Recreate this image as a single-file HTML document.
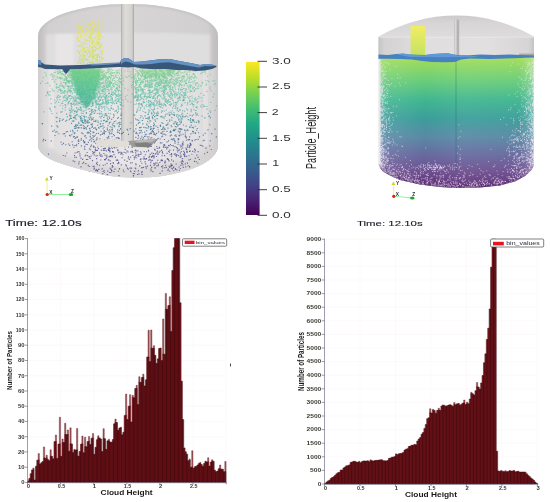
<!DOCTYPE html><html><head><meta charset="utf-8"><title>Particle height</title>
<style>html,body{margin:0;padding:0;background:#fff}svg{display:block}text{font-family:"Liberation Sans",sans-serif}</style></head><body>
<svg width="550" height="502" viewBox="0 0 550 502">
<rect width="550" height="502" fill="#fff"/>
<defs>
<filter id="bl" x="-5%" y="-5%" width="110%" height="110%"><feGaussianBlur stdDeviation="0.5"/></filter>
<filter id="bl3" x="-5%" y="-20%" width="110%" height="140%"><feGaussianBlur stdDeviation="2"/></filter>
<filter id="bl2" x="-5%" y="-5%" width="110%" height="110%"><feGaussianBlur stdDeviation="1.0"/></filter>
<linearGradient id="cb" x1="0" y1="0" x2="0" y2="1"><stop offset="0.000" stop-color="#fde725"/><stop offset="0.100" stop-color="#bddf26"/><stop offset="0.200" stop-color="#7ad151"/><stop offset="0.300" stop-color="#44bf70"/><stop offset="0.400" stop-color="#22a884"/><stop offset="0.500" stop-color="#21918c"/><stop offset="0.600" stop-color="#2a788e"/><stop offset="0.700" stop-color="#355f8d"/><stop offset="0.800" stop-color="#414487"/><stop offset="0.900" stop-color="#482475"/><stop offset="1.000" stop-color="#440154"/></linearGradient>
<linearGradient id="tk" x1="0" y1="0" x2="1" y2="0"><stop offset="0" stop-color="#bfbdbe"/><stop offset="0.03" stop-color="#cac8c9"/><stop offset="0.06" stop-color="#d2d0d1"/><stop offset="0.5" stop-color="#d7d5d6"/><stop offset="0.94" stop-color="#d1cfd0"/><stop offset="1" stop-color="#bdbbbc"/></linearGradient>
<linearGradient id="tkw" x1="0" y1="0" x2="1" y2="0"><stop offset="0" stop-color="#cfcdce"/><stop offset="0.04" stop-color="#dddbdc"/><stop offset="0.14" stop-color="#e3e1e2"/><stop offset="0.5" stop-color="#e8e6e6"/><stop offset="0.88" stop-color="#e2e0e1"/><stop offset="0.97" stop-color="#d6d4d5"/><stop offset="1" stop-color="#cbc9ca"/></linearGradient>
<linearGradient id="sh" x1="0" y1="0" x2="1" y2="0"><stop offset="0" stop-color="#a9a7a5"/><stop offset="0.12" stop-color="#cfcdc9"/><stop offset="0.35" stop-color="#dedcd8"/><stop offset="0.85" stop-color="#d3d1cd"/><stop offset="1" stop-color="#a5a3a1"/></linearGradient>
<linearGradient id="pl" x1="0" y1="0" x2="0" y2="1"><stop offset="0" stop-color="#55ca74"/><stop offset="1" stop-color="#38b38e"/></linearGradient>
<linearGradient id="rb" x1="0" y1="0" x2="0" y2="1"><stop offset="0.000" stop-color="#a2dd57"/><stop offset="0.160" stop-color="#6cce78"/><stop offset="0.313" stop-color="#40b690"/><stop offset="0.450" stop-color="#3b9e9a"/><stop offset="0.588" stop-color="#5989a5"/><stop offset="0.725" stop-color="#67699f"/><stop offset="0.847" stop-color="#6d4e8f"/><stop offset="1.000" stop-color="#58216c"/></linearGradient>
<linearGradient id="rbx" x1="0" y1="0" x2="1" y2="0"><stop offset="0" stop-color="#fff" stop-opacity="0.28"/><stop offset="0.05" stop-color="#fff" stop-opacity="0.1"/><stop offset="0.3" stop-color="#fff" stop-opacity="0.0"/><stop offset="0.55" stop-color="#fff" stop-opacity="0.06"/><stop offset="0.9" stop-color="#fff" stop-opacity="0.03"/><stop offset="1" stop-color="#fff" stop-opacity="0.25"/></linearGradient>
<linearGradient id="dm" x1="0" y1="0" x2="0" y2="1"><stop offset="0.03" stop-color="#cdcacc"/><stop offset="0.07" stop-color="#d8d5d7"/><stop offset="0.14" stop-color="#dedbdd"/></linearGradient>
<linearGradient id="tk2" x1="0" y1="0" x2="1" y2="0"><stop offset="0" stop-color="#c4c2c3"/><stop offset="0.04" stop-color="#d4d2d3"/><stop offset="0.3" stop-color="#e0dede"/><stop offset="0.7" stop-color="#e1dfdf"/><stop offset="0.96" stop-color="#d6d4d5"/><stop offset="1" stop-color="#c2c0c1"/></linearGradient>
<linearGradient id="yc" x1="0" y1="0" x2="0" y2="1"><stop offset="0" stop-color="#f2ec64"/><stop offset="1" stop-color="#c2e262"/></linearGradient>
<clipPath id="lt"><path d="M38,36 A90,32 0 0 1 218,36 L218,145 C218,157 203,169 165,175.5 C150,178.5 112,178.5 96,173 C62,165 38,158 38,145 Z"/></clipPath>
<clipPath id="rt"><path d="M378.5,36.5 A155,155 0 0 1 534,36.5 L534,164 L534,164 L533,167 L531,170.5 L525,176 L515,181.5 L500,185.5 L480,187.5 L456,188 L440,187 L420,184.5 L400,180 L390,175.5 L383,171.5 L380,168 L378.5,164 Z"/></clipPath>
</defs>
<g clip-path="url(#lt)">
<rect x="38" y="0" width="180" height="180" fill="url(#tk)"/>
<g filter="url(#bl2)"><path d="M46,34.5 Q128,30.5 210,34.5 L210,67 L46,67Z" fill="#e2e0e1" opacity="0.85"/><rect x="55.5" y="33.5" width="18" height="32" fill="#edebec" opacity="0.6"/></g>
<g filter="url(#bl2)"><path d="M38,36 A90,32 0 0 1 218,36 L218,145 C218,157 203,169 165,175.5 C150,178.5 112,178.5 96,173 C62,165 38,158 38,145 Z" fill="none" stroke="#c2c0c1" stroke-width="3.5" opacity="0.8"/></g>
<rect x="38" y="66" width="180" height="115" fill="url(#tkw)"/>
<rect x="48.5" y="68" width="5.5" height="80" fill="#efeded" opacity="0.45"/>
<rect x="203" y="68" width="5" height="78" fill="#edebeb" opacity="0.4"/>
<g filter="url(#bl3)"><path d="M30,136 C55,158 100,167 128,167 C160,167 203,158 226,136 L226,185 L30,185Z" fill="#d0cecf" opacity="0.6"/></g>
<rect x="121" y="0" width="13" height="140" fill="url(#sh)"/>
<g filter="url(#bl2)"><path d="M70,68.5 L101,68.5 L99.5,80 L96,92 L91,104 L85,108 L80.5,100 L75,88 L71.5,78Z" fill="url(#pl)" opacity="0.72"/><path d="M138,69 L176,69 L172,75 L160,79 L146,77Z" fill="#6fd07a" opacity="0.35"/></g>
<g filter="url(#bl)">
<path d="M111.1 170.9h1.15M137.0 174.5h1.15M129.9 171.0h1.15M98.3 169.3h1.15M137.8 170.9h1.15M118.4 175.6h1.15M126.9 168.1h1.15M164.2 167.7h1.15M150.4 169.1h1.15M74.1 161.7h1.15M193.9 161.4h1.15M159.5 173.4h1.15" stroke="#482576" stroke-width="1.15" fill="none" opacity="0.72"/>
<path d="M181.2 163.5h1.15M145.3 166.6h1.15M130.3 151.8h1.15M109.5 156.1h1.15M130.0 157.2h1.15M93.0 152.7h1.15M143.9 158.5h1.15M132.8 175.8h1.15M96.1 158.6h1.15M161.6 160.2h1.15M182.4 165.0h1.15M178.1 155.6h1.15M80.5 166.9h1.15M186.9 163.1h1.15M110.0 163.6h1.15M111.1 170.3h1.15M161.1 166.6h1.15M173.2 167.0h1.15M133.9 159.0h1.15M166.9 158.9h1.15M141.0 172.1h1.15M93.8 168.1h1.15M101.6 168.9h1.15M110.4 169.3h1.15M135.7 157.7h1.15M88.7 166.5h1.15M125.3 152.9h1.15M92.4 153.6h1.15M99.0 153.1h1.15M100.3 156.3h1.15M179.8 168.5h1.15M150.7 161.0h1.15M149.9 165.4h1.15M160.9 159.9h1.15M94.9 147.7h1.15M178.8 170.2h1.15M102.8 148.5h1.15M172.9 167.6h1.15M122.9 170.0h1.15M161.4 160.2h1.15M80.4 158.1h1.15M144.5 161.8h1.15M180.7 162.1h1.15M198.8 159.5h1.15M157.1 160.2h1.15M76.6 152.5h1.15M130.9 168.1h1.15M95.2 170.7h1.15M118.9 168.9h1.15M145.1 163.9h1.15M181.7 161.3h1.15M154.5 167.6h1.15M121.5 157.7h1.15M141.2 174.2h1.15M165.7 167.4h1.15M151.1 167.4h1.15M131.6 162.7h1.15M189.6 151.0h1.15M114.4 169.1h1.15M91.9 160.6h1.15M102.7 165.2h1.15M189.1 166.9h1.15M93.5 152.6h1.15M178.5 167.0h1.15M107.2 171.1h1.15M118.9 168.5h1.15M173.1 170.7h1.15M134.1 171.4h1.15M157.9 164.2h1.15M104.3 159.9h1.15M117.3 163.6h1.15M111.7 167.1h1.15M154.3 164.4h1.15M88.6 171.7h1.15M157.6 165.6h1.15M85.3 163.6h1.15M171.1 155.0h1.15M164.4 162.8h1.15M92.5 166.5h1.15M105.0 159.2h1.15M82.2 163.5h1.15M150.5 170.9h1.15M154.5 168.1h1.15M160.5 160.6h1.15M96.4 150.5h1.15M161.9 151.7h1.15M181.7 163.6h1.15M171.3 165.3h1.15M153.3 163.4h1.15M115.7 160.2h1.15M103.5 170.5h1.15M175.6 164.0h1.15M102.2 173.6h1.15M169.2 167.3h1.15M128.0 147.0h1.15M153.5 165.3h1.15M139.1 165.9h1.15M181.8 160.2h1.15M145.3 159.1h1.15M151.7 160.4h1.15M141.8 171.7h1.15M126.5 161.3h1.15M176.6 150.0h1.15M167.9 159.4h1.15M127.6 169.1h1.15M83.1 162.3h1.15M186.9 146.0h1.15M109.2 172.5h1.15M161.7 170.8h1.15M141.6 174.5h1.15M167.4 170.3h1.15M112.7 162.7h1.15M97.0 171.1h1.15M106.8 174.6h1.15M114.9 157.1h1.15M112.1 151.6h1.15M156.0 156.5h1.15M164.1 155.6h1.15M89.6 158.4h1.15M189.0 166.6h1.15M167.7 169.0h1.15M146.0 158.6h1.15M117.8 171.2h1.15M141.2 163.2h1.15M162.1 168.0h1.15M174.9 168.9h1.15M133.9 173.7h1.15M182.6 161.7h1.15M108.1 150.4h1.15M87.7 165.4h1.15M118.1 163.1h1.15M170.3 166.1h1.15M132.7 173.5h1.15M106.5 163.3h1.15M111.8 165.6h1.15M152.2 171.6h1.15M74.5 153.0h1.15M144.2 159.0h1.15" stroke="#46337f" stroke-width="1.15" fill="none" opacity="0.72"/>
<path d="M95.3 150.2h1.15M130.1 162.9h1.15M158.5 148.1h1.15M142.7 158.8h1.15M186.3 151.3h1.15M164.2 162.1h1.15M116.7 143.8h1.15M134.7 168.0h1.15M148.4 157.3h1.15M88.7 156.6h1.15M183.9 152.2h1.15M140.3 158.9h1.15M146.0 151.7h1.15M123.4 171.7h1.15M133.7 157.3h1.15M152.5 156.4h1.15M86.6 152.5h1.15M101.6 156.1h1.15M188.4 159.8h1.15M171.9 168.9h1.15M171.0 153.6h1.15M184.3 156.6h1.15M82.0 159.3h1.15M156.2 165.9h1.15M128.8 159.4h1.15M189.9 159.2h1.15M184.8 163.8h1.15M74.1 157.2h1.15M105.9 150.9h1.15M110.3 172.5h1.15M186.1 149.6h1.15M184.4 154.7h1.15M165.0 165.2h1.15M121.1 153.3h1.15M117.9 152.9h1.15M73.9 155.5h1.15M103.9 172.2h1.15M85.2 155.1h1.15M181.9 158.5h1.15M131.4 151.0h1.15M135.1 152.9h1.15M189.0 151.3h1.15M195.8 161.7h1.15M182.3 144.8h1.15M194.7 158.3h1.15M129.6 168.1h1.15M120.4 152.4h1.15M155.0 163.0h1.15M177.1 148.4h1.15M185.1 166.8h1.15M136.6 146.2h1.15M179.6 157.4h1.15M75.7 157.4h1.15M162.1 165.9h1.15M120.8 164.9h1.15M50.7 141.0h1.15M156.9 151.1h1.15M149.6 154.4h1.15M170.5 164.1h1.15M197.5 157.3h1.15M120.2 154.1h1.15M149.8 159.8h1.15M118.8 152.2h1.15M135.7 155.1h1.15M131.7 144.5h1.15M140.1 151.7h1.15M159.2 162.5h1.15M125.9 165.9h1.15M163.3 144.9h1.15M190.2 145.0h1.15M152.3 155.2h1.15M180.7 151.6h1.15M197.4 163.2h1.15M166.2 148.8h1.15M179.7 153.1h1.15M154.5 150.1h1.15M180.0 147.0h1.15M96.7 164.6h1.15M135.8 151.0h1.15M135.3 155.4h1.15M95.5 155.9h1.15M206.8 152.3h1.15M78.6 161.8h1.15M112.8 163.2h1.15M153.4 158.0h1.15M107.6 160.0h1.15M78.2 163.8h1.15M175.3 155.3h1.15M143.4 156.8h1.15M84.2 149.5h1.15M122.3 154.7h1.15M151.7 156.2h1.15M99.0 165.2h1.15M104.1 159.5h1.15M135.5 164.7h1.15M132.0 145.9h1.15M110.5 155.9h1.15M205.4 148.1h1.15M125.7 142.4h1.15M93.4 166.3h1.15M175.6 154.5h1.15M171.0 159.9h1.15M161.8 152.5h1.15M135.1 168.6h1.15M148.6 159.2h1.15M161.7 160.6h1.15M180.3 155.1h1.15M194.0 149.1h1.15M125.2 164.8h1.15M170.6 165.9h1.15M154.7 153.8h1.15M171.6 165.4h1.15M107.4 157.0h1.15M162.8 146.7h1.15M64.7 155.9h1.15M170.9 154.1h1.15M169.3 150.1h1.15M93.3 147.1h1.15M183.9 153.2h1.15M168.0 145.5h1.15M150.9 157.1h1.15M116.3 147.7h1.15M96.7 162.2h1.15M140.5 153.1h1.15M86.7 144.5h1.15M186.3 152.2h1.15M107.9 149.8h1.15M149.0 156.4h1.15M124.4 146.7h1.15M187.5 165.7h1.15M113.4 171.6h1.15M164.7 161.1h1.15M72.6 160.8h1.15M78.5 151.9h1.15M158.9 147.4h1.15M171.2 168.3h1.15M109.4 148.7h1.15M104.5 155.1h1.15M138.1 156.1h1.15M106.0 156.7h1.15M176.2 169.9h1.15M169.8 144.6h1.15M113.4 154.6h1.15M93.7 154.9h1.15M109.4 151.9h1.15M117.4 150.6h1.15M172.9 150.1h1.15M138.4 173.8h1.15M165.1 147.4h1.15M127.7 158.0h1.15M189.2 147.7h1.15M168.4 160.5h1.15M109.8 156.4h1.15M182.5 144.1h1.15M93.5 169.1h1.15M140.1 161.2h1.15M146.9 166.1h1.15M90.2 146.6h1.15M134.7 156.9h1.15M150.1 162.7h1.15M145.7 168.1h1.15M132.4 155.5h1.15M104.2 148.4h1.15M124.5 143.0h1.15M156.9 154.1h1.15M153.4 157.1h1.15M183.0 154.3h1.15M144.8 154.7h1.15M85.9 159.5h1.15M109.6 160.8h1.15M157.7 154.1h1.15M100.5 154.7h1.15M130.4 171.7h1.15M172.8 161.1h1.15M169.4 154.7h1.15M191.3 154.2h1.15M90.7 156.0h1.15M182.1 148.0h1.15M161.5 155.7h1.15M112.5 166.7h1.15M94.7 149.3h1.15M179.0 149.9h1.15M132.9 175.7h1.15M95.4 170.4h1.15M138.5 154.5h1.15M96.0 163.4h1.15M168.3 161.0h1.15M111.7 148.5h1.15M168.6 166.3h1.15M141.4 167.7h1.15M96.8 170.3h1.15M47.9 154.1h1.15M75.6 145.6h1.15M169.1 171.2h1.15M159.5 151.2h1.15M166.8 159.0h1.15M150.7 144.2h1.15M196.2 155.1h1.15M79.3 153.9h1.15M180.6 156.6h1.15M194.8 150.5h1.15M170.9 156.7h1.15M137.5 155.9h1.15M106.2 155.2h1.15M118.0 162.3h1.15M95.8 169.6h1.15M89.1 156.5h1.15M100.2 160.0h1.15M105.8 158.3h1.15M174.8 169.1h1.15M162.1 166.0h1.15M84.6 156.0h1.15M140.2 154.5h1.15M103.3 153.5h1.15M60.5 142.2h1.15M96.7 150.5h1.15M156.4 163.1h1.15M194.8 150.1h1.15M102.8 150.5h1.15M192.1 151.3h1.15M135.2 163.7h1.15M97.8 148.6h1.15M117.2 160.3h1.15M186.0 156.3h1.15M127.4 151.8h1.15M88.5 156.8h1.15M79.4 155.9h1.15M182.7 167.3h1.15M151.2 153.1h1.15M183.1 151.4h1.15M100.8 150.1h1.15M137.7 154.4h1.15M87.1 159.5h1.15M99.3 155.1h1.15M180.3 165.4h1.15M147.3 147.3h1.15M176.6 154.9h1.15" stroke="#424086" stroke-width="1.15" fill="none" opacity="0.72"/>
<path d="M197.5 151.6h1.15M109.6 168.4h1.15M199.7 145.2h1.15M181.9 143.3h1.15M100.8 145.9h1.15M168.5 145.9h1.15M140.0 141.9h1.15M102.6 171.5h1.15M100.0 143.2h1.15M116.7 159.8h1.15M161.0 150.3h1.15M188.4 155.7h1.15M118.0 142.4h1.15M97.1 147.0h1.15M96.5 139.6h1.15M74.2 145.5h1.15M108.7 148.9h1.15M191.8 140.9h1.15M117.8 140.6h1.15M104.2 139.6h1.15M108.6 146.5h1.15M155.3 153.7h1.15M137.2 142.7h1.15M116.0 142.5h1.15M175.6 136.4h1.15M123.4 143.2h1.15M152.8 153.4h1.15M124.7 149.4h1.15M99.5 141.3h1.15M78.3 141.4h1.15M171.3 145.5h1.15M128.0 156.8h1.15M108.5 142.6h1.15M187.4 139.7h1.15M183.8 155.1h1.15M147.0 144.0h1.15M134.7 150.6h1.15M156.4 152.3h1.15M80.8 145.9h1.15M200.7 145.5h1.15M107.0 144.5h1.15M191.5 140.4h1.15M177.8 150.4h1.15M114.1 141.4h1.15M108.3 147.9h1.15M143.1 145.4h1.15M185.4 148.0h1.15M210.7 149.5h1.15M164.1 145.4h1.15M111.0 147.0h1.15M189.7 143.9h1.15M188.9 139.5h1.15M156.2 146.5h1.15M163.3 147.3h1.15M204.0 153.7h1.15M109.3 151.1h1.15M123.4 140.1h1.15M141.3 138.0h1.15M163.9 139.5h1.15M143.6 151.6h1.15M124.7 149.3h1.15M84.2 146.3h1.15M209.8 140.7h1.15M179.6 145.1h1.15M113.3 147.1h1.15M104.7 164.7h1.15M190.1 145.0h1.15M126.4 150.9h1.15M163.9 144.7h1.15M100.7 146.3h1.15M95.2 150.3h1.15M107.7 149.2h1.15M163.7 145.7h1.15M44.9 140.3h1.15M186.6 152.0h1.15M92.1 151.6h1.15M114.1 147.9h1.15M195.5 139.5h1.15M115.8 137.8h1.15M94.3 151.9h1.15M189.2 146.1h1.15M171.6 139.6h1.15M140.8 143.0h1.15M148.8 145.9h1.15M102.4 145.8h1.15M72.1 144.9h1.15M95.7 140.3h1.15M86.9 155.6h1.15M133.1 142.0h1.15M130.9 140.1h1.15M136.3 140.5h1.15M124.9 144.6h1.15M129.6 138.9h1.15M141.4 167.6h1.15M108.8 150.5h1.15M124.1 160.1h1.15M90.8 145.1h1.15M185.7 149.1h1.15M135.0 150.1h1.15M96.9 155.7h1.15M181.6 145.0h1.15M117.2 149.8h1.15M181.0 149.0h1.15M112.0 151.7h1.15M136.0 145.5h1.15M117.3 137.7h1.15M154.1 149.4h1.15M168.9 152.1h1.15M123.8 144.9h1.15M175.8 156.3h1.15M128.9 144.1h1.15M139.9 159.5h1.15M158.7 152.4h1.15M131.6 147.3h1.15M104.3 150.4h1.15M148.2 160.5h1.15M103.3 140.5h1.15M173.3 139.0h1.15M121.4 153.0h1.15M132.3 140.6h1.15M190.2 145.0h1.15M177.6 138.6h1.15M150.3 146.4h1.15M187.2 147.3h1.15M148.0 150.9h1.15M145.3 136.2h1.15M93.7 141.4h1.15M178.2 139.1h1.15M77.4 151.5h1.15M193.8 152.0h1.15M137.8 135.3h1.15M92.6 137.1h1.15M83.5 142.7h1.15M131.8 151.6h1.15M132.3 152.5h1.15M153.9 142.8h1.15M111.6 156.9h1.15M194.3 140.2h1.15M90.0 149.7h1.15M194.2 152.0h1.15M183.9 155.8h1.15M178.8 135.8h1.15M156.6 148.3h1.15M73.3 147.2h1.15M92.7 146.0h1.15M140.0 145.9h1.15M174.6 153.5h1.15M177.1 151.9h1.15M145.2 143.9h1.15M82.3 133.6h1.15M88.9 148.8h1.15M153.6 155.9h1.15M76.1 144.7h1.15M176.2 147.7h1.15M187.3 144.8h1.15M172.7 145.8h1.15M113.0 152.1h1.15M173.7 154.4h1.15M137.8 144.4h1.15M72.9 136.9h1.15M93.4 146.7h1.15M174.5 141.2h1.15M135.3 137.4h1.15M109.1 148.4h1.15M146.8 146.0h1.15M209.2 145.9h1.15M149.4 141.3h1.15M80.6 140.1h1.15M66.3 153.0h1.15M108.3 159.8h1.15M168.0 140.9h1.15M202.2 146.1h1.15M42.5 140.8h1.15M123.9 146.3h1.15M84.7 135.6h1.15M103.4 149.9h1.15M188.8 146.9h1.15M114.5 140.9h1.15M116.9 140.7h1.15M162.2 153.7h1.15M167.3 147.5h1.15M168.1 151.4h1.15M69.1 145.4h1.15M181.3 146.3h1.15M159.8 142.8h1.15M99.8 134.8h1.15M147.9 150.4h1.15M123.5 152.4h1.15M77.6 140.9h1.15M113.6 141.3h1.15M151.2 156.8h1.15M142.9 167.4h1.15M202.7 140.7h1.15M190.4 144.2h1.15M91.0 141.2h1.15M62.8 155.5h1.15M77.9 143.5h1.15M141.1 143.1h1.15M137.3 150.9h1.15M166.5 153.3h1.15M166.3 147.1h1.15M87.8 142.3h1.15M134.4 146.1h1.15M104.8 148.4h1.15" stroke="#3e4c8a" stroke-width="1.15" fill="none" opacity="0.72"/>
<path d="M120.9 144.2h1.15M99.3 138.8h1.15M161.2 136.7h1.15M135.8 132.3h1.15M108.3 138.0h1.15M83.9 148.0h1.15M161.2 142.9h1.15M154.9 141.6h1.15M101.5 134.4h1.15M84.0 142.6h1.15M121.7 133.4h1.15M185.1 136.6h1.15M83.4 141.6h1.15M139.7 142.4h1.15M107.1 138.8h1.15M170.8 135.0h1.15M137.4 145.4h1.15M170.6 135.1h1.15M55.3 132.1h1.15M102.9 142.3h1.15M203.8 140.2h1.15M111.5 129.5h1.15M125.4 139.6h1.15M174.4 135.6h1.15M119.0 140.3h1.15M139.9 138.8h1.15M182.5 134.2h1.15M175.9 147.2h1.15M68.0 144.0h1.15M184.7 136.7h1.15M211.1 133.6h1.15M76.6 136.5h1.15M185.8 137.8h1.15M173.3 138.8h1.15M189.4 145.5h1.15M64.7 136.0h1.15M166.5 141.8h1.15M96.5 137.7h1.15M125.8 140.3h1.15M179.4 131.6h1.15M174.4 141.7h1.15M171.3 139.1h1.15M150.5 133.1h1.15M108.6 132.3h1.15M153.4 139.0h1.15M93.5 141.8h1.15M157.5 138.3h1.15M78.0 139.7h1.15M154.1 134.3h1.15M169.8 135.8h1.15M165.2 134.8h1.15M130.7 142.6h1.15M75.1 137.9h1.15M92.8 139.5h1.15M118.7 138.4h1.15M170.8 139.2h1.15M141.3 136.2h1.15M119.1 142.9h1.15M198.9 136.9h1.15M82.9 140.6h1.15M153.4 128.3h1.15M84.1 141.8h1.15M71.6 141.7h1.15M185.6 137.1h1.15M156.0 133.4h1.15M161.9 136.1h1.15M188.2 139.8h1.15M106.1 144.5h1.15M62.6 133.9h1.15M180.4 134.9h1.15M148.8 133.9h1.15M43.0 139.3h1.15M65.1 144.7h1.15M145.7 134.2h1.15M150.2 138.2h1.15M163.3 131.2h1.15M76.5 137.3h1.15M174.5 143.2h1.15M162.5 134.2h1.15M178.5 135.4h1.15M83.9 128.5h1.15M103.8 132.9h1.15M173.8 140.3h1.15M73.8 136.5h1.15M150.5 146.3h1.15M185.9 140.2h1.15M182.6 141.9h1.15M62.9 143.3h1.15M174.4 146.6h1.15M159.6 139.0h1.15M122.9 132.3h1.15M113.7 135.6h1.15M107.9 136.3h1.15M69.0 135.3h1.15M96.1 139.1h1.15M189.8 143.3h1.15M143.0 137.8h1.15M93.2 132.2h1.15M128.2 140.1h1.15M138.1 137.0h1.15M141.5 145.6h1.15M111.5 136.7h1.15M85.5 144.3h1.15M117.1 129.8h1.15M64.0 133.6h1.15M194.8 133.4h1.15M95.8 133.5h1.15M109.3 156.8h1.15M150.0 133.1h1.15M147.3 136.8h1.15M155.5 140.4h1.15M184.8 135.1h1.15M153.8 134.1h1.15M177.6 142.3h1.15M112.4 140.2h1.15M175.3 134.7h1.15M118.5 138.5h1.15M91.3 138.6h1.15M127.9 134.3h1.15M189.0 136.8h1.15M142.2 139.6h1.15M108.1 136.6h1.15M95.3 143.3h1.15M111.5 156.1h1.15M153.3 134.5h1.15M155.0 134.8h1.15M85.6 137.8h1.15M106.5 137.5h1.15M106.7 143.2h1.15M177.4 144.2h1.15M61.6 144.5h1.15M110.2 131.0h1.15M65.7 131.8h1.15M52.3 131.3h1.15M147.8 139.1h1.15M177.6 139.9h1.15M113.9 139.7h1.15M113.2 140.9h1.15M172.8 130.3h1.15M133.5 131.1h1.15M89.6 136.4h1.15M69.7 135.8h1.15M149.5 141.3h1.15" stroke="#38588c" stroke-width="1.15" fill="none" opacity="0.72"/>
<path d="M102.2 133.3h1.15M118.8 130.5h1.15M72.4 131.8h1.15M100.5 131.2h1.15M187.4 130.5h1.15M150.4 126.6h1.15M109.6 126.7h1.15M70.0 131.0h1.15M58.2 133.7h1.15M80.8 138.6h1.15M90.2 137.7h1.15M153.0 125.8h1.15M196.1 130.2h1.15M161.9 131.9h1.15M107.4 130.7h1.15M91.5 127.3h1.15M92.3 135.5h1.15M191.7 127.3h1.15M214.5 129.1h1.15M76.9 130.7h1.15M102.4 123.6h1.15M160.9 129.5h1.15M77.7 127.6h1.15M169.4 132.2h1.15M136.5 133.7h1.15M140.2 130.2h1.15M85.9 129.1h1.15M84.2 136.2h1.15M87.5 132.0h1.15M112.9 134.5h1.15M153.6 133.1h1.15M150.2 128.7h1.15M89.8 139.7h1.15M111.4 127.4h1.15M93.6 136.4h1.15M151.2 131.7h1.15M71.2 134.7h1.15M57.2 126.8h1.15M142.2 141.2h1.15M109.0 133.9h1.15M103.8 133.9h1.15M179.0 128.9h1.15M119.0 133.3h1.15M160.5 132.8h1.15M215.8 136.9h1.15M158.0 131.9h1.15M85.4 127.7h1.15M174.0 130.6h1.15M162.3 128.4h1.15M117.8 137.8h1.15M148.5 137.0h1.15M144.1 132.1h1.15M129.8 140.2h1.15M89.0 140.2h1.15M117.0 132.0h1.15M186.6 130.0h1.15M88.5 132.6h1.15M79.2 127.7h1.15M175.7 127.0h1.15M106.8 129.3h1.15M161.2 133.5h1.15M164.6 129.4h1.15M74.3 132.6h1.15M95.9 129.7h1.15M152.8 131.6h1.15M141.2 141.8h1.15M175.1 129.3h1.15M97.8 133.4h1.15M92.5 132.1h1.15M56.5 131.7h1.15M92.6 132.7h1.15M144.9 127.7h1.15M138.7 130.5h1.15M54.4 135.5h1.15M120.9 133.8h1.15M90.1 131.5h1.15M137.3 138.6h1.15M87.4 133.1h1.15M126.6 129.3h1.15M186.9 129.8h1.15M86.8 132.8h1.15M144.0 136.4h1.15M116.9 132.4h1.15M110.4 133.7h1.15M184.8 133.0h1.15M88.9 128.7h1.15M74.4 138.4h1.15M194.7 132.9h1.15M102.6 128.7h1.15M151.9 130.6h1.15M135.3 133.4h1.15M144.8 134.5h1.15M163.6 134.1h1.15M94.7 135.2h1.15M170.3 132.3h1.15M111.8 131.0h1.15M190.4 133.8h1.15M162.2 129.1h1.15M184.0 130.1h1.15M98.4 128.2h1.15M73.7 133.6h1.15M129.6 128.6h1.15M111.3 133.1h1.15M192.9 127.8h1.15M202.7 135.1h1.15M109.3 140.7h1.15M89.9 133.9h1.15M192.5 133.0h1.15M103.5 131.2h1.15M179.1 132.8h1.15M166.4 131.3h1.15M91.8 126.2h1.15M150.6 133.6h1.15M112.4 125.4h1.15M98.1 127.5h1.15M81.1 132.9h1.15M197.9 132.7h1.15M160.5 133.5h1.15M151.2 137.5h1.15M170.0 131.4h1.15M197.6 139.3h1.15" stroke="#33638d" stroke-width="1.15" fill="none" opacity="0.72"/>
<path d="M67.0 131.5h1.15M80.6 124.9h1.15M77.2 125.3h1.15M82.8 122.9h1.15M103.1 133.0h1.15M179.2 124.5h1.15M111.7 129.1h1.15M91.8 123.9h1.15M93.2 128.4h1.15M89.6 130.4h1.15M173.9 130.3h1.15M189.7 127.1h1.15M113.8 121.6h1.15M75.3 128.4h1.15M80.4 125.2h1.15M78.3 123.5h1.15M191.6 115.9h1.15M196.7 128.5h1.15M140.8 130.8h1.15M72.1 130.4h1.15M174.8 126.5h1.15M153.0 128.2h1.15M147.7 127.9h1.15M170.0 131.3h1.15M90.4 124.3h1.15M159.7 125.2h1.15M155.5 126.1h1.15M165.7 125.3h1.15M105.2 131.6h1.15M152.8 129.0h1.15M135.2 128.8h1.15M147.0 121.5h1.15M140.5 127.4h1.15M85.0 123.1h1.15M106.8 128.0h1.15M84.7 120.4h1.15M162.7 127.0h1.15M74.2 128.5h1.15M152.4 131.8h1.15M95.9 129.7h1.15M75.0 125.5h1.15M118.5 125.9h1.15M94.3 121.4h1.15M149.9 129.6h1.15M163.8 128.8h1.15M119.9 129.1h1.15M108.9 122.5h1.15M177.7 131.3h1.15M139.6 132.6h1.15M176.0 124.3h1.15M180.1 129.6h1.15M146.1 128.0h1.15M51.1 126.1h1.15M181.3 129.3h1.15M192.9 131.6h1.15M153.4 123.1h1.15M166.0 124.8h1.15M167.4 128.1h1.15M185.2 130.9h1.15M148.0 126.4h1.15M141.6 132.7h1.15M77.7 128.0h1.15M135.9 125.1h1.15M172.8 130.7h1.15M178.5 128.8h1.15M86.6 122.6h1.15M95.3 128.9h1.15M103.8 130.6h1.15M118.3 132.2h1.15M81.2 125.0h1.15M116.6 123.7h1.15M207.4 129.9h1.15M107.4 125.7h1.15M138.7 133.2h1.15M143.3 127.3h1.15M163.2 127.4h1.15M119.9 128.6h1.15M109.0 129.8h1.15M127.1 130.2h1.15M83.3 128.7h1.15M118.4 126.6h1.15M139.2 127.6h1.15M177.2 126.0h1.15M180.2 128.6h1.15M204.6 133.4h1.15M83.3 128.1h1.15M41.6 123.6h1.15M157.5 129.7h1.15M177.4 124.9h1.15M91.2 125.0h1.15M76.1 126.9h1.15M53.7 130.2h1.15M192.0 131.4h1.15M74.6 126.6h1.15M146.5 125.1h1.15M146.1 130.6h1.15M173.4 129.4h1.15M170.6 125.6h1.15M119.0 124.0h1.15M79.5 125.2h1.15M151.2 128.8h1.15M189.0 127.1h1.15M75.1 124.9h1.15M176.7 122.7h1.15M94.5 127.6h1.15M175.9 123.2h1.15" stroke="#2e6d8e" stroke-width="1.15" fill="none" opacity="0.72"/>
<path d="M87.4 125.5h1.15M192.5 120.6h1.15M119.6 124.4h1.15M191.2 122.2h1.15M174.5 121.9h1.15M120.0 115.2h1.15M159.9 126.3h1.15M146.1 124.0h1.15M90.9 119.9h1.15M71.8 121.0h1.15M180.2 122.9h1.15M103.5 127.3h1.15M75.5 119.2h1.15M106.7 121.4h1.15M75.3 115.6h1.15M103.2 117.5h1.15M100.6 121.1h1.15M162.4 123.5h1.15M87.3 120.8h1.15M83.5 126.5h1.15M81.9 122.4h1.15M157.2 127.4h1.15M154.0 116.6h1.15M185.6 126.1h1.15M180.9 121.8h1.15M138.0 123.0h1.15M61.8 120.2h1.15M111.1 119.3h1.15M105.4 121.9h1.15M111.8 124.0h1.15M107.4 119.6h1.15M62.6 119.3h1.15M161.3 122.6h1.15M97.5 122.3h1.15M167.4 123.1h1.15M150.2 121.0h1.15M100.7 126.3h1.15M139.2 122.3h1.15M149.3 120.9h1.15M173.4 123.9h1.15M86.4 121.6h1.15M83.7 119.1h1.15M118.9 122.2h1.15M171.3 120.2h1.15M148.6 123.0h1.15M68.8 119.7h1.15M144.4 115.9h1.15M72.7 121.2h1.15M102.3 125.8h1.15M142.3 123.9h1.15M148.7 116.8h1.15M175.0 121.9h1.15M117.1 118.4h1.15M120.2 118.7h1.15M182.9 125.0h1.15M74.1 126.6h1.15M198.4 121.4h1.15M138.1 120.3h1.15M99.8 126.6h1.15M115.1 121.0h1.15M141.9 120.5h1.15M190.7 125.1h1.15M142.2 123.9h1.15M86.8 126.3h1.15M97.1 125.2h1.15M56.5 117.7h1.15M169.2 119.9h1.15M81.0 127.9h1.15M70.9 123.4h1.15M84.5 127.9h1.15M114.1 125.9h1.15M84.4 121.5h1.15M209.1 124.7h1.15M56.4 125.9h1.15M136.7 119.5h1.15M190.3 122.4h1.15M78.1 122.2h1.15M179.8 116.7h1.15M181.4 118.9h1.15M195.8 122.3h1.15M72.9 117.6h1.15M153.8 124.5h1.15M193.6 121.9h1.15M80.3 121.0h1.15M92.7 117.9h1.15M65.0 121.2h1.15M73.2 120.8h1.15M208.5 116.3h1.15M153.2 125.5h1.15M136.5 119.8h1.15M59.2 118.5h1.15M119.4 122.4h1.15M42.0 123.6h1.15M87.6 122.9h1.15M88.7 122.3h1.15M197.6 120.9h1.15M130.3 122.7h1.15M66.1 120.3h1.15M149.7 127.0h1.15M139.2 127.6h1.15M159.9 125.4h1.15M59.3 120.3h1.15M100.0 124.0h1.15M103.2 120.6h1.15M85.2 120.1h1.15M171.2 126.7h1.15M168.9 121.2h1.15M89.3 128.3h1.15M117.9 117.5h1.15M152.7 115.4h1.15M95.3 120.3h1.15M167.2 124.6h1.15M113.8 126.6h1.15" stroke="#2a778e" stroke-width="1.15" fill="none" opacity="0.72"/>
<path d="M187.7 119.6h1.15M144.6 112.2h1.15M94.2 110.0h1.15M83.7 120.7h1.15M90.7 114.2h1.15M78.5 109.6h1.15M152.3 118.6h1.15M139.8 117.7h1.15M147.1 118.1h1.15M195.6 114.9h1.15M194.6 126.2h1.15M110.0 122.0h1.15M157.0 115.1h1.15M60.5 112.1h1.15M70.4 115.9h1.15M89.0 119.4h1.15M169.3 114.5h1.15M79.7 116.9h1.15M189.7 119.9h1.15M189.7 120.6h1.15M109.0 118.4h1.15M80.4 118.1h1.15M171.3 117.6h1.15M104.8 113.9h1.15M135.0 118.9h1.15M120.9 114.9h1.15M70.9 109.0h1.15M103.7 120.3h1.15M180.4 120.1h1.15M162.2 117.1h1.15M106.9 118.1h1.15M69.2 115.3h1.15M170.8 113.0h1.15M81.3 118.2h1.15M83.1 116.2h1.15M157.3 115.5h1.15M113.1 114.3h1.15M174.0 115.1h1.15M106.5 115.8h1.15M82.5 113.5h1.15M85.5 116.7h1.15M169.1 115.5h1.15M173.5 114.5h1.15M145.1 118.2h1.15M88.5 117.7h1.15M195.3 110.5h1.15M184.5 116.6h1.15M58.9 121.3h1.15M190.0 118.5h1.15M142.8 118.2h1.15M93.7 113.3h1.15M209.8 117.8h1.15M185.7 116.0h1.15M189.4 115.3h1.15M101.3 116.4h1.15M70.0 118.4h1.15M136.0 112.1h1.15M181.8 116.6h1.15M113.0 123.2h1.15M66.8 116.7h1.15M108.5 116.8h1.15M201.5 116.0h1.15M156.5 118.6h1.15M148.2 119.2h1.15M81.9 120.3h1.15M83.9 117.1h1.15M146.4 118.5h1.15M92.2 119.3h1.15M117.7 122.8h1.15M89.2 115.6h1.15M97.5 121.0h1.15M99.3 116.7h1.15M178.4 119.7h1.15M151.2 113.9h1.15M74.6 117.9h1.15M155.5 115.6h1.15M173.6 115.3h1.15M83.5 122.8h1.15M55.7 117.2h1.15M204.3 117.9h1.15M193.0 119.8h1.15M178.0 120.0h1.15M192.3 120.3h1.15M70.7 118.5h1.15M56.1 121.6h1.15M164.6 116.2h1.15M155.0 121.2h1.15M105.6 115.1h1.15M163.5 118.1h1.15M198.3 122.6h1.15M173.3 123.2h1.15M154.4 119.9h1.15M93.0 121.2h1.15M100.3 118.0h1.15M151.9 117.3h1.15M113.4 115.8h1.15M73.9 117.9h1.15M74.9 118.0h1.15M140.3 115.5h1.15M76.9 114.7h1.15M79.9 118.5h1.15M105.8 121.1h1.15M81.4 121.6h1.15M79.9 116.5h1.15M196.9 114.0h1.15M95.2 121.5h1.15M91.9 119.3h1.15M191.7 119.6h1.15M81.0 120.1h1.15M160.6 116.9h1.15M80.3 119.9h1.15M90.1 117.1h1.15M134.1 115.1h1.15M99.5 123.8h1.15M76.2 124.8h1.15M108.6 123.8h1.15M179.2 121.9h1.15M137.7 123.5h1.15M112.8 117.5h1.15M85.9 112.9h1.15M148.5 118.4h1.15M179.7 110.0h1.15M74.1 111.3h1.15M180.6 118.2h1.15M147.5 114.3h1.15M82.9 125.5h1.15M90.8 118.2h1.15M66.0 114.1h1.15M157.8 113.2h1.15M166.2 120.5h1.15" stroke="#26828e" stroke-width="1.15" fill="none" opacity="0.72"/>
<path d="M177.2 114.6h1.20M168.5 114.9h1.20M154.0 113.0h1.20M207.5 113.7h1.20M115.6 110.4h1.20M98.4 113.3h1.20M193.0 107.0h1.20M99.6 113.4h1.20M164.8 104.7h1.20M156.1 114.1h1.20M69.4 116.1h1.20M141.0 104.2h1.20M43.3 111.9h1.20M95.8 107.2h1.20M136.7 109.2h1.20M112.5 109.3h1.20M151.1 113.1h1.20M83.7 116.0h1.20M71.2 112.2h1.20M87.4 120.4h1.20M182.1 114.0h1.20M176.1 116.4h1.20M104.1 108.4h1.20M75.9 114.4h1.20M176.1 114.9h1.20M153.1 112.3h1.20M117.8 111.5h1.20M85.3 110.1h1.20M190.5 111.7h1.20M176.2 105.0h1.20M80.0 110.5h1.20M117.6 109.1h1.20M69.5 113.9h1.20M90.6 111.0h1.20M183.3 117.0h1.20M90.4 113.5h1.20M176.6 108.0h1.20M167.1 113.8h1.20M204.2 106.4h1.20M161.8 111.3h1.20M97.8 109.7h1.20M141.4 116.6h1.20M165.7 110.2h1.20M85.6 113.2h1.20M150.5 104.0h1.20M165.9 114.0h1.20M209.0 116.1h1.20M99.0 110.6h1.20M68.9 118.8h1.20M155.6 113.2h1.20M177.8 111.4h1.20M76.3 108.1h1.20M49.1 108.2h1.20M195.3 112.8h1.20M96.8 113.5h1.20M151.0 112.3h1.20M181.6 113.2h1.20M159.9 116.5h1.20M101.1 113.6h1.20M172.6 114.5h1.20M153.8 113.9h1.20M74.1 116.2h1.20M76.3 103.2h1.20M82.6 111.6h1.20M166.8 103.5h1.20M74.5 115.7h1.20M161.2 110.6h1.20M179.0 110.0h1.20M91.3 109.9h1.20M164.9 114.8h1.20M114.3 111.4h1.20M161.1 116.0h1.20M109.5 110.3h1.20M182.0 110.9h1.20M176.6 108.6h1.20M78.4 116.3h1.20M187.1 116.8h1.20M148.1 109.9h1.20M105.7 113.6h1.20M197.4 115.5h1.20M116.9 112.6h1.20M69.0 110.5h1.20M150.8 113.0h1.20M76.4 112.1h1.20M81.2 115.6h1.20M92.7 111.7h1.20M152.3 110.4h1.20M160.8 112.3h1.20M120.1 108.8h1.20M76.5 111.9h1.20M109.9 113.8h1.20M95.2 107.2h1.20M98.4 108.5h1.20M173.4 112.7h1.20M80.8 113.2h1.20M73.7 116.9h1.20M104.6 114.9h1.20M149.2 110.6h1.20M149.5 106.1h1.20M99.4 114.4h1.20M148.5 117.3h1.20M110.7 108.1h1.20M108.1 113.3h1.20M104.1 115.8h1.20M136.7 111.2h1.20M181.1 114.7h1.20M91.5 112.6h1.20M87.7 117.9h1.20M49.8 109.3h1.20M73.5 113.3h1.20M51.6 113.7h1.20M120.5 113.1h1.20M186.9 113.7h1.20M64.8 107.6h1.20M192.7 114.6h1.20M209.4 110.8h1.20M141.5 120.4h1.20M178.1 116.1h1.20M182.4 115.8h1.20M77.8 109.0h1.20M89.4 114.3h1.20M151.7 116.6h1.20M179.3 115.3h1.20M173.3 105.0h1.20M104.3 110.1h1.20M90.4 114.3h1.20M147.7 114.4h1.20M182.5 116.8h1.20M178.2 118.9h1.20M94.7 111.8h1.20M137.5 110.0h1.20M78.4 116.1h1.20M210.0 112.3h1.20M169.4 112.1h1.20M70.2 117.8h1.20M69.6 112.4h1.20M108.3 109.8h1.20M157.0 111.9h1.20M98.3 106.3h1.20M88.8 108.6h1.20M177.3 117.7h1.20M70.6 111.1h1.20M94.5 110.3h1.20M153.8 109.4h1.20M157.1 108.4h1.20M132.9 114.6h1.20M171.4 114.1h1.20M140.0 108.8h1.20M68.5 108.8h1.20M102.2 114.9h1.20M112.5 108.8h1.20M152.8 111.2h1.20" stroke="#4aa0a2" stroke-width="1.20" fill="none" opacity="0.60"/>
<path d="M156.7 98.6h1.20M162.7 105.7h1.20M141.2 104.9h1.20M154.0 108.3h1.20M192.4 104.5h1.20M142.5 111.4h1.20M84.6 104.3h1.20M61.5 111.6h1.20M62.4 106.0h1.20M135.4 96.1h1.20M200.0 106.2h1.20M141.8 105.8h1.20M84.7 107.3h1.20M72.6 109.9h1.20M156.3 105.3h1.20M168.4 112.6h1.20M162.0 107.9h1.20M139.4 110.4h1.20M158.9 102.7h1.20M193.4 109.6h1.20M67.9 102.3h1.20M90.7 110.5h1.20M206.5 109.1h1.20M176.7 110.3h1.20M158.3 104.9h1.20M193.3 101.6h1.20M142.9 102.6h1.20M138.2 107.4h1.20M143.7 108.6h1.20M148.1 102.2h1.20M91.9 109.5h1.20M149.9 104.7h1.20M71.1 103.3h1.20M174.9 108.5h1.20M100.9 111.6h1.20M195.7 107.2h1.20M81.0 110.6h1.20M140.0 104.0h1.20M96.4 104.1h1.20M138.2 103.7h1.20M106.4 107.4h1.20M103.7 106.7h1.20M190.5 109.3h1.20M76.0 101.5h1.20M160.0 106.8h1.20M87.7 109.2h1.20M95.2 110.6h1.20M191.2 103.1h1.20M86.1 107.8h1.20M177.3 107.9h1.20M148.5 105.7h1.20M202.9 106.7h1.20M90.6 109.2h1.20M62.1 103.4h1.20M85.8 106.9h1.20M50.6 111.1h1.20M68.4 101.8h1.20M76.6 111.2h1.20M74.9 111.1h1.20M80.4 109.4h1.20M136.0 103.8h1.20M90.9 112.2h1.20M158.9 102.2h1.20M174.5 108.3h1.20M98.4 107.6h1.20M64.6 110.2h1.20M189.6 104.5h1.20M165.3 106.1h1.20M195.0 113.2h1.20M98.3 107.7h1.20M99.3 104.8h1.20M190.7 110.3h1.20M54.1 106.6h1.20M85.7 106.0h1.20M215.9 105.8h1.20M77.0 110.0h1.20M97.2 104.6h1.20M150.2 106.2h1.20M120.4 105.4h1.20M117.6 106.6h1.20M116.8 112.9h1.20M110.5 108.4h1.20M54.6 102.9h1.20M148.4 111.6h1.20M115.8 111.1h1.20M156.7 112.9h1.20M151.1 109.3h1.20M106.1 104.0h1.20M74.3 100.7h1.20M50.2 98.9h1.20M161.4 104.8h1.20M107.5 108.5h1.20M153.4 103.5h1.20M64.4 105.0h1.20M158.7 106.3h1.20M81.2 102.3h1.20M78.8 103.5h1.20M116.2 103.5h1.20M195.7 107.4h1.20M101.4 104.4h1.20M163.8 111.1h1.20M70.7 106.7h1.20M141.8 106.5h1.20M101.1 106.5h1.20M78.1 105.0h1.20M146.1 104.4h1.20M148.0 106.1h1.20M80.6 97.6h1.20M165.2 105.5h1.20M86.8 106.5h1.20M102.3 107.2h1.20M98.7 108.8h1.20M147.8 102.7h1.20M120.3 104.8h1.20M82.5 107.1h1.20M92.0 104.0h1.20M91.9 102.7h1.20M135.8 100.7h1.20M184.0 111.2h1.20M93.7 98.0h1.20M181.5 105.4h1.20M153.6 106.6h1.20M201.5 104.8h1.20M86.2 104.1h1.20M91.3 110.0h1.20M72.9 104.2h1.20M146.2 106.6h1.20M100.5 106.7h1.20M106.4 103.1h1.20M89.0 111.5h1.20M75.4 111.6h1.20M143.7 107.0h1.20M114.0 103.7h1.20M184.4 102.6h1.20M153.3 109.5h1.20M92.7 98.1h1.20M134.3 104.4h1.20M117.6 107.1h1.20M56.1 113.4h1.20M149.6 107.8h1.20M101.2 108.3h1.20M99.1 105.4h1.20M75.8 112.3h1.20M172.0 107.9h1.20M70.6 106.0h1.20M92.3 105.0h1.20M154.1 104.9h1.20M76.6 105.0h1.20M81.0 109.8h1.20M61.1 103.7h1.20M70.6 105.0h1.20M74.1 105.4h1.20M83.5 110.8h1.20M110.8 108.1h1.20M148.1 112.7h1.20M101.7 103.2h1.20M148.3 104.8h1.20M79.4 107.4h1.20M163.7 104.6h1.20M88.7 103.0h1.20M187.0 109.9h1.20M114.3 100.6h1.20M73.2 109.9h1.20M145.0 112.7h1.20M95.0 102.8h1.20M75.6 104.1h1.20M180.5 106.4h1.20M182.6 100.6h1.20M92.0 103.7h1.20M88.3 102.4h1.20M171.6 110.9h1.20M122.7 105.9h1.20M90.8 106.4h1.20M69.8 110.3h1.20M206.3 106.5h1.20M80.1 107.1h1.20M71.9 110.6h1.20M173.0 106.2h1.20M139.9 104.1h1.20M151.7 102.9h1.20M152.4 104.3h1.20M108.0 102.4h1.20" stroke="#48a8a0" stroke-width="1.20" fill="none" opacity="0.60"/>
<path d="M65.3 95.3h1.20M107.7 103.2h1.20M45.5 95.6h1.20M109.7 102.7h1.20M78.4 98.5h1.20M112.9 102.6h1.20M110.5 96.6h1.20M153.8 100.8h1.20M70.6 103.3h1.20M189.2 101.3h1.20M138.6 103.2h1.20M137.3 99.9h1.20M179.0 96.6h1.20M100.1 104.6h1.20M96.1 100.6h1.20M98.7 100.8h1.20M138.4 104.2h1.20M62.1 101.3h1.20M166.3 102.4h1.20M85.3 105.7h1.20M150.2 101.6h1.20M79.6 96.5h1.20M136.6 101.0h1.20M167.7 95.9h1.20M72.1 104.5h1.20M105.0 103.0h1.20M156.7 102.3h1.20M98.0 103.5h1.20M109.5 100.4h1.20M94.7 102.1h1.20M145.5 99.1h1.20M195.7 99.8h1.20M93.2 98.7h1.20M89.6 101.4h1.20M189.4 101.9h1.20M85.1 102.3h1.20M86.5 97.4h1.20M140.2 99.2h1.20M119.5 99.4h1.20M107.8 100.8h1.20M145.3 105.5h1.20M82.2 101.3h1.20M105.3 106.0h1.20M196.2 106.8h1.20M83.3 101.7h1.20M179.8 97.9h1.20M83.6 91.2h1.20M143.5 97.0h1.20M73.3 99.6h1.20M89.4 99.2h1.20M130.2 102.1h1.20M149.1 103.9h1.20M98.3 91.3h1.20M80.2 93.9h1.20M85.9 96.0h1.20M115.0 94.7h1.20M88.2 95.2h1.20M65.8 98.5h1.20M110.2 96.4h1.20M104.7 96.7h1.20M141.0 104.6h1.20M91.9 103.5h1.20M186.7 104.8h1.20M96.0 103.8h1.20M84.8 98.8h1.20M203.1 95.4h1.20M115.1 91.4h1.20M88.4 103.7h1.20M105.9 96.9h1.20M196.5 102.9h1.20M140.2 107.7h1.20M115.9 103.0h1.20M98.6 104.5h1.20M117.6 101.1h1.20M117.2 106.0h1.20M112.3 102.0h1.20M94.0 95.6h1.20M120.5 102.4h1.20M103.3 103.4h1.20M153.2 105.4h1.20M78.0 94.5h1.20M101.0 104.0h1.20M92.3 98.9h1.20M156.3 101.1h1.20M75.1 97.9h1.20M88.1 104.6h1.20M90.5 97.1h1.20M77.4 93.2h1.20M203.0 105.0h1.20M182.5 100.7h1.20M111.3 102.9h1.20M160.8 103.1h1.20M59.7 90.6h1.20M92.3 111.4h1.20M177.9 89.6h1.20M188.3 98.0h1.20M116.2 96.0h1.20M63.7 100.4h1.20M107.5 103.8h1.20M160.4 107.5h1.20M50.5 103.6h1.20M148.3 91.0h1.20M164.5 102.1h1.20M159.0 104.3h1.20M172.1 100.1h1.20M81.8 102.2h1.20M79.5 96.1h1.20M95.5 101.7h1.20M84.2 103.3h1.20M172.8 102.8h1.20M101.8 100.2h1.20M111.8 99.1h1.20M151.9 98.3h1.20M120.3 97.7h1.20M110.7 105.6h1.20M187.0 102.5h1.20M64.7 104.7h1.20M78.1 99.0h1.20M214.5 110.3h1.20M155.6 101.1h1.20M71.4 107.7h1.20M75.4 100.2h1.20M88.4 103.8h1.20M183.2 100.0h1.20M193.4 104.8h1.20M175.4 102.9h1.20M170.7 104.4h1.20M82.2 101.4h1.20M110.8 102.4h1.20M94.2 99.2h1.20M138.2 100.5h1.20M103.8 88.4h1.20M155.3 105.1h1.20M82.4 97.8h1.20M170.1 104.5h1.20M160.9 103.1h1.20M81.3 100.0h1.20M88.4 105.8h1.20M95.5 101.3h1.20M175.1 106.7h1.20M80.9 101.7h1.20M70.4 91.6h1.20M152.4 104.4h1.20M87.7 103.3h1.20M87.7 100.2h1.20M111.3 91.9h1.20M94.4 98.6h1.20M134.1 96.0h1.20M105.6 100.9h1.20M103.5 103.9h1.20M118.3 95.2h1.20M156.7 90.3h1.20M111.8 98.1h1.20M86.9 102.7h1.20M56.7 99.9h1.20M186.0 108.9h1.20M169.7 101.8h1.20M104.7 97.5h1.20M112.0 103.6h1.20M159.3 103.6h1.20M115.6 91.0h1.20M58.2 102.4h1.20M148.9 95.3h1.20M79.6 98.2h1.20M168.7 104.6h1.20M107.7 102.6h1.20M167.8 100.6h1.20M138.4 105.6h1.20M160.1 104.7h1.20M145.6 98.9h1.20M117.7 101.7h1.20M95.4 100.5h1.20M77.8 103.1h1.20M99.6 99.7h1.20M99.8 103.8h1.20M92.7 89.4h1.20M194.7 97.9h1.20M174.3 97.3h1.20M150.7 102.3h1.20M197.7 101.5h1.20M108.3 97.5h1.20M100.8 97.9h1.20M181.2 104.8h1.20M82.7 95.0h1.20M169.2 104.8h1.20M87.2 105.7h1.20M69.2 95.7h1.20M120.0 104.9h1.20M85.9 101.7h1.20M119.6 104.4h1.20M116.9 101.4h1.20M138.6 100.0h1.20M179.6 100.4h1.20M160.6 104.9h1.20M210.1 102.5h1.20M191.7 103.6h1.20M164.5 86.0h1.20M178.5 97.8h1.20M92.0 105.9h1.20M160.7 104.7h1.20M198.1 96.4h1.20M153.0 102.7h1.20M74.0 101.1h1.20M144.6 96.1h1.20M154.1 98.0h1.20M150.1 101.0h1.20M141.6 89.8h1.20M212.4 96.8h1.20M169.9 105.6h1.20M117.8 101.2h1.20M139.7 95.3h1.20M102.9 89.2h1.20M184.8 97.5h1.20M97.4 103.8h1.20M175.4 104.4h1.20M92.5 103.4h1.20M149.6 97.5h1.20M192.6 89.2h1.20M110.3 98.8h1.20M79.6 99.4h1.20M168.1 102.3h1.20M80.7 93.2h1.20M71.2 96.7h1.20M174.5 102.7h1.20M188.4 98.3h1.20M107.3 100.5h1.20M120.2 102.5h1.20M167.0 100.9h1.20M75.9 107.6h1.20M156.8 97.3h1.20M85.0 105.5h1.20M86.9 105.2h1.20M119.7 97.7h1.20M76.4 91.1h1.20M86.8 100.3h1.20M146.1 101.5h1.20M83.8 93.6h1.20M127.2 101.1h1.20M73.3 97.9h1.20M53.9 100.0h1.20M139.7 96.8h1.20M62.0 108.6h1.20M66.2 101.2h1.20M92.3 101.9h1.20M77.9 94.7h1.20M79.6 99.2h1.20M80.1 107.4h1.20M102.7 101.7h1.20M163.0 95.0h1.20M68.8 101.4h1.20M79.0 89.4h1.20M137.2 97.7h1.20M79.9 101.7h1.20M68.2 96.2h1.20M85.4 101.9h1.20M67.8 103.2h1.20M138.2 94.8h1.20M82.6 104.8h1.20M83.3 103.8h1.20M69.6 98.5h1.20M54.5 107.1h1.20M134.1 97.0h1.20M68.7 91.2h1.20M116.5 94.7h1.20M98.0 104.7h1.20M91.5 98.2h1.20M164.9 100.8h1.20M119.6 102.0h1.20M105.9 95.3h1.20M95.4 93.5h1.20M108.2 93.4h1.20M108.0 96.5h1.20M102.1 103.2h1.20M96.6 95.4h1.20M171.3 98.1h1.20M75.1 100.7h1.20M72.4 101.1h1.20M118.0 109.1h1.20M77.1 98.0h1.20M125.3 99.1h1.20M170.4 92.8h1.20M188.9 100.7h1.20M107.5 100.4h1.20M82.2 93.9h1.20M182.1 95.0h1.20M106.5 101.5h1.20M65.3 106.1h1.20M120.1 97.7h1.20M187.0 103.3h1.20M182.7 97.2h1.20M181.3 104.0h1.20M101.3 97.0h1.20M143.2 99.5h1.20M106.0 102.5h1.20M150.4 104.2h1.20M176.8 103.0h1.20M106.7 104.0h1.20M110.3 94.3h1.20M80.9 97.4h1.20M106.1 104.1h1.20M142.4 101.6h1.20M86.1 101.7h1.20M97.0 97.2h1.20M66.7 98.2h1.20M104.9 98.6h1.20M141.1 103.7h1.20M104.9 100.0h1.20M104.9 102.0h1.20M138.3 96.5h1.20M69.7 103.7h1.20M75.1 104.1h1.20M148.1 97.4h1.20M104.3 97.2h1.20M80.1 108.4h1.20M183.0 99.5h1.20M77.9 98.7h1.20M196.6 107.9h1.20M158.2 104.1h1.20M66.3 99.2h1.20M59.6 105.5h1.20M91.1 99.8h1.20M152.3 97.0h1.20M144.0 95.2h1.20M163.4 103.7h1.20M99.2 92.0h1.20M141.3 98.3h1.20M169.1 96.0h1.20M76.6 94.2h1.20M95.4 104.8h1.20M148.4 100.9h1.20M67.9 95.8h1.20M192.0 105.0h1.20M86.4 103.5h1.20M94.0 98.1h1.20M67.2 104.1h1.20M64.9 100.6h1.20M79.6 94.8h1.20M144.0 102.5h1.20M80.4 103.9h1.20M81.3 101.8h1.20" stroke="#47b19d" stroke-width="1.20" fill="none" opacity="0.60"/>
<path d="M143.5 102.3h1.20M152.0 86.0h1.20M90.7 96.5h1.20M145.3 93.3h1.20M77.5 102.0h1.20M68.0 86.6h1.20M194.9 100.1h1.20M76.9 93.0h1.20M170.6 94.0h1.20M161.2 97.9h1.20M76.4 97.9h1.20M183.4 97.5h1.20M71.9 83.8h1.20M81.8 101.9h1.20M149.1 96.7h1.20M59.8 96.4h1.20M171.4 94.0h1.20M164.6 100.1h1.20M102.1 99.5h1.20M89.3 96.6h1.20M170.7 103.6h1.20M114.3 90.0h1.20M92.1 105.3h1.20M115.0 97.5h1.20M98.7 96.9h1.20M136.5 89.3h1.20M105.1 88.7h1.20M178.5 97.7h1.20M145.5 96.6h1.20M114.9 100.4h1.20M157.0 91.8h1.20M146.6 97.5h1.20M152.7 96.5h1.20M171.5 96.2h1.20M124.9 96.6h1.20M94.7 90.1h1.20M74.2 86.5h1.20M142.4 91.6h1.20M189.4 100.2h1.20M77.0 82.1h1.20M114.2 93.2h1.20M184.2 94.9h1.20M107.1 95.0h1.20M69.7 99.9h1.20M92.8 96.6h1.20M143.7 96.5h1.20M98.1 91.7h1.20M163.1 89.6h1.20M111.3 100.1h1.20M185.3 95.2h1.20M161.5 88.6h1.20M74.7 96.7h1.20M78.9 91.0h1.20M90.3 96.6h1.20M167.4 85.5h1.20M94.2 96.7h1.20M151.0 92.4h1.20M82.0 91.3h1.20M158.8 99.9h1.20M63.8 96.8h1.20M136.2 99.6h1.20M74.6 90.0h1.20M136.8 99.2h1.20M40.0 83.4h1.20M157.9 101.5h1.20M110.9 94.3h1.20M147.5 84.6h1.20M93.7 92.3h1.20M89.7 93.5h1.20M194.1 90.2h1.20M135.3 85.3h1.20M115.6 95.8h1.20M156.4 82.7h1.20M84.0 93.9h1.20M70.8 104.1h1.20M77.0 90.3h1.20M162.3 98.8h1.20M180.0 89.4h1.20M143.1 89.3h1.20M91.9 92.9h1.20M175.3 102.4h1.20M87.1 90.0h1.20M96.4 101.6h1.20M141.2 97.1h1.20M134.7 97.5h1.20M121.0 99.7h1.20M187.0 96.8h1.20M142.7 93.7h1.20M164.2 97.3h1.20M154.7 99.5h1.20M176.2 95.3h1.20M100.7 93.8h1.20M164.6 85.9h1.20M59.3 96.6h1.20M79.6 92.6h1.20M184.0 94.3h1.20M86.5 90.5h1.20M118.3 99.0h1.20M81.2 104.5h1.20M175.0 93.8h1.20M190.0 85.2h1.20M81.9 96.7h1.20M171.8 95.2h1.20M94.6 101.6h1.20M62.7 96.9h1.20M149.4 97.9h1.20M156.6 103.1h1.20M110.4 83.1h1.20M98.0 99.6h1.20M152.8 98.2h1.20M167.0 92.4h1.20M98.7 86.3h1.20M168.0 99.5h1.20M116.9 88.2h1.20M152.0 90.8h1.20M135.3 96.2h1.20M135.0 83.4h1.20M49.5 95.0h1.20M163.0 91.8h1.20M173.8 85.9h1.20M80.3 92.1h1.20M74.8 92.3h1.20M85.1 101.6h1.20M106.7 100.0h1.20M163.8 93.1h1.20M173.0 91.5h1.20M182.6 99.0h1.20M164.1 75.6h1.20M170.1 93.5h1.20M47.1 91.7h1.20M77.0 101.8h1.20M85.5 90.5h1.20M80.9 92.5h1.20M72.6 88.7h1.20M103.2 96.7h1.20M120.7 95.6h1.20M118.1 94.3h1.20M88.1 97.0h1.20M92.2 103.9h1.20M94.7 87.4h1.20M184.8 95.4h1.20M157.6 93.2h1.20M76.2 94.7h1.20M100.0 100.3h1.20M86.5 99.8h1.20M99.1 96.0h1.20M101.3 97.0h1.20M66.9 86.4h1.20M115.8 102.7h1.20M99.9 97.0h1.20M80.3 100.2h1.20M152.7 96.6h1.20M89.0 90.7h1.20M148.6 90.2h1.20M113.6 94.1h1.20M149.3 105.3h1.20M110.4 89.2h1.20M168.9 101.6h1.20M76.2 93.0h1.20M201.3 101.1h1.20M75.3 92.1h1.20M159.7 96.1h1.20M115.4 99.0h1.20M158.1 90.9h1.20M153.7 89.3h1.20M149.0 87.4h1.20M197.3 98.7h1.20M152.7 98.4h1.20M68.3 81.1h1.20M94.4 100.4h1.20M172.1 87.6h1.20M180.6 94.6h1.20M186.6 91.8h1.20M165.0 99.2h1.20M169.2 96.9h1.20M156.9 96.3h1.20M178.5 98.9h1.20M78.8 94.7h1.20M116.8 89.7h1.20M88.8 98.0h1.20M114.6 92.8h1.20M150.5 94.9h1.20M58.3 87.2h1.20M149.0 91.9h1.20M74.3 96.2h1.20M56.5 97.9h1.20M135.9 92.5h1.20M71.0 98.3h1.20M102.4 95.7h1.20M169.4 89.1h1.20M93.3 95.3h1.20M90.1 99.7h1.20M112.8 92.7h1.20M155.1 101.0h1.20M93.3 96.3h1.20M149.6 101.4h1.20M209.5 89.2h1.20M169.6 86.1h1.20M98.6 101.6h1.20M94.3 90.6h1.20M72.1 97.1h1.20M148.8 90.8h1.20M156.2 89.4h1.20M103.8 92.0h1.20M140.0 89.9h1.20M164.1 98.8h1.20M156.9 86.8h1.20M166.7 101.1h1.20M87.7 92.7h1.20M158.9 85.4h1.20M105.1 100.1h1.20M106.8 97.9h1.20M158.4 95.5h1.20M154.0 93.7h1.20M78.0 91.0h1.20M84.3 94.2h1.20M104.9 93.8h1.20M78.8 90.4h1.20M82.2 86.2h1.20M140.2 97.1h1.20M112.8 92.7h1.20M183.0 93.1h1.20M145.5 96.7h1.20M120.9 103.0h1.20M95.7 97.0h1.20M194.1 98.8h1.20M92.9 94.6h1.20M82.7 92.4h1.20M191.2 91.5h1.20M169.6 95.1h1.20M78.7 92.5h1.20M49.2 91.7h1.20M144.0 96.7h1.20M135.3 97.5h1.20M96.7 99.2h1.20M163.1 95.3h1.20M193.8 90.7h1.20M143.2 101.0h1.20M142.8 91.0h1.20M196.8 102.1h1.20M73.4 103.7h1.20M96.2 102.6h1.20M104.5 97.8h1.20M149.6 91.0h1.20M80.0 96.6h1.20M157.0 87.0h1.20M192.1 88.2h1.20M99.1 90.0h1.20M89.9 96.2h1.20M102.3 91.3h1.20M191.6 100.8h1.20M73.1 98.6h1.20M88.3 89.6h1.20M76.8 85.9h1.20M154.9 89.6h1.20M61.7 92.6h1.20M58.3 97.4h1.20M141.2 90.8h1.20M70.6 86.8h1.20M79.4 86.7h1.20M87.6 89.8h1.20M135.6 92.5h1.20M90.4 90.9h1.20M155.3 94.3h1.20M134.3 97.3h1.20M108.8 93.5h1.20M172.3 90.3h1.20M142.1 82.5h1.20M81.8 89.5h1.20M179.0 93.9h1.20M118.3 100.1h1.20M117.3 98.6h1.20M90.4 89.1h1.20M156.0 103.7h1.20M109.9 89.0h1.20M64.0 96.6h1.20M87.3 96.4h1.20M151.4 86.7h1.20M84.7 90.8h1.20M102.4 95.9h1.20M94.2 94.6h1.20M78.7 95.9h1.20M190.2 82.4h1.20M177.0 98.2h1.20M89.5 94.2h1.20M94.5 88.9h1.20M56.3 87.0h1.20M86.9 86.9h1.20M86.8 92.9h1.20M111.1 87.8h1.20M154.7 98.2h1.20M78.7 93.8h1.20M88.8 95.9h1.20M194.6 100.0h1.20M99.8 99.7h1.20M55.8 101.7h1.20M138.4 89.0h1.20M101.8 92.0h1.20M52.4 90.9h1.20M189.3 96.6h1.20M63.0 97.8h1.20M164.2 96.4h1.20M64.2 95.3h1.20M148.2 96.6h1.20M115.6 88.7h1.20M112.1 95.4h1.20M71.2 85.7h1.20M191.3 96.2h1.20M117.9 100.5h1.20M77.3 90.6h1.20M146.6 96.4h1.20M176.0 94.1h1.20M106.1 87.1h1.20M82.4 94.8h1.20M76.8 89.3h1.20M139.7 99.9h1.20M112.2 101.1h1.20M161.2 91.5h1.20M77.9 90.4h1.20M75.5 99.4h1.20M105.5 101.2h1.20M172.6 100.6h1.20M93.5 90.9h1.20M85.0 94.7h1.20M154.6 95.2h1.20M77.0 92.0h1.20M80.5 94.9h1.20M74.3 90.4h1.20M147.6 90.3h1.20M90.4 97.8h1.20M189.4 91.9h1.20M66.7 99.6h1.20M163.1 87.0h1.20M143.8 96.9h1.20M46.9 92.2h1.20M104.8 102.8h1.20M144.1 92.8h1.20M154.7 88.2h1.20M133.0 97.9h1.20M154.8 94.0h1.20M84.2 91.9h1.20M79.2 99.7h1.20M135.4 88.0h1.20M98.7 93.2h1.20M95.7 96.5h1.20M170.0 99.3h1.20M78.0 97.4h1.20M106.1 96.1h1.20M118.9 102.0h1.20M114.6 93.6h1.20M89.1 101.9h1.20M177.0 98.9h1.20M174.2 96.0h1.20M153.5 96.1h1.20M69.0 95.8h1.20M117.9 93.0h1.20M142.3 90.1h1.20M82.3 85.3h1.20M102.7 83.4h1.20M98.9 96.5h1.20M105.5 101.0h1.20M85.7 101.9h1.20M94.5 94.6h1.20M98.2 98.0h1.20M93.7 85.1h1.20M85.8 87.4h1.20M96.5 83.3h1.20M159.2 100.9h1.20M184.9 94.4h1.20M76.9 94.6h1.20M93.4 98.6h1.20M163.0 98.9h1.20M173.9 94.6h1.20M99.7 89.8h1.20M87.4 92.0h1.20M108.0 100.0h1.20M116.2 99.1h1.20M115.3 101.0h1.20M66.5 96.9h1.20M97.9 98.5h1.20M181.2 85.4h1.20M174.4 86.5h1.20M84.9 96.9h1.20M185.9 89.3h1.20M89.1 97.1h1.20M61.8 85.9h1.20M79.3 103.1h1.20M65.0 97.7h1.20M137.7 95.2h1.20M180.2 92.9h1.20M85.1 99.9h1.20M57.9 95.3h1.20M102.0 91.5h1.20M163.0 92.8h1.20M177.6 100.8h1.20M183.6 97.3h1.20M70.0 95.7h1.20M116.4 95.8h1.20M95.3 87.2h1.20M101.6 87.5h1.20M81.2 92.3h1.20M102.5 99.7h1.20M59.2 99.6h1.20M94.5 88.4h1.20M68.8 96.3h1.20M144.7 94.5h1.20M103.4 89.6h1.20M170.7 91.9h1.20M96.0 94.2h1.20M69.2 90.3h1.20M55.8 84.1h1.20M213.4 94.2h1.20M185.0 93.2h1.20M163.6 94.4h1.20M75.6 90.5h1.20M137.5 90.7h1.20M117.6 91.5h1.20M92.7 90.1h1.20M92.9 93.3h1.20M75.7 98.3h1.20M118.5 90.2h1.20M201.2 107.5h1.20M142.4 98.9h1.20M182.4 100.4h1.20M81.2 84.4h1.20M149.4 85.2h1.20M95.4 96.4h1.20M64.5 90.9h1.20M158.9 94.8h1.20M201.6 97.8h1.20M185.8 83.7h1.20M140.5 89.2h1.20M103.1 91.3h1.20M174.2 91.8h1.20M104.8 93.1h1.20M158.3 101.6h1.20M82.0 88.0h1.20M174.7 88.0h1.20M174.8 105.8h1.20M120.1 94.6h1.20M105.0 93.5h1.20M80.2 92.1h1.20M161.6 91.3h1.20M184.2 94.7h1.20M131.8 94.1h1.20M83.7 93.3h1.20M84.9 97.8h1.20M184.7 92.7h1.20M183.4 100.4h1.20M170.1 85.3h1.20M98.0 97.3h1.20M181.2 89.8h1.20M100.0 89.2h1.20M166.4 94.0h1.20M89.6 88.3h1.20M76.5 97.1h1.20M73.2 102.5h1.20M165.6 101.3h1.20M75.1 101.0h1.20M81.2 89.2h1.20M101.6 90.0h1.20M206.5 91.3h1.20M163.9 90.2h1.20M91.3 100.1h1.20M183.8 99.0h1.20M107.3 87.5h1.20M118.5 97.0h1.20M165.7 88.0h1.20M85.4 93.8h1.20M73.9 84.7h1.20M147.8 100.7h1.20M119.1 95.6h1.20M173.9 93.5h1.20M177.1 101.6h1.20M46.8 93.4h1.20M161.6 93.8h1.20M190.4 91.2h1.20M165.5 88.6h1.20M99.7 95.7h1.20M76.8 92.9h1.20M67.6 97.9h1.20M177.2 94.3h1.20M171.1 98.4h1.20M117.2 88.9h1.20M104.4 98.9h1.20M152.2 91.0h1.20M169.4 91.5h1.20M111.1 93.4h1.20M119.6 95.2h1.20M109.3 95.8h1.20M135.7 90.2h1.20M112.2 94.7h1.20M146.3 96.5h1.20M152.7 93.5h1.20M117.7 96.5h1.20M88.5 98.2h1.20M151.4 92.2h1.20M108.5 83.5h1.20M94.5 90.6h1.20M69.6 92.6h1.20M76.2 93.7h1.20M117.8 98.7h1.20M111.4 93.0h1.20M108.3 93.6h1.20M135.1 92.0h1.20M150.5 94.9h1.20M91.3 85.3h1.20M137.6 98.3h1.20M72.7 98.0h1.20M102.4 93.4h1.20M94.8 97.8h1.20M166.1 101.6h1.20M79.7 99.3h1.20M162.1 90.7h1.20M182.9 88.7h1.20M140.0 94.8h1.20M137.0 96.3h1.20M181.5 91.6h1.20M181.1 95.7h1.20M99.8 95.7h1.20M182.8 96.1h1.20M154.4 85.0h1.20M137.3 97.2h1.20M89.7 96.0h1.20M147.4 94.1h1.20M139.5 90.7h1.20M60.4 93.4h1.20M105.5 98.3h1.20M155.7 90.7h1.20M57.6 87.3h1.20M103.4 94.3h1.20M157.9 84.4h1.20M93.0 98.6h1.20M117.4 86.8h1.20M199.4 97.8h1.20M105.2 89.5h1.20M166.0 99.4h1.20M92.0 90.0h1.20M172.9 91.8h1.20M94.3 93.6h1.20M87.6 97.7h1.20M156.0 93.1h1.20" stroke="#4bb89a" stroke-width="1.20" fill="none" opacity="0.60"/>
<path d="M55.7 87.4h1.20M170.1 89.9h1.20M181.7 89.3h1.20M148.0 88.1h1.20M150.7 85.1h1.20M79.2 102.3h1.20M118.9 85.9h1.20M81.8 88.3h1.20M78.8 86.3h1.20M56.7 97.3h1.20M103.2 85.6h1.20M109.3 82.1h1.20M86.8 85.1h1.20M91.1 83.0h1.20M141.5 94.4h1.20M45.1 83.5h1.20M142.7 92.3h1.20M154.9 84.0h1.20M135.5 95.1h1.20M105.3 95.5h1.20M62.6 92.9h1.20M53.5 90.9h1.20M105.7 79.5h1.20M144.3 89.5h1.20M78.0 79.0h1.20M92.2 92.5h1.20M161.4 83.2h1.20M140.8 88.0h1.20M170.4 94.0h1.20M175.5 92.5h1.20M93.1 86.3h1.20M110.4 83.1h1.20M78.3 83.8h1.20M75.9 85.3h1.20M150.4 76.7h1.20M155.3 83.2h1.20M69.6 81.3h1.20M140.9 76.9h1.20M68.4 86.0h1.20M151.9 83.8h1.20M184.5 90.9h1.20M160.1 79.6h1.20M174.2 84.4h1.20M143.9 87.1h1.20M83.2 75.6h1.20M71.6 93.9h1.20M194.2 80.7h1.20M70.9 88.5h1.20M110.9 96.9h1.20M159.6 81.4h1.20M161.5 87.1h1.20M152.1 83.3h1.20M56.0 88.2h1.20M98.9 84.9h1.20M97.5 91.1h1.20M108.8 77.0h1.20M86.2 87.0h1.20M212.4 80.9h1.20M81.6 91.4h1.20M60.4 85.1h1.20M157.2 92.1h1.20M98.8 87.1h1.20M189.5 86.8h1.20M112.9 86.8h1.20M88.9 84.8h1.20M156.5 89.3h1.20M127.3 90.2h1.20M158.2 85.7h1.20M163.7 88.4h1.20M87.8 89.6h1.20M164.3 86.8h1.20M80.7 92.8h1.20M71.9 92.9h1.20M94.4 97.0h1.20M134.4 89.6h1.20M149.3 85.2h1.20M115.1 91.0h1.20M48.3 95.2h1.20M148.8 83.2h1.20M132.9 76.6h1.20M81.9 79.3h1.20M160.1 88.1h1.20M143.8 76.1h1.20M66.4 91.8h1.20M167.5 94.1h1.20M72.5 77.5h1.20M168.9 91.0h1.20M102.5 81.8h1.20M178.9 95.8h1.20M118.8 86.1h1.20M94.4 89.6h1.20M95.4 89.3h1.20M178.9 80.5h1.20M97.5 75.4h1.20M185.2 80.7h1.20M69.6 89.1h1.20M159.7 88.2h1.20M146.7 97.7h1.20M168.9 83.6h1.20M175.3 84.2h1.20M169.7 97.6h1.20M111.0 94.6h1.20M68.0 90.1h1.20M87.4 84.2h1.20M178.8 78.1h1.20M163.6 83.2h1.20M175.6 83.9h1.20M140.3 84.3h1.20M156.3 92.8h1.20M82.7 88.6h1.20M173.4 84.6h1.20M64.8 83.0h1.20M178.2 91.8h1.20M88.3 84.0h1.20M49.4 85.6h1.20M163.5 92.4h1.20M69.2 91.0h1.20M170.3 80.7h1.20M79.5 88.7h1.20M82.8 91.0h1.20M59.8 72.6h1.20M165.1 83.5h1.20M150.1 82.7h1.20M138.8 84.8h1.20M42.9 77.7h1.20M171.4 89.4h1.20M65.1 83.4h1.20M74.9 88.3h1.20M183.6 92.6h1.20M62.3 85.7h1.20M70.1 90.7h1.20M201.6 82.4h1.20M73.3 89.1h1.20M140.7 94.0h1.20M174.2 74.5h1.20M104.6 85.1h1.20M156.3 86.3h1.20M87.9 86.7h1.20M91.3 89.6h1.20M140.4 81.8h1.20M63.2 92.1h1.20M98.2 97.3h1.20M177.8 71.5h1.20M69.0 74.4h1.20M135.3 92.6h1.20M47.7 94.0h1.20M64.9 90.8h1.20M149.0 77.8h1.20M160.3 96.1h1.20M150.2 92.5h1.20M111.5 89.3h1.20M64.9 74.5h1.20M208.2 81.7h1.20M150.5 96.6h1.20M104.9 81.7h1.20M93.2 89.1h1.20M150.7 83.8h1.20M137.1 99.5h1.20M63.5 86.9h1.20M146.4 84.5h1.20M60.7 91.3h1.20M79.6 88.7h1.20M90.0 89.6h1.20M85.4 88.0h1.20M77.2 90.6h1.20M164.7 87.8h1.20M189.1 77.3h1.20M150.8 87.2h1.20M143.9 86.4h1.20M98.6 79.3h1.20M82.9 85.8h1.20M147.0 85.8h1.20M86.8 90.3h1.20M165.1 89.9h1.20M101.1 78.0h1.20M66.5 91.7h1.20M113.9 86.7h1.20M97.7 81.3h1.20M141.8 88.8h1.20M141.2 94.3h1.20M116.8 85.2h1.20M145.1 77.2h1.20M59.4 89.4h1.20M109.7 83.8h1.20M86.9 82.4h1.20M111.1 90.1h1.20M73.7 92.5h1.20M78.8 83.2h1.20M94.5 88.4h1.20M140.1 83.4h1.20M193.5 91.6h1.20M114.7 84.4h1.20M172.1 87.8h1.20M51.6 79.5h1.20M89.6 83.4h1.20M108.0 86.3h1.20M85.4 84.0h1.20M94.0 77.3h1.20M68.0 82.5h1.20M88.6 89.1h1.20M137.5 89.9h1.20M60.1 78.5h1.20M77.2 97.8h1.20M77.3 92.1h1.20M58.2 89.9h1.20M71.2 79.9h1.20M179.0 85.5h1.20M80.1 82.8h1.20M81.0 84.7h1.20M135.7 91.3h1.20M164.0 91.0h1.20M180.4 84.8h1.20M124.4 88.3h1.20M159.0 89.2h1.20M119.6 81.7h1.20M82.7 83.0h1.20M137.8 91.3h1.20M56.8 96.1h1.20M63.8 93.1h1.20M150.8 81.8h1.20M89.7 93.3h1.20M86.1 77.0h1.20M164.2 77.8h1.20M96.0 85.2h1.20M101.3 83.6h1.20M85.7 87.6h1.20M154.9 80.3h1.20M144.6 85.1h1.20M98.8 76.2h1.20M162.9 86.6h1.20M147.7 86.5h1.20M151.6 91.3h1.20M153.5 95.6h1.20M64.4 90.8h1.20M148.2 93.5h1.20M92.7 83.6h1.20M110.6 82.2h1.20M181.1 87.3h1.20M97.4 92.7h1.20M91.3 77.4h1.20M149.5 90.2h1.20M81.3 82.1h1.20M197.8 88.3h1.20M161.0 81.2h1.20M78.4 89.1h1.20M71.1 75.4h1.20M106.5 86.9h1.20M188.6 84.8h1.20M147.3 85.5h1.20M105.9 86.6h1.20M167.7 87.1h1.20M136.7 81.6h1.20M149.2 89.9h1.20M147.6 82.1h1.20M115.9 87.6h1.20M118.9 87.3h1.20M158.6 83.8h1.20M80.0 88.2h1.20M149.7 86.1h1.20M147.2 80.8h1.20M96.4 94.1h1.20M202.0 82.5h1.20M191.6 98.4h1.20M77.5 87.2h1.20M116.3 85.4h1.20M86.6 94.4h1.20M118.2 83.7h1.20M121.6 84.3h1.20M150.9 92.5h1.20M155.1 86.0h1.20M132.1 84.7h1.20M144.1 78.4h1.20M109.7 86.9h1.20M169.5 87.1h1.20M184.1 81.7h1.20M85.8 83.5h1.20M169.7 81.7h1.20M141.6 73.3h1.20M97.5 84.6h1.20M91.8 80.9h1.20M139.1 87.1h1.20M68.0 80.9h1.20M77.5 92.2h1.20M75.5 89.2h1.20M88.2 87.1h1.20M104.1 94.7h1.20M81.9 80.0h1.20M90.5 79.8h1.20M60.4 86.1h1.20M157.9 89.2h1.20M88.9 90.9h1.20M166.3 85.1h1.20M108.8 90.1h1.20M80.2 83.3h1.20M89.9 83.7h1.20M196.1 77.8h1.20M104.8 90.1h1.20M67.3 75.8h1.20M164.5 91.9h1.20M101.7 91.4h1.20M135.8 83.2h1.20M142.2 92.3h1.20M157.6 96.1h1.20M91.2 77.2h1.20M71.1 83.0h1.20M101.4 90.3h1.20M65.7 82.3h1.20M77.1 77.8h1.20M126.4 77.5h1.20M86.7 88.5h1.20M157.4 91.1h1.20M74.1 83.1h1.20M75.7 88.6h1.20M62.8 87.3h1.20M167.5 84.9h1.20M80.1 82.6h1.20M97.8 87.6h1.20M89.8 84.0h1.20M93.7 92.4h1.20M80.7 90.4h1.20M86.6 84.2h1.20M175.1 84.3h1.20M149.3 94.0h1.20M89.9 78.8h1.20M161.3 87.5h1.20M82.8 89.3h1.20M144.6 86.7h1.20M120.9 93.1h1.20M166.8 80.9h1.20M96.3 93.1h1.20M78.2 83.0h1.20M136.2 87.7h1.20M94.7 86.9h1.20M95.1 86.1h1.20M169.1 89.3h1.20M162.9 76.6h1.20M176.0 80.2h1.20M165.9 89.4h1.20M214.8 83.5h1.20M61.7 90.6h1.20M77.1 85.2h1.20M104.5 91.0h1.20M93.7 91.1h1.20M169.2 79.8h1.20M190.1 90.9h1.20M111.6 98.7h1.20M116.6 90.0h1.20M89.7 82.5h1.20M84.0 83.7h1.20M98.8 83.2h1.20M83.1 82.2h1.20M72.6 77.1h1.20M134.1 86.6h1.20M118.2 90.6h1.20M160.2 83.9h1.20M87.9 82.5h1.20M160.5 85.3h1.20M80.3 87.9h1.20M136.9 93.0h1.20M158.6 83.2h1.20M138.7 86.6h1.20M70.8 91.2h1.20M126.5 95.4h1.20M57.3 91.6h1.20M100.7 79.2h1.20M163.3 80.3h1.20M160.3 88.5h1.20M118.5 81.5h1.20M87.9 95.1h1.20M150.2 87.0h1.20M143.4 85.8h1.20M214.0 84.7h1.20M143.6 87.0h1.20M147.7 85.7h1.20M162.5 83.4h1.20M73.7 89.5h1.20M96.6 93.9h1.20M54.2 81.8h1.20M98.4 87.8h1.20M100.5 82.6h1.20M68.4 87.8h1.20M78.6 85.5h1.20M205.9 84.0h1.20M205.5 85.1h1.20M85.0 82.4h1.20M77.4 79.5h1.20M155.0 92.8h1.20M169.0 81.9h1.20M80.6 86.9h1.20M164.6 89.2h1.20M168.5 72.5h1.20M105.8 86.4h1.20M87.5 95.5h1.20M182.6 76.3h1.20M118.0 79.1h1.20M107.5 81.3h1.20M93.7 97.1h1.20M112.6 92.2h1.20M85.1 79.7h1.20M67.7 91.2h1.20M163.4 87.6h1.20M75.7 81.1h1.20M97.0 81.2h1.20M137.2 80.5h1.20M118.4 79.0h1.20M99.6 93.7h1.20M74.1 92.4h1.20M171.9 87.6h1.20M94.8 80.3h1.20M95.5 89.7h1.20M109.9 85.2h1.20M165.7 93.8h1.20M108.2 90.9h1.20M165.3 81.3h1.20M167.9 85.2h1.20M166.3 86.2h1.20M98.7 94.2h1.20M82.7 95.5h1.20M149.4 92.8h1.20M136.8 81.2h1.20M180.1 84.5h1.20M94.4 82.0h1.20M178.4 84.9h1.20M84.9 91.5h1.20M178.3 88.5h1.20M134.9 81.0h1.20M197.3 86.6h1.20M66.0 78.0h1.20M78.8 88.2h1.20M140.1 87.6h1.20M163.4 86.6h1.20M162.7 76.7h1.20M155.9 88.3h1.20M87.6 82.2h1.20M119.0 90.4h1.20M134.1 97.8h1.20M139.5 86.5h1.20M137.4 87.6h1.20M76.2 84.0h1.20M85.8 81.5h1.20M97.0 85.3h1.20M186.2 83.5h1.20M179.7 81.3h1.20M108.5 86.6h1.20M76.0 94.8h1.20M89.4 78.7h1.20M103.7 86.1h1.20M94.8 95.5h1.20M138.0 90.0h1.20M97.2 80.8h1.20M94.4 93.3h1.20M178.7 86.9h1.20M70.6 90.8h1.20M82.4 92.4h1.20M176.4 81.7h1.20M138.9 86.2h1.20M61.8 71.3h1.20M96.3 83.8h1.20M159.0 79.9h1.20M131.4 77.7h1.20M149.2 85.9h1.20M76.9 89.0h1.20M63.4 91.7h1.20M169.7 82.6h1.20M102.4 78.1h1.20M165.9 82.1h1.20M93.3 89.6h1.20M97.0 86.8h1.20M163.8 83.0h1.20M185.4 89.1h1.20M195.0 88.7h1.20M91.8 81.8h1.20M84.5 92.2h1.20M71.1 81.8h1.20M170.8 79.2h1.20M193.8 87.3h1.20M89.2 93.2h1.20M165.3 78.6h1.20M102.2 90.9h1.20M103.3 87.4h1.20M151.6 87.5h1.20M72.0 86.6h1.20M156.8 84.3h1.20M98.0 88.0h1.20M60.3 90.6h1.20M184.1 88.5h1.20M155.8 92.6h1.20M67.2 86.4h1.20M82.4 81.0h1.20M172.3 83.2h1.20M167.7 93.6h1.20M93.3 76.7h1.20M163.7 90.0h1.20M122.7 100.1h1.20M160.1 81.0h1.20M192.3 83.0h1.20M97.6 89.4h1.20M158.7 76.7h1.20M120.1 82.3h1.20M108.7 92.1h1.20M107.7 89.1h1.20M163.3 91.9h1.20M142.0 89.0h1.20M102.9 85.8h1.20M130.8 85.6h1.20M87.0 92.4h1.20M147.4 82.1h1.20M174.2 80.4h1.20M162.6 79.9h1.20M67.2 88.8h1.20M188.3 88.9h1.20M166.1 81.5h1.20M100.4 79.5h1.20M209.4 87.1h1.20M85.1 89.1h1.20M96.7 87.5h1.20M172.3 76.6h1.20M144.0 87.0h1.20M188.0 82.2h1.20M162.4 82.9h1.20M114.3 93.7h1.20M135.6 92.2h1.20M85.4 85.3h1.20M66.8 92.5h1.20M185.8 74.3h1.20M188.5 82.5h1.20M151.0 84.4h1.20M159.1 87.0h1.20M140.4 80.8h1.20M74.3 91.0h1.20M136.7 80.7h1.20M105.7 76.5h1.20M112.0 85.2h1.20M91.9 82.5h1.20M106.3 91.5h1.20M168.8 96.1h1.20M115.4 81.4h1.20M145.0 83.6h1.20M71.5 85.3h1.20M171.7 76.1h1.20M148.5 92.5h1.20M190.2 86.3h1.20M146.9 80.8h1.20M95.4 84.2h1.20M141.6 82.8h1.20M100.4 84.3h1.20M82.6 93.9h1.20M163.1 96.8h1.20M120.0 91.1h1.20M76.8 93.4h1.20M109.3 86.0h1.20M210.5 91.1h1.20M134.5 87.7h1.20M98.4 75.8h1.20M84.5 83.0h1.20M83.3 88.8h1.20M149.6 84.5h1.20M89.8 81.7h1.20M71.6 81.9h1.20M88.4 84.9h1.20M107.9 81.4h1.20M75.4 81.2h1.20M68.3 80.4h1.20M95.5 88.7h1.20M135.9 82.0h1.20M167.4 84.2h1.20M157.7 95.2h1.20M154.8 84.0h1.20M99.2 81.8h1.20M83.2 93.9h1.20M145.3 86.2h1.20M196.5 82.8h1.20M73.6 88.9h1.20M172.4 81.3h1.20M90.2 83.0h1.20M60.3 89.2h1.20M88.3 79.7h1.20M88.8 87.5h1.20M65.9 79.0h1.20M102.0 87.0h1.20M175.0 89.7h1.20M135.8 93.4h1.20M155.8 80.1h1.20M75.3 80.1h1.20M85.0 81.1h1.20M158.5 83.0h1.20M97.9 86.7h1.20M106.2 83.0h1.20M140.2 88.0h1.20M96.4 90.7h1.20M134.9 88.5h1.20M184.2 95.6h1.20M145.6 84.4h1.20M160.5 90.8h1.20M154.3 88.1h1.20M91.8 86.5h1.20M137.3 89.5h1.20M182.3 78.7h1.20M147.1 86.4h1.20M104.2 83.3h1.20M142.5 82.8h1.20M67.1 81.2h1.20M115.5 88.5h1.20M136.7 95.0h1.20M149.7 80.6h1.20M78.4 86.8h1.20M63.6 88.6h1.20M59.4 89.4h1.20M131.4 87.6h1.20M64.3 86.8h1.20M66.8 93.8h1.20M171.9 87.0h1.20M72.2 83.2h1.20M146.4 86.1h1.20M188.2 81.8h1.20M112.7 83.6h1.20M105.4 87.1h1.20M178.9 83.4h1.20M151.6 83.4h1.20M144.9 75.7h1.20M64.3 91.6h1.20M200.2 93.4h1.20M105.6 80.1h1.20M165.7 80.2h1.20M94.9 86.7h1.20M74.4 85.9h1.20M75.6 74.1h1.20M164.7 81.4h1.20M72.8 90.4h1.20M69.3 86.3h1.20M68.5 87.0h1.20M136.1 85.0h1.20M60.1 83.9h1.20M73.4 77.4h1.20M144.2 86.7h1.20M152.4 81.6h1.20M172.5 94.8h1.20M192.4 87.0h1.20M65.9 80.1h1.20M177.5 92.9h1.20M155.4 80.9h1.20M150.0 85.4h1.20M79.9 85.3h1.20M168.5 82.3h1.20M85.3 94.4h1.20M92.7 88.8h1.20M104.0 86.5h1.20M91.6 81.2h1.20M141.5 92.8h1.20M116.7 96.2h1.20M175.5 95.8h1.20M51.5 89.2h1.20M200.3 85.9h1.20M189.7 90.4h1.20M97.8 86.7h1.20M80.8 95.1h1.20M66.6 99.5h1.20M82.1 82.3h1.20M85.6 85.4h1.20M183.6 85.6h1.20M90.1 81.4h1.20M157.6 86.0h1.20M199.7 86.0h1.20M92.7 92.9h1.20M172.2 89.9h1.20M75.0 83.2h1.20M149.5 94.2h1.20M69.1 82.9h1.20M190.3 76.6h1.20M82.0 80.4h1.20M185.2 83.6h1.20M141.8 89.6h1.20M82.1 93.8h1.20M144.1 87.2h1.20M118.4 84.0h1.20M108.8 83.9h1.20M153.4 90.7h1.20M77.0 81.3h1.20M108.1 84.7h1.20M160.1 84.5h1.20M149.3 87.7h1.20M188.4 86.9h1.20M77.5 91.0h1.20M165.5 83.5h1.20M174.7 81.4h1.20M104.8 79.8h1.20M102.2 102.4h1.20M101.1 90.9h1.20M63.0 74.4h1.20M175.5 82.8h1.20M198.0 84.9h1.20M185.4 82.3h1.20M135.4 97.3h1.20M179.9 90.2h1.20M59.4 78.0h1.20M191.0 76.4h1.20M75.7 81.6h1.20" stroke="#54c194" stroke-width="1.20" fill="none" opacity="0.60"/>
<path d="M78.2 72.1h1.20M102.0 82.8h1.20M105.3 78.5h1.20M134.3 81.7h1.20M129.4 76.3h1.20M159.4 73.8h1.20M134.2 79.2h1.20M186.3 69.8h1.20M60.2 77.2h1.20M111.7 80.8h1.20M189.2 72.1h1.20M92.3 75.3h1.20M145.0 80.5h1.20M158.0 83.2h1.20M97.9 73.4h1.20M154.4 76.0h1.20M166.9 78.3h1.20M90.1 77.4h1.20M159.4 78.7h1.20M64.8 76.5h1.20M149.7 75.5h1.20M82.2 84.3h1.20M155.2 84.7h1.20M106.4 85.2h1.20M116.1 77.6h1.20M151.3 76.3h1.20M98.6 75.7h1.20M77.5 81.6h1.20M176.6 79.3h1.20M165.3 81.0h1.20M66.9 78.0h1.20M119.7 79.3h1.20M163.2 75.9h1.20M94.4 77.0h1.20M97.9 84.2h1.20M75.3 72.6h1.20M94.5 80.9h1.20M82.9 76.9h1.20M105.7 84.4h1.20M76.0 75.2h1.20M161.1 82.4h1.20M164.6 82.3h1.20M99.7 85.7h1.20M193.6 74.4h1.20M156.2 82.9h1.20M107.6 84.5h1.20M105.9 73.8h1.20M93.0 69.5h1.20M61.1 74.1h1.20M181.2 79.8h1.20M83.2 75.7h1.20M119.0 81.0h1.20M98.2 82.9h1.20M64.7 83.0h1.20M158.0 78.3h1.20M147.3 83.8h1.20M115.5 74.8h1.20M151.0 79.2h1.20M91.7 91.8h1.20M103.2 85.3h1.20M59.0 89.3h1.20M133.2 77.1h1.20M61.0 74.3h1.20M181.2 69.1h1.20M104.0 74.2h1.20M77.0 75.3h1.20M86.1 78.0h1.20M166.9 78.0h1.20M155.7 75.5h1.20M87.4 85.6h1.20M151.1 77.4h1.20M75.7 76.3h1.20M140.9 71.6h1.20M110.9 83.2h1.20M107.2 84.6h1.20M172.5 82.0h1.20M151.0 76.5h1.20M103.9 77.7h1.20M85.3 76.7h1.20M156.2 78.8h1.20M93.5 69.6h1.20M87.5 80.9h1.20M74.3 77.9h1.20M140.0 79.3h1.20M92.4 81.9h1.20M151.3 74.0h1.20M72.1 71.4h1.20M168.7 68.8h1.20M135.0 88.6h1.20M148.3 76.7h1.20M117.2 72.7h1.20M113.0 78.3h1.20M207.2 80.7h1.20M64.3 76.1h1.20M151.3 80.6h1.20M65.9 77.8h1.20M57.5 71.9h1.20M52.4 75.8h1.20M106.8 79.2h1.20M55.3 79.6h1.20M58.5 77.6h1.20M86.1 80.7h1.20M141.9 75.2h1.20M90.5 78.4h1.20M168.8 86.3h1.20M96.8 75.0h1.20M107.7 86.1h1.20M106.4 89.5h1.20M147.1 73.6h1.20M176.3 83.2h1.20M176.7 82.0h1.20M67.1 74.8h1.20M139.9 82.7h1.20M84.0 74.3h1.20M107.1 80.8h1.20M107.0 84.9h1.20M95.0 86.7h1.20M118.2 85.8h1.20M100.6 83.7h1.20M167.1 72.5h1.20M63.6 75.1h1.20M139.4 84.1h1.20M147.0 76.9h1.20M176.8 82.6h1.20M152.2 80.7h1.20M136.7 76.2h1.20M88.8 71.8h1.20M50.0 75.1h1.20M78.8 81.2h1.20M158.1 81.2h1.20M155.2 73.5h1.20M180.7 72.8h1.20M174.8 78.7h1.20M66.3 85.2h1.20M169.7 86.8h1.20M176.1 73.6h1.20M73.9 78.1h1.20M79.6 92.6h1.20M146.0 81.1h1.20M189.4 78.4h1.20M188.0 78.2h1.20M168.7 74.5h1.20M138.2 80.1h1.20M135.5 78.3h1.20M85.8 68.7h1.20M89.6 81.1h1.20M91.2 85.7h1.20M100.3 79.7h1.20M85.3 69.3h1.20M158.5 75.8h1.20M137.1 72.0h1.20M71.9 79.3h1.20M69.2 80.4h1.20M137.3 73.1h1.20M177.1 80.4h1.20M160.9 81.9h1.20M66.8 80.7h1.20M175.3 68.9h1.20M190.0 87.7h1.20M80.0 81.1h1.20M110.4 73.8h1.20M134.8 81.2h1.20M159.0 85.5h1.20M175.7 74.1h1.20M193.0 71.2h1.20M101.0 80.1h1.20M169.2 73.1h1.20M85.2 81.5h1.20M90.7 70.5h1.20M163.0 73.7h1.20M119.1 81.9h1.20M188.7 71.1h1.20M69.4 81.5h1.20M183.7 80.2h1.20M166.4 83.1h1.20M72.2 75.9h1.20M191.0 85.5h1.20M68.3 83.5h1.20M95.1 72.5h1.20M81.4 84.0h1.20M159.4 78.9h1.20M97.6 81.5h1.20M165.3 80.9h1.20M70.5 81.0h1.20M85.2 74.1h1.20M145.0 77.3h1.20M100.7 72.3h1.20M162.9 79.4h1.20M172.4 73.3h1.20M167.8 71.4h1.20M46.9 82.8h1.20M141.5 69.9h1.20M95.0 76.6h1.20M170.5 77.9h1.20M64.4 82.7h1.20M127.8 76.0h1.20M72.9 78.8h1.20M56.2 84.7h1.20M111.7 75.6h1.20M78.9 77.8h1.20M175.7 79.1h1.20M165.9 77.3h1.20M206.9 76.3h1.20M113.8 72.8h1.20M165.9 82.8h1.20M80.0 80.0h1.20M154.5 85.2h1.20M106.2 83.4h1.20M156.0 73.4h1.20M140.2 71.5h1.20M115.5 77.1h1.20M90.0 81.4h1.20M138.1 78.9h1.20M118.9 77.2h1.20M91.1 79.2h1.20M170.8 82.5h1.20M89.5 85.4h1.20M74.5 72.1h1.20M70.0 88.0h1.20M201.5 83.9h1.20M176.3 69.5h1.20M120.2 84.2h1.20M61.7 79.0h1.20M148.7 83.5h1.20M89.0 80.2h1.20M45.5 75.9h1.20M170.2 75.3h1.20M92.5 79.6h1.20M102.1 88.8h1.20M103.2 71.2h1.20M95.8 71.6h1.20M205.3 80.7h1.20M99.7 83.3h1.20M70.6 76.0h1.20M111.4 87.1h1.20M64.9 84.8h1.20M88.4 87.6h1.20M77.7 78.4h1.20M107.1 78.1h1.20M168.7 73.8h1.20M84.9 78.4h1.20M153.5 80.7h1.20M148.6 72.3h1.20M138.6 73.4h1.20M166.3 79.9h1.20M117.2 80.6h1.20M92.2 86.8h1.20M90.0 77.2h1.20M75.2 81.6h1.20M145.3 77.1h1.20M76.7 79.9h1.20M204.1 72.3h1.20M144.7 78.0h1.20M77.7 88.7h1.20M158.1 76.8h1.20M120.8 72.9h1.20M97.4 84.1h1.20M186.2 79.8h1.20M172.2 68.6h1.20M182.3 81.8h1.20M169.9 88.3h1.20M110.3 78.8h1.20M73.4 81.0h1.20M162.3 81.1h1.20M146.7 77.9h1.20M97.9 81.8h1.20M59.8 71.6h1.20M70.5 80.9h1.20M95.8 85.1h1.20M154.6 80.1h1.20M77.6 72.0h1.20M62.6 86.7h1.20M117.1 82.6h1.20M69.7 77.9h1.20M67.2 82.3h1.20M195.4 85.5h1.20M157.9 78.0h1.20M114.0 83.0h1.20M163.7 78.2h1.20M168.4 83.0h1.20M195.5 83.7h1.20M109.4 77.7h1.20M65.2 72.8h1.20M138.3 79.1h1.20M111.0 75.5h1.20M122.5 78.4h1.20M155.0 77.6h1.20M83.3 71.9h1.20M138.2 86.3h1.20M132.0 82.4h1.20M94.0 79.9h1.20M73.2 71.1h1.20M159.9 82.0h1.20M142.2 80.6h1.20M177.4 75.3h1.20M70.5 71.3h1.20M148.6 75.6h1.20M74.8 81.8h1.20M183.4 77.4h1.20M167.0 83.0h1.20M146.4 74.5h1.20M58.9 85.9h1.20M89.7 76.0h1.20M193.3 78.1h1.20M96.3 85.2h1.20M60.3 74.5h1.20M150.3 71.3h1.20M164.3 77.0h1.20M79.3 82.4h1.20M63.9 80.4h1.20M76.5 72.7h1.20M69.9 75.2h1.20M111.6 83.0h1.20M83.5 71.1h1.20M79.0 70.6h1.20M187.4 87.0h1.20M155.0 77.1h1.20M76.7 74.8h1.20M72.1 85.2h1.20M169.6 74.6h1.20M112.8 84.9h1.20M85.7 74.1h1.20M173.1 83.8h1.20M137.9 78.3h1.20M71.5 77.9h1.20M105.5 80.8h1.20M161.7 82.1h1.20M110.0 82.0h1.20M134.6 75.7h1.20M109.0 81.6h1.20M80.3 73.2h1.20M99.6 77.1h1.20M80.8 80.6h1.20M171.5 79.0h1.20M142.4 81.3h1.20M57.6 73.7h1.20M79.1 73.4h1.20M109.5 74.7h1.20M109.1 82.9h1.20M102.4 74.6h1.20M63.9 80.6h1.20M178.0 77.6h1.20M130.6 74.7h1.20M52.7 76.9h1.20M102.7 76.5h1.20M171.5 69.1h1.20M77.2 71.7h1.20M65.3 83.7h1.20M81.3 89.0h1.20M120.6 82.4h1.20M172.6 71.7h1.20M96.8 76.8h1.20M66.8 81.6h1.20M194.0 76.4h1.20M116.7 77.4h1.20M160.8 80.7h1.20M165.8 83.1h1.20M181.6 80.6h1.20M80.7 77.1h1.20M146.9 80.2h1.20M41.7 81.1h1.20M134.9 82.7h1.20M94.7 81.5h1.20M107.8 79.1h1.20M84.1 75.8h1.20M161.1 75.7h1.20M88.8 85.0h1.20M103.3 77.6h1.20M111.8 73.3h1.20M173.0 72.1h1.20M82.8 77.0h1.20M76.0 76.5h1.20M200.0 73.7h1.20M89.3 72.5h1.20M73.3 80.0h1.20M141.2 75.2h1.20M135.8 79.9h1.20M161.5 76.0h1.20M112.2 79.4h1.20M171.1 75.5h1.20M138.3 78.0h1.20M159.9 84.1h1.20M79.0 69.3h1.20M179.4 71.9h1.20M173.4 77.1h1.20M136.2 84.3h1.20M69.9 81.2h1.20M136.6 81.0h1.20M69.3 81.8h1.20M155.0 74.4h1.20M112.4 80.4h1.20M196.9 83.0h1.20M84.4 77.7h1.20M91.2 84.8h1.20M54.7 72.4h1.20M102.0 78.5h1.20M118.4 85.9h1.20M155.1 69.9h1.20M164.5 85.2h1.20M138.9 80.3h1.20M164.6 74.3h1.20M91.8 80.8h1.20M162.9 77.4h1.20M147.0 82.2h1.20M80.8 73.8h1.20M69.3 71.9h1.20M82.6 74.5h1.20M171.9 68.6h1.20M152.4 80.2h1.20M182.1 69.3h1.20M171.3 78.4h1.20M163.0 74.0h1.20M180.9 76.8h1.20M194.7 75.9h1.20M173.9 83.2h1.20M92.3 82.8h1.20M84.4 75.1h1.20M68.7 75.0h1.20M155.1 72.1h1.20M137.5 77.0h1.20M74.7 83.6h1.20M160.7 80.4h1.20M178.9 83.3h1.20M93.2 68.6h1.20M59.6 78.5h1.20M186.9 76.1h1.20M71.9 73.8h1.20M99.7 76.6h1.20M63.4 79.6h1.20M107.3 72.7h1.20M163.6 85.0h1.20M98.9 69.9h1.20M90.7 68.8h1.20M76.3 77.1h1.20M50.7 74.8h1.20M76.6 75.0h1.20M83.4 74.7h1.20M87.9 74.1h1.20M101.6 77.6h1.20M53.6 81.2h1.20M77.1 73.2h1.20M65.8 69.4h1.20M90.8 77.0h1.20M108.9 80.6h1.20M139.9 78.3h1.20M106.3 85.3h1.20M179.8 83.8h1.20M173.2 71.5h1.20M145.4 86.2h1.20M182.2 76.2h1.20M139.1 80.0h1.20M75.2 88.0h1.20M88.9 73.5h1.20M169.2 79.7h1.20M109.7 74.6h1.20M77.4 91.2h1.20M163.9 86.4h1.20M159.3 70.8h1.20M107.2 83.0h1.20M119.0 78.3h1.20M150.6 76.1h1.20M172.8 79.5h1.20M104.7 75.4h1.20M93.2 71.8h1.20M159.1 69.2h1.20M149.3 81.2h1.20M93.9 86.3h1.20M95.9 78.6h1.20M167.5 74.1h1.20M144.8 81.5h1.20M163.5 83.3h1.20M80.0 81.8h1.20M188.7 74.9h1.20M92.1 77.8h1.20M93.6 83.7h1.20M137.7 82.6h1.20M79.6 82.4h1.20M77.1 76.1h1.20M86.3 78.3h1.20M154.7 78.5h1.20M181.3 69.7h1.20M115.8 84.4h1.20M87.9 74.9h1.20M164.6 80.8h1.20M107.3 82.5h1.20M113.0 75.5h1.20M152.5 74.4h1.20M163.0 81.1h1.20M181.6 78.9h1.20M64.0 79.2h1.20M105.1 82.3h1.20M63.6 80.6h1.20M66.4 81.2h1.20M107.3 89.7h1.20M162.5 76.4h1.20M150.3 73.9h1.20M114.9 82.9h1.20M134.5 74.4h1.20M88.6 85.7h1.20M159.2 75.5h1.20M177.5 85.8h1.20M97.1 88.8h1.20M173.2 73.6h1.20M113.5 78.4h1.20M146.1 78.3h1.20M149.5 71.6h1.20M145.5 73.5h1.20M114.0 80.5h1.20M86.7 75.8h1.20M53.0 78.8h1.20M177.1 80.0h1.20M72.3 79.3h1.20M143.2 71.4h1.20M135.4 73.4h1.20M106.4 77.6h1.20M147.9 74.0h1.20M69.6 77.4h1.20M81.7 76.2h1.20M73.8 76.5h1.20M176.4 77.8h1.20M62.3 71.5h1.20M92.9 91.8h1.20M156.2 74.8h1.20M98.8 79.2h1.20M150.3 78.9h1.20M93.8 85.0h1.20M102.8 79.7h1.20M53.6 72.3h1.20M188.7 80.5h1.20M92.0 74.2h1.20M104.1 73.3h1.20M156.9 81.9h1.20M166.7 80.0h1.20M69.8 80.6h1.20M177.8 78.1h1.20M172.7 73.3h1.20M63.0 82.7h1.20M103.1 77.3h1.20M98.7 75.9h1.20M156.0 77.7h1.20M107.9 71.7h1.20M104.9 77.4h1.20M96.4 79.2h1.20M65.3 78.1h1.20M177.4 82.2h1.20M79.7 76.4h1.20M154.3 86.5h1.20M157.5 75.1h1.20M143.8 77.5h1.20M83.9 81.9h1.20M117.4 80.6h1.20M109.6 82.3h1.20M171.2 84.0h1.20M140.2 75.6h1.20M87.2 82.4h1.20M140.9 81.6h1.20M134.2 78.0h1.20M88.6 77.5h1.20M81.6 78.6h1.20M61.0 83.1h1.20M140.0 86.0h1.20M158.0 73.2h1.20M86.8 73.5h1.20M65.5 80.2h1.20M100.2 86.8h1.20M79.2 75.0h1.20M162.5 85.7h1.20M101.3 75.9h1.20M80.2 81.0h1.20M108.1 69.7h1.20M92.0 87.4h1.20M90.5 81.1h1.20M155.9 83.4h1.20M176.9 69.5h1.20M88.9 77.5h1.20M192.4 81.3h1.20M112.3 78.8h1.20M144.4 79.1h1.20M147.0 87.0h1.20M86.8 83.3h1.20M125.3 76.7h1.20M115.6 72.7h1.20M79.7 78.8h1.20M180.3 80.8h1.20M196.3 88.7h1.20M102.7 85.6h1.20M143.0 79.9h1.20M168.4 75.4h1.20M71.5 83.3h1.20M66.0 77.6h1.20M99.2 74.6h1.20M79.4 82.5h1.20M86.5 73.6h1.20M118.8 73.6h1.20M88.7 87.9h1.20M178.6 70.5h1.20M146.5 72.5h1.20M170.0 79.5h1.20M120.7 70.9h1.20M88.8 77.5h1.20M156.9 82.6h1.20M76.3 77.1h1.20M64.9 77.8h1.20M152.9 76.5h1.20M99.1 88.2h1.20M149.0 86.6h1.20M167.6 82.5h1.20M94.0 78.4h1.20M165.2 70.2h1.20M109.9 77.9h1.20M89.6 75.3h1.20M87.7 72.7h1.20M90.8 69.0h1.20M155.3 77.2h1.20M84.2 86.0h1.20M164.2 86.8h1.20M186.9 85.8h1.20M155.7 76.1h1.20M102.2 77.2h1.20M145.1 84.7h1.20M89.2 86.8h1.20M70.7 77.8h1.20M165.7 77.7h1.20M87.2 83.1h1.20M173.4 80.2h1.20M92.4 82.2h1.20M81.1 84.7h1.20M183.6 84.8h1.20M105.1 76.1h1.20M96.1 75.2h1.20M115.0 76.7h1.20M100.1 86.2h1.20M67.0 75.4h1.20M68.7 74.0h1.20M174.7 79.0h1.20M192.4 74.3h1.20M108.8 85.5h1.20M185.2 89.8h1.20M120.9 75.1h1.20M156.4 75.4h1.20M110.6 71.9h1.20M103.1 75.7h1.20M113.8 77.9h1.20M170.0 70.8h1.20M114.3 82.6h1.20M154.7 75.2h1.20M144.7 82.2h1.20M59.6 71.8h1.20M83.1 73.9h1.20M102.2 79.1h1.20M176.9 73.3h1.20M142.4 76.6h1.20M148.7 82.0h1.20M72.1 71.7h1.20M78.7 79.5h1.20M68.2 76.3h1.20M100.3 72.7h1.20M144.0 85.2h1.20M158.9 82.2h1.20M192.7 73.5h1.20M72.8 73.2h1.20M165.4 74.1h1.20M157.6 84.9h1.20M100.7 86.9h1.20M143.3 72.9h1.20M157.3 79.6h1.20M94.8 86.7h1.20M191.7 77.3h1.20M144.6 74.8h1.20M98.1 74.7h1.20M186.2 79.3h1.20M168.9 87.0h1.20M160.4 83.0h1.20M76.6 75.9h1.20M83.5 82.1h1.20M74.5 81.9h1.20M154.5 81.1h1.20M83.3 73.3h1.20M141.7 70.1h1.20M85.0 75.7h1.20M89.7 86.8h1.20M113.4 85.9h1.20M164.8 77.4h1.20M65.3 77.0h1.20M80.2 75.7h1.20M167.2 75.3h1.20M176.9 72.4h1.20M138.0 75.5h1.20M80.7 77.0h1.20M214.0 80.9h1.20M89.1 80.6h1.20M119.3 87.8h1.20M90.9 78.6h1.20M153.4 79.4h1.20M190.8 79.4h1.20M161.1 76.0h1.20M194.6 84.3h1.20M94.7 71.2h1.20M156.3 68.8h1.20M101.4 78.7h1.20M165.6 85.3h1.20M91.0 85.5h1.20M97.3 77.5h1.20" stroke="#61c88c" stroke-width="1.20" fill="none" opacity="0.60"/>
<path d="M147.3 71.7h1.20M68.7 69.7h1.20M178.4 70.5h1.20M62.5 70.2h1.20M108.5 71.3h1.20M80.2 70.8h1.20M103.6 81.1h1.20M75.8 72.4h1.20M108.4 77.2h1.20M53.9 75.8h1.20M179.9 81.0h1.20M148.1 72.3h1.20M151.7 71.8h1.20M109.4 76.5h1.20M167.0 73.6h1.20M160.2 74.1h1.20M159.9 70.8h1.20M117.0 73.2h1.20M144.5 76.5h1.20M151.9 73.4h1.20M84.9 73.1h1.20M193.7 78.1h1.20M95.3 74.4h1.20M100.0 78.4h1.20M90.3 72.3h1.20M154.5 73.4h1.20M166.7 69.8h1.20M98.3 75.0h1.20M72.1 75.7h1.20M167.8 80.8h1.20M70.4 71.2h1.20M98.5 71.7h1.20M75.4 76.9h1.20M59.1 72.5h1.20M57.0 69.5h1.20M138.4 74.0h1.20M140.8 76.0h1.20M106.8 70.4h1.20M155.6 77.2h1.20M64.5 79.6h1.20M109.8 72.7h1.20M205.1 74.1h1.20M97.7 75.6h1.20M161.8 72.2h1.20M73.5 78.5h1.20M113.4 77.0h1.20M182.1 72.6h1.20M118.6 72.1h1.20M137.8 73.3h1.20M160.3 70.7h1.20M61.1 73.5h1.20M156.7 72.1h1.20M144.3 76.6h1.20M145.7 73.0h1.20M100.0 79.3h1.20M115.1 75.2h1.20M102.5 75.4h1.20M102.0 72.5h1.20M148.3 71.3h1.20M76.1 72.1h1.20M151.4 75.6h1.20M171.1 75.9h1.20M52.4 74.3h1.20M166.7 68.6h1.20M156.8 71.8h1.20M63.8 70.9h1.20M74.2 70.1h1.20M137.1 74.7h1.20M79.6 69.1h1.20M177.4 75.5h1.20M75.4 70.6h1.20M148.7 76.0h1.20M47.4 68.6h1.20M73.3 76.4h1.20M183.5 77.1h1.20M75.6 77.0h1.20M138.7 70.5h1.20M147.8 77.1h1.20M108.6 69.2h1.20M69.5 70.9h1.20M155.8 72.0h1.20M60.9 78.1h1.20M83.7 76.7h1.20M59.4 70.8h1.20M99.0 77.0h1.20M98.4 79.6h1.20M153.7 71.0h1.20M97.1 72.5h1.20M155.6 74.8h1.20M167.2 68.8h1.20M57.2 77.9h1.20M74.9 71.1h1.20M161.4 74.9h1.20M80.4 74.7h1.20M201.2 72.3h1.20M83.2 79.3h1.20M165.2 82.9h1.20M103.2 76.4h1.20M89.1 81.1h1.20M65.4 70.0h1.20M186.0 74.2h1.20M170.2 71.1h1.20M175.6 73.8h1.20M75.9 71.8h1.20M66.0 68.5h1.20M138.9 69.0h1.20M134.0 76.3h1.20M160.9 71.4h1.20M142.4 74.0h1.20M107.9 76.3h1.20M91.2 72.6h1.20M158.7 77.3h1.20M116.8 72.9h1.20M169.6 70.2h1.20M59.8 78.9h1.20M77.3 73.5h1.20M184.3 71.2h1.20M107.7 78.6h1.20M172.4 70.2h1.20M185.0 70.8h1.20M140.8 72.7h1.20M162.7 73.7h1.20M67.8 72.9h1.20M66.3 78.9h1.20M163.0 74.6h1.20M143.7 79.3h1.20M143.4 74.9h1.20M100.0 79.9h1.20M112.0 70.3h1.20M136.6 74.9h1.20M80.0 72.8h1.20M91.1 77.1h1.20M139.4 68.9h1.20M130.7 78.0h1.20M161.1 74.1h1.20M103.6 76.9h1.20M153.5 73.2h1.20M73.0 72.1h1.20M163.8 72.3h1.20M141.9 74.1h1.20M153.1 69.0h1.20M75.0 71.7h1.20M72.3 79.8h1.20M153.6 75.7h1.20M171.5 72.8h1.20M141.5 73.4h1.20M163.1 70.6h1.20M101.1 71.4h1.20M145.5 77.6h1.20M110.9 77.0h1.20M143.9 71.8h1.20M101.5 69.6h1.20M142.3 79.1h1.20M64.0 69.1h1.20M113.9 90.4h1.20M86.0 71.9h1.20M110.4 72.8h1.20M75.4 74.5h1.20M57.0 77.2h1.20M165.1 69.2h1.20M158.6 82.9h1.20M110.0 69.6h1.20M77.0 73.9h1.20M84.4 70.4h1.20M81.8 72.0h1.20M146.6 75.3h1.20M195.0 71.5h1.20M68.0 89.6h1.20M120.9 78.0h1.20M92.7 71.1h1.20M138.9 74.3h1.20M68.2 77.4h1.20M75.1 70.7h1.20M186.6 74.4h1.20M135.3 71.3h1.20M175.7 73.0h1.20M68.2 72.0h1.20M143.7 72.7h1.20M158.9 69.7h1.20M169.9 72.3h1.20M156.6 69.2h1.20M65.4 69.8h1.20M83.5 78.4h1.20M66.3 78.5h1.20M177.8 72.8h1.20M71.2 71.0h1.20M109.6 77.1h1.20M155.6 69.8h1.20M110.6 75.2h1.20M82.5 69.9h1.20M146.4 72.2h1.20M80.4 69.3h1.20M65.9 78.2h1.20M57.8 72.7h1.20M120.1 75.4h1.20M80.2 71.1h1.20M108.4 73.5h1.20M127.3 71.5h1.20M159.1 70.2h1.20M161.2 73.4h1.20M136.2 70.6h1.20M92.0 75.5h1.20M86.6 70.7h1.20M163.5 72.7h1.20M162.2 68.9h1.20M201.7 73.0h1.20M76.2 71.5h1.20M162.5 76.2h1.20M188.4 70.2h1.20M149.5 77.3h1.20M161.8 79.4h1.20M167.1 70.0h1.20M124.6 71.0h1.20M75.1 72.7h1.20M92.3 73.9h1.20M97.7 77.8h1.20M55.5 76.8h1.20M155.0 74.8h1.20M93.7 82.1h1.20M73.9 68.8h1.20M147.7 72.2h1.20M119.5 78.6h1.20M87.3 72.3h1.20M106.6 72.3h1.20M59.9 81.6h1.20M134.1 78.0h1.20M180.7 82.2h1.20M99.2 69.0h1.20M51.8 77.1h1.20M87.6 71.4h1.20M80.9 72.3h1.20M183.8 76.5h1.20M167.6 70.1h1.20M105.6 72.1h1.20M86.4 76.3h1.20M145.4 72.2h1.20M184.3 72.7h1.20M137.9 72.8h1.20M85.4 72.2h1.20M180.4 77.5h1.20M91.9 71.9h1.20M62.5 74.6h1.20M148.3 72.3h1.20M162.9 76.9h1.20M139.4 70.9h1.20M153.5 74.2h1.20M88.8 82.9h1.20M65.9 69.9h1.20M202.3 72.2h1.20M70.2 73.0h1.20M68.4 68.6h1.20M92.7 70.2h1.20M98.0 73.5h1.20M152.8 70.3h1.20M109.9 80.0h1.20M189.0 68.8h1.20M44.2 72.4h1.20M170.0 74.6h1.20M161.4 70.1h1.20M154.8 74.1h1.20M89.5 69.1h1.20M122.9 80.8h1.20M127.3 69.5h1.20M103.5 70.5h1.20M93.5 83.5h1.20M117.5 70.3h1.20M66.3 70.1h1.20M86.9 73.6h1.20M117.6 75.4h1.20M95.1 81.8h1.20M95.7 73.8h1.20M170.7 70.6h1.20M87.5 71.7h1.20M150.1 75.5h1.20M75.8 75.6h1.20M155.1 74.6h1.20M182.3 73.1h1.20M62.2 81.0h1.20M194.6 77.0h1.20M193.0 73.8h1.20M81.6 72.8h1.20M71.5 71.1h1.20M51.2 73.8h1.20M86.2 74.1h1.20M143.9 76.2h1.20M174.0 70.5h1.20M58.4 70.2h1.20M77.0 74.4h1.20M90.3 70.2h1.20M76.8 71.1h1.20M162.7 72.4h1.20M158.3 68.8h1.20M154.2 69.6h1.20M56.8 71.4h1.20M149.7 75.7h1.20M107.1 77.4h1.20M209.8 74.6h1.20M102.4 71.9h1.20M47.5 83.3h1.20M93.1 73.2h1.20M71.2 75.0h1.20M88.3 68.7h1.20M154.7 71.3h1.20M150.8 84.1h1.20M103.9 75.1h1.20M74.1 73.9h1.20M168.1 70.2h1.20M77.8 68.9h1.20M182.5 76.6h1.20M69.7 75.6h1.20M159.3 71.2h1.20M90.1 77.8h1.20M170.4 69.5h1.20M101.7 74.1h1.20M159.2 70.2h1.20M154.2 69.8h1.20M87.1 72.2h1.20M89.7 72.9h1.20M186.7 72.4h1.20M81.6 70.1h1.20M183.6 75.9h1.20M170.5 74.5h1.20M140.0 75.4h1.20M189.0 79.1h1.20M65.6 70.4h1.20M168.8 76.5h1.20M142.1 74.2h1.20M165.0 76.6h1.20M92.1 76.2h1.20M176.6 75.9h1.20M91.7 74.6h1.20M91.8 80.8h1.20M149.1 74.6h1.20M151.5 69.9h1.20M93.2 78.5h1.20M174.4 75.8h1.20M145.2 73.1h1.20M61.9 78.2h1.20M130.2 71.8h1.20M154.0 73.7h1.20M145.5 72.5h1.20M56.9 73.7h1.20M87.9 70.6h1.20M175.4 69.3h1.20M71.7 75.1h1.20M65.4 77.0h1.20M72.9 73.2h1.20M178.1 73.8h1.20M97.4 70.4h1.20M110.0 69.9h1.20M116.4 70.8h1.20M94.2 79.7h1.20M152.0 74.4h1.20M76.3 79.6h1.20M186.9 77.8h1.20M171.0 76.4h1.20M68.2 81.1h1.20M78.8 76.2h1.20M155.6 71.9h1.20M134.5 69.3h1.20M142.6 81.8h1.20M93.3 74.2h1.20M101.9 78.2h1.20M106.8 77.8h1.20M139.1 74.2h1.20M179.8 70.0h1.20M151.1 80.3h1.20M74.6 70.6h1.20M166.9 70.6h1.20M134.8 69.3h1.20M149.7 74.2h1.20M107.4 68.6h1.20M90.4 71.8h1.20M100.9 75.5h1.20M151.9 68.6h1.20M166.6 71.9h1.20M104.2 76.0h1.20M185.7 68.8h1.20M64.2 71.5h1.20M160.8 69.0h1.20M82.3 71.3h1.20M100.2 68.8h1.20M87.5 71.8h1.20M169.6 73.3h1.20M179.3 75.3h1.20M63.8 71.4h1.20M92.8 71.2h1.20M89.1 72.2h1.20M108.5 70.8h1.20M194.4 82.6h1.20M113.2 72.7h1.20M95.3 75.8h1.20M70.9 74.0h1.20M97.8 73.2h1.20M45.4 74.1h1.20M151.1 73.6h1.20M146.3 77.9h1.20M149.2 80.1h1.20M164.3 73.9h1.20M142.0 75.9h1.20M169.1 71.4h1.20M64.2 70.0h1.20M111.3 75.5h1.20M47.5 68.8h1.20M161.6 76.5h1.20M177.2 69.7h1.20" stroke="#71cf84" stroke-width="1.20" fill="none" opacity="0.60"/>
<path d="M61.5 73.5h1.20M137.0 71.1h1.20M160.2 68.8h1.20M203.8 71.2h1.20M154.0 70.4h1.20M83.0 69.9h1.20M142.1 70.2h1.20M102.0 72.4h1.20M142.0 71.2h1.20M149.3 70.7h1.20M149.5 75.0h1.20M79.3 69.3h1.20M95.1 71.1h1.20M153.9 74.6h1.20M90.8 70.3h1.20M146.2 70.5h1.20M114.7 76.0h1.20M69.2 71.7h1.20M110.7 69.1h1.20M92.0 70.1h1.20M92.8 70.0h1.20M86.3 68.9h1.20M95.7 70.7h1.20M66.1 78.2h1.20M58.9 72.1h1.20M92.1 69.4h1.20M102.7 73.3h1.20M148.3 69.0h1.20M102.6 75.0h1.20M156.2 73.2h1.20M82.2 76.4h1.20M159.0 73.8h1.20M148.4 69.9h1.20M70.5 70.9h1.20M136.9 72.5h1.20M111.9 72.6h1.20M163.6 69.0h1.20M80.4 70.1h1.20M143.4 68.8h1.20M204.4 71.1h1.20M194.0 70.5h1.20M79.9 68.5h1.20M119.2 69.6h1.20M88.8 76.1h1.20M100.5 71.9h1.20M168.8 72.8h1.20M74.7 68.6h1.20M55.7 68.8h1.20M116.7 72.0h1.20M89.7 69.6h1.20M103.1 77.5h1.20M150.2 70.1h1.20M156.4 73.3h1.20M96.9 69.5h1.20M161.9 71.9h1.20M96.1 70.0h1.20M61.6 73.0h1.20M105.2 72.5h1.20M74.9 68.7h1.20M71.7 70.3h1.20M96.9 70.4h1.20M115.2 70.7h1.20M101.1 74.1h1.20M136.7 68.6h1.20M144.9 70.4h1.20M69.0 68.8h1.20M168.6 70.3h1.20M176.4 69.1h1.20M50.9 68.9h1.20M82.2 69.8h1.20M173.3 70.9h1.20" stroke="#84d679" stroke-width="1.20" fill="none" opacity="0.60"/>
<path d="M155.2 71.3h1.10M86.8 70.1h1.10M172.7 70.3h1.10M100.9 57.2h1.10M97.2 55.1h1.10M95.5 60.4h1.10M89.3 62.4h1.10" stroke="#90d85d" stroke-width="1.10" fill="none" opacity="0.60"/>
<path d="M98.9 56.9h1.10M90.9 51.3h1.10M92.5 58.3h1.10M94.2 46.9h1.10M78.6 57.7h1.10M84.3 55.3h1.10M80.0 63.7h1.10M84.8 42.9h1.10M84.5 59.8h1.10M93.0 63.2h1.10M88.5 56.9h1.10M92.4 63.6h1.10M92.1 61.2h1.10M96.9 56.1h1.10M87.0 63.4h1.10M80.1 63.4h1.10M93.5 63.1h1.10M91.5 48.0h1.10M101.1 59.1h1.10M96.9 60.9h1.10M92.2 50.3h1.10M79.4 45.9h1.10M92.8 56.4h1.10M99.3 46.3h1.10M96.1 57.6h1.10M88.9 56.2h1.10M89.3 52.6h1.10M86.9 53.9h1.10M92.1 53.6h1.10M91.5 56.1h1.10M84.1 61.8h1.10M98.7 60.8h1.10M82.9 63.3h1.10M81.5 62.7h1.10M77.5 63.2h1.10M94.3 46.9h1.10M86.7 59.4h1.10M99.6 51.5h1.10M79.6 59.8h1.10M91.2 63.5h1.10" stroke="#a7dd4e" stroke-width="1.10" fill="none" opacity="0.60"/>
<path d="M78.9 54.1h1.10M78.6 61.8h1.10M100.8 54.4h1.10M98.1 48.3h1.10M92.2 52.9h1.10M85.6 59.8h1.10M102.3 58.7h1.10M81.2 43.1h1.10M85.6 47.5h1.10M86.8 44.3h1.10M99.4 62.9h1.10M98.9 56.0h1.10M87.7 40.3h1.10M81.1 60.1h1.10M83.0 60.9h1.10M102.0 58.0h1.10M89.0 37.6h1.10M90.3 55.1h1.10M96.8 55.1h1.10M77.7 63.4h1.10M98.9 39.1h1.10M79.4 56.8h1.10M89.3 63.1h1.10M98.2 42.9h1.10M97.1 57.8h1.10M88.3 57.8h1.10M82.7 54.9h1.10M100.2 47.1h1.10M83.7 48.5h1.10M84.5 56.9h1.10M99.1 59.9h1.10M96.1 54.6h1.10M96.1 59.2h1.10M79.9 55.5h1.10M98.6 63.7h1.10M80.5 57.7h1.10M89.3 54.8h1.10M97.1 59.3h1.10M89.1 50.9h1.10M96.6 45.6h1.10M82.3 52.8h1.10M91.7 42.5h1.10M98.9 57.3h1.10M83.8 50.8h1.10M87.6 40.5h1.10M96.1 57.0h1.10M93.2 58.5h1.10M88.9 45.1h1.10M101.3 50.7h1.10M94.8 55.3h1.10M85.6 51.2h1.10M93.4 57.2h1.10M95.0 55.3h1.10M78.0 51.9h1.10M91.4 56.9h1.10M88.4 51.6h1.10M86.7 55.9h1.10M93.1 51.4h1.10M96.9 42.7h1.10M85.0 51.8h1.10M78.7 52.4h1.10M97.0 62.1h1.10M77.4 30.7h1.10M92.2 33.1h1.10M83.8 56.2h1.10M79.2 61.4h1.10M92.8 61.6h1.10M86.5 59.4h1.10M92.1 43.7h1.10M91.6 62.0h1.10M82.4 59.1h1.10M84.0 47.9h1.10M94.4 37.6h1.10M92.2 54.0h1.10M79.2 53.3h1.10M89.2 62.1h1.10M91.9 41.3h1.10M95.2 58.5h1.10M99.0 53.9h1.10M97.1 54.5h1.10M83.1 59.3h1.10M91.5 63.2h1.10M89.9 63.0h1.10M84.7 58.6h1.10M88.6 48.4h1.10M79.7 51.7h1.10M87.5 60.0h1.10M89.9 34.4h1.10M93.4 55.9h1.10M82.8 46.8h1.10M94.8 50.4h1.10M84.3 56.3h1.10M84.8 59.1h1.10M97.8 44.2h1.10M82.9 57.6h1.10M89.6 53.0h1.10M85.2 52.6h1.10M90.7 60.0h1.10M85.8 35.3h1.10M99.1 57.0h1.10M86.7 40.7h1.10M99.8 61.1h1.10M95.7 49.5h1.10M77.3 45.7h1.10M90.8 63.9h1.10M101.6 54.8h1.10M81.4 59.2h1.10M81.7 56.6h1.10M94.4 59.7h1.10M79.8 61.7h1.10M96.8 48.8h1.10M85.7 53.2h1.10M79.7 61.5h1.10M92.8 56.5h1.10M88.3 60.2h1.10M81.8 59.6h1.10M100.8 52.8h1.10M99.2 34.9h1.10M91.7 62.1h1.10M95.2 62.3h1.10M96.4 59.2h1.10M81.4 60.9h1.10M96.0 60.5h1.10M83.2 55.9h1.10M93.5 55.0h1.10M92.3 49.9h1.10M79.1 59.1h1.10M89.5 52.3h1.10M86.7 60.8h1.10M87.6 51.3h1.10M91.0 47.8h1.10" stroke="#c1e23d" stroke-width="1.10" fill="none" opacity="0.60"/>
<path d="M97.5 35.6h1.10M97.6 27.1h1.10M77.6 61.6h1.10M90.0 38.8h1.10M92.5 33.7h1.10M91.7 58.0h1.10M89.5 32.8h1.10M78.7 46.4h1.10M96.7 43.2h1.10M89.9 46.1h1.10M82.0 48.6h1.10M89.0 41.5h1.10M80.3 29.2h1.10M92.2 47.1h1.10M86.7 39.7h1.10M92.7 28.9h1.10M92.6 54.2h1.10M98.6 41.1h1.10M101.1 44.1h1.10M92.5 54.0h1.10M96.8 32.2h1.10M99.7 36.2h1.10M89.6 35.4h1.10M96.3 43.4h1.10M89.8 35.2h1.10M98.4 36.4h1.10M97.8 36.7h1.10M98.8 39.0h1.10M88.7 35.2h1.10M92.4 49.3h1.10M95.2 49.2h1.10M99.4 45.2h1.10M95.7 43.1h1.10M97.4 39.7h1.10M83.0 44.2h1.10M89.9 24.9h1.10M83.9 55.6h1.10M79.9 41.8h1.10M101.9 29.8h1.10M77.5 41.1h1.10M80.6 26.8h1.10M101.7 52.9h1.10M99.3 32.9h1.10M98.0 41.2h1.10M92.7 50.5h1.10M91.9 49.6h1.10M97.8 43.3h1.10M92.5 40.1h1.10M85.0 51.1h1.10M102.1 50.5h1.10M82.6 30.4h1.10M97.7 42.9h1.10M95.0 31.0h1.10M92.5 45.1h1.10M84.5 40.3h1.10M84.6 44.0h1.10M80.0 45.0h1.10M102.4 52.3h1.10M83.4 21.1h1.10M85.9 31.5h1.10M98.6 30.5h1.10M90.6 38.0h1.10M96.4 48.1h1.10M91.3 40.0h1.10M78.3 26.6h1.10M95.9 35.0h1.10M88.8 53.4h1.10M98.0 38.6h1.10M83.3 26.0h1.10M83.3 44.3h1.10M98.5 28.2h1.10M96.3 41.4h1.10M102.3 37.3h1.10M91.7 52.6h1.10M82.9 52.6h1.10M97.1 56.7h1.10M97.1 43.4h1.10M90.2 46.4h1.10M85.5 29.3h1.10M95.1 30.3h1.10M84.8 58.5h1.10M86.7 47.0h1.10M76.8 31.2h1.10M97.8 34.1h1.10M94.9 31.1h1.10M92.9 46.5h1.10M84.5 39.9h1.10M99.0 35.0h1.10M94.0 41.9h1.10M94.4 51.9h1.10M77.2 39.9h1.10M91.9 40.9h1.10M87.6 47.7h1.10M99.2 31.2h1.10M99.6 38.8h1.10M84.4 54.8h1.10M95.7 43.8h1.10M81.4 45.2h1.10M78.8 40.6h1.10M88.8 36.6h1.10M81.1 59.0h1.10M99.2 38.9h1.10M81.5 59.8h1.10M80.0 36.1h1.10M85.4 32.1h1.10M99.1 41.8h1.10M89.1 42.5h1.10M77.8 41.3h1.10M89.2 36.1h1.10M76.9 32.0h1.10M83.2 50.6h1.10M93.9 42.2h1.10M92.0 27.9h1.10M91.5 43.4h1.10M86.6 47.7h1.10M101.0 45.4h1.10M99.2 48.0h1.10M99.5 49.7h1.10M81.7 47.4h1.10M94.3 46.9h1.10M77.1 51.2h1.10M89.8 56.0h1.10M83.4 35.7h1.10M95.0 28.5h1.10M91.8 37.9h1.10M97.3 48.4h1.10M89.4 37.7h1.10M95.1 54.6h1.10M101.7 37.3h1.10M93.1 57.4h1.10M81.2 27.3h1.10M80.9 54.7h1.10M91.4 34.4h1.10M94.1 49.9h1.10M82.4 49.3h1.10M77.9 32.1h1.10M76.9 37.7h1.10M98.6 28.0h1.10M77.2 50.3h1.10M97.3 32.8h1.10M95.6 38.1h1.10M82.0 55.1h1.10M87.8 50.5h1.10M89.2 40.8h1.10M85.2 39.9h1.10M95.0 47.7h1.10M76.5 38.7h1.10M84.3 39.2h1.10M96.9 41.9h1.10M93.4 51.4h1.10M99.1 32.1h1.10M93.8 32.7h1.10M89.9 29.0h1.10M94.2 26.2h1.10M93.7 44.6h1.10M93.7 56.7h1.10M89.3 49.8h1.10M98.9 44.5h1.10M80.4 49.8h1.10M94.7 30.5h1.10M101.3 43.4h1.10M91.7 62.3h1.10M95.1 55.1h1.10M102.4 58.3h1.10M86.5 50.0h1.10M88.9 22.4h1.10M99.4 46.1h1.10M80.6 38.2h1.10M100.9 32.2h1.10M89.1 30.7h1.10M90.7 36.8h1.10M80.7 46.2h1.10M84.1 51.3h1.10M98.7 42.6h1.10M81.9 50.4h1.10" stroke="#dce530" stroke-width="1.10" fill="none" opacity="0.60"/>
<path d="M85.7 28.2h1.10M89.4 37.1h1.10M98.2 24.7h1.10M89.4 53.9h1.10M91.6 37.9h1.10M97.7 39.4h1.10M86.3 49.0h1.10M95.1 35.0h1.10M93.6 47.7h1.10M94.2 24.3h1.10M88.0 27.4h1.10M96.8 45.1h1.10M89.0 31.3h1.10M97.3 31.9h1.10M91.3 30.5h1.10M99.3 22.1h1.10M90.6 42.4h1.10M80.4 27.5h1.10M92.3 30.8h1.10M93.0 41.3h1.10M95.3 39.7h1.10M93.8 21.4h1.10M86.5 35.1h1.10M88.4 35.9h1.10M89.3 36.8h1.10M91.8 29.4h1.10M89.6 36.9h1.10M80.4 27.0h1.10M98.6 25.6h1.10M102.1 22.2h1.10M89.1 47.0h1.10M100.0 34.1h1.10M83.5 39.3h1.10M92.9 39.8h1.10M79.5 37.0h1.10M77.5 28.0h1.10M77.0 41.1h1.10M83.1 32.9h1.10M92.7 32.0h1.10M84.1 33.3h1.10M89.2 21.7h1.10M92.0 22.6h1.10M77.3 37.0h1.10M77.9 38.2h1.10M98.1 32.3h1.10M98.2 29.7h1.10M80.2 29.7h1.10M85.1 31.3h1.10M88.4 24.5h1.10M81.2 34.3h1.10M77.3 28.5h1.10M97.2 42.6h1.10M99.1 43.6h1.10M80.8 27.6h1.10M80.8 32.0h1.10M91.3 21.1h1.10M87.4 25.1h1.10M91.4 26.6h1.10M88.3 22.0h1.10M96.4 37.3h1.10M102.1 46.9h1.10M90.2 31.7h1.10M76.6 35.0h1.10M79.6 28.5h1.10M96.6 35.8h1.10M77.3 32.2h1.10M86.5 39.7h1.10M91.4 30.1h1.10M88.2 30.5h1.10M78.3 24.6h1.10M89.9 32.0h1.10M82.7 43.9h1.10M96.8 25.5h1.10M83.3 41.9h1.10M96.2 44.4h1.10M100.2 27.7h1.10M97.3 23.2h1.10M87.0 37.4h1.10M85.4 40.3h1.10M92.8 27.1h1.10M90.2 37.5h1.10M81.9 30.0h1.10M93.3 24.6h1.10M83.0 28.8h1.10M80.1 34.5h1.10M89.9 36.3h1.10M97.3 28.6h1.10M95.0 43.9h1.10M82.3 36.1h1.10M84.9 37.6h1.10M81.1 47.6h1.10M93.3 21.5h1.10M98.4 33.4h1.10M92.7 32.9h1.10M83.3 43.5h1.10M97.6 27.4h1.10M91.6 25.9h1.10M78.9 34.3h1.10M98.2 22.0h1.10M91.3 30.8h1.10M82.3 30.7h1.10M98.4 32.8h1.10M85.3 32.6h1.10M101.8 29.4h1.10M78.2 37.8h1.10M97.6 32.8h1.10M78.6 31.2h1.10M101.0 37.3h1.10M102.1 22.0h1.10M77.2 31.6h1.10M96.1 33.9h1.10M84.8 42.8h1.10M90.6 27.5h1.10M79.8 26.5h1.10M96.1 39.8h1.10M96.3 40.1h1.10M83.8 34.1h1.10M76.9 35.8h1.10M84.5 33.3h1.10M81.7 27.1h1.10M89.5 41.8h1.10M86.6 23.0h1.10M101.3 31.5h1.10M101.2 27.5h1.10M98.1 22.4h1.10M95.3 36.1h1.10M77.5 36.2h1.10M81.1 35.7h1.10M80.7 21.9h1.10M92.9 33.9h1.10M81.5 32.3h1.10M77.4 39.4h1.10M81.0 26.7h1.10M101.0 27.3h1.10" stroke="#f3e833" stroke-width="1.10" fill="none" opacity="0.60"/>
</g>
<g filter="url(#bl)">
<path d="M38,60.5 L40,60 L41.5,62.5 L45,64.4 L60,65.6 L80,65 L100,64 L112,63.2 L120,62.8 L121,60 L124,58.2 L128,58 L131,60 L134,62 L142,61.5 L150,60.5 L160,59.3 L170,59 L178,60.8 L185,62 L193,63.5 L200,65 L206,64 L211,64.5 L216.5,66 L216.5,67 L212,69 L205,70.5 L196,71 L186,70 L176,70 L166,69 L150,69 L142,68.5 L134,67 L128,67.5 L121,67 L118,67 L100,68 L80,69 L70,69.3 L68,72 L66,74 L64,72 L62.5,69.3 L45,69 L41,67.5 L38,67Z" fill="#39577a"/>
<path d="M121,60 L124,58.2 L128,58 L131,60 L134,62 L142,61.5 L150,60.5 L160,59.3 L170,59 L178,60.8 L185,62 L193,63.5 L200,65 L206,64 L211,64 L216,65.5 L211,66.3 L205,66 L199,67.5 L191,66.3 L184,65 L177,63.8 L169,62.3 L160,62.8 L151,64 L143,64.6 L135,64.6 L130,62.5 L126,61.5 L123,62.5 L121,64.5Z" fill="#6593c6"/>
<path d="M86,64.3 L100,63.6 L112,62.8 L120,62.5 L120,63.6 L108,64.8 L92,65.6Z" fill="#6a90b8"/>
<path d="M38,60.5 L40,60 L41.5,62.5 L41,65 L38,64.5Z" fill="#5f8fc2"/>
</g>
<path d="M96.5,139.6 L121,139.2 L128,141 L128,147 L96,146.4Z" fill="#e0ded7"/>
<path d="M121,136 L134,136 L134,140.5 Q127.5,142.5 121,140.5Z" fill="url(#sh)"/>
<path d="M128,141 L134,140.4 L158.8,138.8 L149,147.2 L132,147 Z" fill="#9b9b9a"/>
<path d="M134,140.6 L156,139.3 L152,142 L138,142.6Z" fill="#b9b9b8"/>
<path d="M134,143.6 L146,142.6 L152.5,144.2 L149,147.2 L137,146.8Z" fill="#7f7f7e"/>
</g>
<path d="M47.2 194.5L46.9 179" stroke="#e9e860" stroke-width="0.7"/>
<path d="M47.2 194.5L71 194.5" stroke="#6fe67c" stroke-width="0.7"/>
<path d="M46.9 177l-2 3.6h3.8z" fill="#d6d422"/>
<ellipse cx="71" cy="194.5" rx="2.3" ry="1.5" fill="#19a52c"/>
<circle cx="47.2" cy="194.5" r="1.6" fill="#e01c12"/>
<text x="49.4" y="180.2" font-size="4.8" font-weight="bold" fill="#2c2c3c">Y</text>
<text x="49.2" y="193.9" font-size="4.8" font-weight="bold" fill="#2c2c3c">X</text>
<text x="71" y="192.9" font-size="4.8" font-weight="bold" fill="#2c2c3c">Z</text>
<text x="5.2" y="225.5" font-size="9.5" fill="#1c1c2c" stroke="#1c1c2c" stroke-width="0.15" textLength="76.5" lengthAdjust="spacingAndGlyphs">Time: 12.10s</text>
<rect x="246" y="62" width="13.6" height="153" fill="url(#cb)"/>
<path d="M257.5 61.3H267" stroke="#2a2a2a" stroke-width="0.9"/>
<text x="272" y="63.6" font-size="8.3" fill="#333" textLength="18.8" lengthAdjust="spacingAndGlyphs">3.0</text>
<path d="M257.5 87.0H267" stroke="#2a2a2a" stroke-width="0.9"/>
<text x="272" y="89.3" font-size="8.3" fill="#333" textLength="18.8" lengthAdjust="spacingAndGlyphs">2.5</text>
<path d="M257.5 112.6H267" stroke="#2a2a2a" stroke-width="0.9"/>
<text transform="translate(271.8,114.9) scale(1.5,1)" font-size="8.3" fill="#333">2</text>
<path d="M257.5 138.3H267" stroke="#2a2a2a" stroke-width="0.9"/>
<text x="272" y="140.6" font-size="8.3" fill="#333" textLength="18.8" lengthAdjust="spacingAndGlyphs">1.5</text>
<path d="M257.5 164.0H267" stroke="#2a2a2a" stroke-width="0.9"/>
<text transform="translate(272.2,166.3) scale(1.5,1)" font-size="8.3" fill="#333">1</text>
<path d="M257.5 189.7H267" stroke="#2a2a2a" stroke-width="0.9"/>
<text x="272" y="192.0" font-size="8.3" fill="#333" textLength="18.8" lengthAdjust="spacingAndGlyphs">0.5</text>
<path d="M257.5 215.3H267" stroke="#2a2a2a" stroke-width="0.9"/>
<text x="272" y="217.6" font-size="8.3" fill="#333" textLength="18.8" lengthAdjust="spacingAndGlyphs">0.0</text>
<text transform="translate(316,169) rotate(-90)" font-size="14" fill="#222" textLength="62" lengthAdjust="spacingAndGlyphs">Particle_Height</text>
<g clip-path="url(#rt)">
<rect x="378" y="10" width="157" height="182" fill="url(#dm)"/>
<rect x="378" y="37" width="157" height="22" fill="url(#tk2)"/>
<path d="M378.5,37.2H534" stroke="#f2f0f1" stroke-width="0.8" opacity="0.7"/>
<rect x="380.5" y="58" width="153" height="134" fill="url(#rb)"/>
<rect x="378" y="58" width="157" height="134" fill="url(#rbx)"/>
<rect x="410.6" y="26" width="14.6" height="31" fill="url(#yc)"/>
<rect x="454" y="19.7" width="5.2" height="39" fill="#b4b2b3"/><rect x="454.4" y="19.7" width="2.2" height="39" fill="#d9d7d8"/>
<rect x="519" y="53.6" width="15" height="1.6" fill="#a9a7a8"/>
<path d="M456 60V172" stroke="#1f5a66" stroke-width="0.7" opacity="0.45"/>
<g filter="url(#bl)">
<path d="M378,54.5 L388,55 L396,54 L403,53.5 L410,54.5 L425,55 L432,54 L440,53.5 L448,53.3 L454,54.5 L460,55.2 L470,55.2 L480,54.6 L495,55 L510,54.5 L520,55 L534,55.3 L534,57.6 L520,58 L505,58.5 L490,59 L470,58.6 L461,59.5 L455,62 L445,62.2 L432,62 L422,61 L412,59.5 L400,59 L388,58.8 L378,58.8Z" fill="#4681bf"/>
<path d="M396,54.3 L403,53.7 L410,54.7 L425,55.2 L432,54.2 L440,53.7 L448,53.5 L454,54.7 L460,56 L470,56.2 L480,55.7 L472,57.3 L455,57 L440,57.2 L425,57 L410,57Z" fill="#5f9ad6"/>
</g>
<g filter="url(#bl)"><path d="M528.5 94.2h.9M529.8 110.4h.9M426.8 179.5h.9M427.8 165.2h.9M510.7 180.9h.9M384.5 71.7h.9M383.4 129.1h.9M484.2 184.4h.9M468.3 186.9h.9M380.6 166.9h.9M458.5 187.9h.9M515.4 163.7h.9M472.1 184.0h.9M520.3 174.9h.9M438.7 164.6h.9M520.0 131.3h.9M389.3 174.7h.9M516.1 146.6h.9M523.7 133.9h.9M533.2 87.8h.9M382.5 168.0h.9M528.6 159.2h.9M531.0 148.3h.9M456.2 177.8h.9M379.5 165.1h.9M523.4 146.1h.9M520.3 147.0h.9M433.4 184.4h.9M384.7 67.8h.9M379.6 105.0h.9M533.8 159.4h.9M439.6 166.9h.9M532.5 103.7h.9M426.4 184.3h.9M383.5 102.5h.9M380.0 166.6h.9M498.9 181.8h.9M383.4 160.4h.9M396.1 171.1h.9M530.1 93.5h.9M381.9 139.2h.9M527.7 158.8h.9M389.1 167.5h.9M396.1 106.2h.9M524.8 98.7h.9M471.7 183.3h.9M529.0 168.1h.9M384.9 62.4h.9M400.8 164.3h.9M521.3 151.5h.9M391.5 131.7h.9M514.8 147.0h.9M398.1 156.1h.9M527.7 66.9h.9M452.2 187.4h.9M533.7 73.5h.9M511.4 151.6h.9M388.3 171.7h.9M468.9 187.1h.9M529.5 153.7h.9M522.2 177.5h.9M496.8 183.3h.9M387.0 93.7h.9M412.3 178.4h.9M384.0 127.0h.9M394.1 169.8h.9M392.8 158.8h.9M529.7 134.9h.9M532.5 114.5h.9M511.1 179.0h.9M514.4 135.7h.9M483.4 185.7h.9M464.6 173.8h.9M382.9 158.1h.9M524.6 97.5h.9M506.6 177.0h.9M527.1 102.8h.9M519.8 132.4h.9M496.8 185.5h.9M420.5 173.5h.9M532.0 137.4h.9M380.2 162.9h.9M394.7 173.7h.9M384.5 135.3h.9M438.0 183.1h.9M510.6 107.7h.9M431.6 181.9h.9M517.8 130.7h.9M530.7 140.3h.9M532.1 149.0h.9M380.0 165.4h.9M457.5 187.8h.9M525.4 71.2h.9M380.9 110.5h.9M441.4 184.3h.9M399.7 77.8h.9M530.0 142.6h.9M527.7 127.1h.9M495.4 179.8h.9M528.7 169.8h.9M381.6 114.8h.9M447.5 186.2h.9M502.3 181.5h.9M460.1 184.9h.9M383.4 94.9h.9M390.0 112.4h.9M476.4 183.3h.9M484.5 175.9h.9M415.7 175.5h.9M483.4 183.2h.9M381.0 94.5h.9M379.2 85.9h.9M531.6 162.9h.9M387.1 90.2h.9M533.7 102.2h.9M532.2 105.4h.9M381.1 110.7h.9M384.3 165.5h.9M399.0 99.7h.9M524.0 148.8h.9M401.0 167.7h.9M526.2 136.1h.9M530.6 77.0h.9M382.6 65.1h.9M402.1 167.4h.9M508.1 110.1h.9M530.3 118.6h.9M379.4 79.3h.9M528.0 119.9h.9M381.5 105.1h.9M394.7 154.3h.9M532.2 117.3h.9M523.3 134.9h.9M432.3 185.3h.9M452.6 185.6h.9M379.3 147.0h.9M526.8 157.2h.9M382.9 118.5h.9M379.8 144.7h.9M389.7 170.9h.9M521.9 177.1h.9M382.9 124.5h.9M386.1 127.3h.9M528.8 94.4h.9M379.0 129.9h.9M385.2 150.8h.9M434.6 167.9h.9M379.5 113.3h.9M531.7 137.0h.9M380.9 142.9h.9M385.7 149.8h.9M528.7 171.9h.9M533.6 91.2h.9M530.4 93.4h.9M501.5 184.8h.9M379.0 108.8h.9M518.1 141.1h.9M384.0 126.0h.9M532.6 123.7h.9M529.1 162.3h.9M494.4 183.4h.9M418.1 181.7h.9M524.9 84.0h.9M528.2 96.0h.9M392.9 173.9h.9M512.1 173.7h.9M475.3 183.3h.9M387.1 142.5h.9M531.2 140.2h.9M379.1 80.7h.9M430.5 180.5h.9M412.4 179.5h.9M533.4 156.3h.9M442.5 186.8h.9M443.2 181.7h.9M532.5 104.5h.9M435.4 163.6h.9M397.4 74.4h.9M533.0 88.7h.9M525.5 174.1h.9M386.0 120.8h.9M529.7 169.7h.9M533.9 149.7h.9M380.1 164.5h.9M388.4 108.7h.9M380.6 139.2h.9M415.5 176.0h.9M530.9 155.0h.9M527.6 101.0h.9M533.7 134.1h.9M531.9 122.1h.9M381.4 164.9h.9M379.2 128.1h.9M432.4 184.3h.9M533.1 90.6h.9M434.5 161.0h.9M531.4 155.8h.9M531.9 114.7h.9M526.9 165.9h.9M515.8 176.8h.9M379.3 114.0h.9M395.9 174.0h.9M534.0 154.5h.9M390.1 174.6h.9M510.9 181.7h.9M380.7 164.0h.9M419.5 182.9h.9M530.2 163.3h.9M380.8 162.9h.9M380.9 166.0h.9M530.2 92.0h.9M527.9 107.2h.9M382.0 167.8h.9M532.5 106.0h.9M380.9 101.4h.9M492.7 177.8h.9M532.2 89.0h.9M463.1 181.7h.9M418.5 183.5h.9M485.5 177.5h.9M435.8 165.3h.9M533.8 79.6h.9M529.9 73.1h.9M523.7 149.4h.9M383.1 160.5h.9M498.5 181.6h.9M380.1 167.5h.9M383.6 168.1h.9M456.2 167.5h.9M388.2 153.5h.9M534.0 151.0h.9M530.7 141.2h.9M379.1 88.0h.9M382.4 120.8h.9M382.3 88.3h.9M424.0 184.8h.9M529.1 172.0h.9M444.0 182.8h.9M379.3 89.5h.9M426.7 183.1h.9M530.7 83.8h.9M397.7 169.6h.9M533.8 66.2h.9M443.2 176.1h.9M511.0 168.5h.9M428.7 168.0h.9M513.2 158.9h.9M399.7 175.6h.9M519.6 87.5h.9M386.1 121.8h.9M533.1 148.7h.9M461.7 170.5h.9M385.1 89.6h.9M433.8 167.9h.9M518.4 177.6h.9M493.9 182.2h.9M526.7 120.3h.9M381.3 120.2h.9M439.6 178.1h.9M379.5 162.1h.9M479.7 174.2h.9M511.6 140.6h.9M379.4 136.0h.9M401.5 146.0h.9M384.8 143.2h.9M450.7 183.5h.9M431.3 184.5h.9M530.9 169.0h.9M510.9 178.4h.9M527.7 146.1h.9M522.2 158.0h.9M382.8 167.4h.9M380.6 134.4h.9M382.2 90.2h.9M379.6 136.7h.9M385.5 157.9h.9M430.3 167.8h.9M531.9 146.6h.9M515.6 154.0h.9M425.4 170.9h.9M385.8 129.6h.9M380.1 168.0h.9M444.4 171.5h.9M532.2 165.5h.9M397.3 178.5h.9M521.2 79.8h.9M381.6 145.2h.9M497.5 174.4h.9M532.3 92.9h.9M407.7 181.5h.9M510.4 65.7h.9M523.6 96.7h.9M387.4 84.6h.9M381.5 134.7h.9M530.2 104.7h.9M383.7 99.0h.9M529.0 119.2h.9M528.3 155.0h.9M522.0 141.4h.9M381.5 85.8h.9M533.4 63.3h.9M443.3 167.6h.9M531.7 139.6h.9M530.3 104.8h.9M441.7 185.0h.9M462.8 175.6h.9M525.0 142.7h.9M530.4 135.2h.9M496.9 183.2h.9M530.3 155.8h.9M385.4 96.1h.9M525.3 142.0h.9M379.9 140.4h.9M530.6 158.6h.9M518.7 162.8h.9M479.2 168.5h.9M472.8 185.5h.9M526.8 112.8h.9M515.1 150.2h.9M531.3 124.3h.9M529.9 105.1h.9M533.9 119.5h.9M483.9 184.2h.9M380.5 148.0h.9M527.4 170.3h.9M383.5 156.1h.9M458.7 166.7h.9M408.5 171.5h.9M424.4 178.6h.9M432.9 166.2h.9M533.4 69.2h.9M516.8 154.9h.9M532.1 127.1h.9M526.4 163.2h.9M530.8 139.3h.9M512.2 170.5h.9M527.5 162.2h.9M505.1 181.4h.9M476.8 176.4h.9M500.1 183.3h.9M523.9 134.6h.9M393.8 172.8h.9M530.9 168.5h.9M383.9 94.3h.9M532.0 142.3h.9M476.0 185.9h.9M388.4 143.1h.9M379.0 69.2h.9M514.2 165.7h.9M505.3 165.6h.9M523.3 173.0h.9M387.8 118.5h.9M530.9 168.9h.9M382.0 119.8h.9M416.6 180.2h.9M441.4 185.9h.9M532.4 145.5h.9M501.5 183.5h.9M406.3 178.0h.9M530.4 123.0h.9M533.8 127.5h.9M526.5 108.6h.9M434.5 165.8h.9M529.9 77.5h.9M532.6 82.2h.9M529.6 103.5h.9M383.0 134.0h.9M530.2 164.3h.9M496.9 184.8h.9M533.8 137.0h.9M523.0 162.2h.9M503.3 184.0h.9M532.8 122.7h.9M379.2 124.3h.9M380.5 126.7h.9M440.3 173.1h.9M409.6 181.4h.9M516.4 147.6h.9M524.1 111.5h.9M380.8 153.6h.9M531.8 119.2h.9M526.4 144.6h.9M388.2 152.6h.9M519.3 167.8h.9M527.2 160.1h.9M433.3 167.5h.9M516.9 112.6h.9M436.4 175.5h.9M510.1 182.4h.9M379.5 77.4h.9M399.8 179.8h.9M531.6 156.2h.9M379.6 123.2h.9M510.5 171.8h.9M456.1 186.2h.9M534.0 105.0h.9M532.0 141.3h.9M391.8 176.0h.9M384.6 110.3h.9M525.2 152.8h.9M392.4 139.1h.9M533.3 143.7h.9M532.0 127.0h.9M489.5 175.0h.9M531.3 130.2h.9M533.4 98.1h.9M531.5 62.1h.9M458.4 169.0h.9M518.9 175.7h.9M380.1 161.3h.9M517.3 137.0h.9M381.6 169.3h.9M382.4 169.6h.9M525.4 172.4h.9M386.6 109.1h.9M381.0 149.1h.9M490.8 179.2h.9M384.7 156.7h.9M435.0 167.5h.9M421.6 184.5h.9M440.0 167.9h.9M415.6 182.5h.9M509.8 179.0h.9M402.9 180.4h.9M528.0 62.8h.9M388.4 155.0h.9M384.9 144.7h.9M384.9 161.7h.9M444.1 165.9h.9M531.1 69.1h.9M381.6 161.2h.9M387.8 151.9h.9M521.4 154.3h.9M531.9 167.2h.9M416.2 174.0h.9M520.6 171.8h.9M381.4 90.4h.9M445.6 181.6h.9M379.5 110.2h.9M405.2 83.0h.9M426.6 177.6h.9M403.4 169.1h.9M529.1 128.6h.9M388.4 84.8h.9M379.3 100.0h.9M517.6 142.0h.9M420.0 170.1h.9M380.3 86.5h.9M527.2 95.1h.9M381.3 140.9h.9M511.4 143.8h.9M468.8 187.0h.9M381.2 163.7h.9M522.7 144.7h.9M384.7 120.3h.9M521.1 140.3h.9M420.7 164.2h.9M384.9 171.7h.9M429.2 165.2h.9M381.3 168.8h.9M414.4 180.9h.9M411.4 168.0h.9M388.2 108.5h.9M532.8 135.3h.9M442.4 182.8h.9M478.4 181.9h.9M471.9 187.2h.9M522.3 169.4h.9M533.5 139.7h.9M492.7 178.4h.9M520.8 140.3h.9M527.0 73.4h.9M405.8 179.3h.9M380.9 134.1h.9M473.3 182.7h.9M399.5 136.9h.9M532.1 67.0h.9M494.2 181.1h.9M532.0 124.8h.9M391.3 174.6h.9M379.2 97.3h.9M423.0 171.7h.9M383.0 149.5h.9M519.2 157.3h.9M517.5 159.0h.9M379.8 126.9h.9M403.0 168.9h.9M439.4 179.3h.9M533.9 147.6h.9M527.1 130.7h.9M474.1 184.1h.9M474.5 187.2h.9M380.7 75.0h.9M529.7 75.2h.9M531.1 151.5h.9M383.2 96.7h.9M499.5 179.7h.9M383.8 161.8h.9M388.1 63.9h.9M439.3 167.7h.9M531.3 117.7h.9M525.1 168.9h.9M385.4 162.2h.9M447.8 179.8h.9M380.1 87.3h.9M533.4 65.8h.9M449.5 180.3h.9M460.1 184.9h.9M419.4 183.3h.9M394.2 174.8h.9M444.3 184.3h.9M386.6 172.4h.9M381.7 152.0h.9M379.4 146.5h.9M383.2 118.2h.9M384.9 103.0h.9M531.2 73.4h.9M438.1 169.9h.9M409.5 182.0h.9M391.1 165.7h.9M523.8 161.3h.9M533.8 160.6h.9M529.7 171.3h.9M383.1 153.7h.9M512.3 181.1h.9M409.2 175.7h.9M385.8 173.0h.9M508.5 150.7h.9M532.5 87.2h.9M473.4 187.0h.9M408.8 177.5h.9M380.4 149.3h.9M521.8 88.1h.9M429.0 166.0h.9M382.5 134.6h.9M514.2 180.7h.9M494.9 180.5h.9M453.7 163.7h.9M395.7 177.1h.9M386.5 172.3h.9M422.6 168.1h.9M524.1 156.4h.9M532.6 62.2h.9M533.2 161.4h.9M493.7 166.6h.9M386.0 157.8h.9M526.1 171.0h.9M446.2 184.2h.9M511.3 139.8h.9M496.5 171.0h.9M533.0 130.2h.9M440.5 177.1h.9M431.3 169.1h.9M422.8 173.7h.9M380.4 116.8h.9M523.4 86.2h.9M514.0 151.6h.9M384.8 138.1h.9M531.9 124.1h.9M532.8 75.1h.9M532.5 85.7h.9M524.7 152.6h.9M385.4 125.3h.9M380.1 80.4h.9M528.6 135.6h.9M521.4 153.8h.9M386.4 143.3h.9M380.0 150.5h.9M533.9 69.1h.9M434.7 182.6h.9M503.4 181.8h.9M532.9 154.1h.9M383.7 164.9h.9M382.0 92.5h.9M404.1 174.1h.9M528.1 172.2h.9M381.3 93.2h.9M391.5 174.2h.9M522.6 156.7h.9M532.0 152.9h.9M382.8 74.2h.9M413.3 167.2h.9M491.1 184.7h.9M396.1 176.1h.9M381.9 110.9h.9M385.8 71.4h.9M427.4 169.1h.9M533.5 140.6h.9M459.1 183.5h.9M416.9 167.3h.9M382.3 167.5h.9M526.1 109.6h.9M379.5 87.6h.9M532.0 66.8h.9M436.4 176.9h.9M380.4 161.0h.9M381.5 151.2h.9M384.2 95.7h.9M380.2 87.9h.9M431.4 178.2h.9M533.9 158.7h.9M382.0 89.0h.9M380.9 126.4h.9M531.4 136.7h.9M388.4 168.0h.9M515.1 175.8h.9M383.0 157.3h.9M531.8 106.9h.9M439.6 185.3h.9M531.6 83.8h.9M530.1 162.5h.9M500.9 182.6h.9M479.0 180.5h.9M523.6 134.4h.9M381.1 98.8h.9M533.1 102.2h.9M500.5 179.8h.9M462.2 181.4h.9M506.3 124.6h.9M515.2 175.7h.9M455.8 183.1h.9M433.3 166.1h.9M523.5 175.6h.9M522.0 83.3h.9M525.6 75.1h.9M392.6 169.6h.9M468.4 180.9h.9M525.6 70.1h.9M457.0 182.9h.9M533.0 117.9h.9M380.1 96.2h.9M473.5 182.7h.9M530.5 166.0h.9M383.2 125.2h.9M531.8 97.5h.9M529.3 69.8h.9M429.9 167.2h.9M528.0 137.8h.9M406.9 173.3h.9M418.5 165.7h.9M390.0 175.0h.9M525.3 132.1h.9M526.0 112.0h.9M381.7 119.8h.9M396.7 131.8h.9M512.2 130.8h.9M530.3 147.7h.9M379.7 90.5h.9M469.0 184.7h.9M439.1 168.3h.9M409.7 180.1h.9M530.4 67.5h.9M445.7 173.5h.9M501.4 184.4h.9M527.0 64.2h.9M529.2 119.2h.9M526.9 140.7h.9M531.8 95.0h.9M527.5 105.7h.9M451.6 187.2h.9M533.3 134.2h.9M422.1 183.4h.9M526.3 124.6h.9M513.6 120.8h.9M407.8 171.3h.9M508.4 155.9h.9M458.9 178.8h.9M509.3 178.1h.9M442.7 175.3h.9M509.5 155.1h.9M434.5 184.9h.9M381.9 111.8h.9M522.6 133.9h.9M383.2 163.2h.9M396.2 115.9h.9M522.6 172.7h.9M519.6 166.9h.9M388.7 132.5h.9M448.8 177.4h.9M520.0 122.5h.9M396.7 145.0h.9M380.1 150.8h.9M381.7 148.2h.9M381.8 125.9h.9M531.9 156.3h.9M506.6 183.1h.9M533.5 164.9h.9M528.0 64.8h.9M415.1 180.1h.9M514.4 156.0h.9M471.6 187.1h.9M527.9 87.8h.9M422.6 178.6h.9M383.5 149.9h.9M531.4 168.2h.9M530.8 123.6h.9M529.5 166.3h.9M386.0 88.2h.9M379.1 80.2h.9M426.6 174.8h.9M404.2 173.1h.9M380.6 67.8h.9M385.1 78.0h.9M519.3 163.3h.9M455.8 177.5h.9M516.5 158.0h.9M447.4 165.7h.9M387.6 91.1h.9M530.1 165.8h.9M526.6 172.5h.9M420.1 172.4h.9M390.5 141.8h.9M533.3 120.0h.9M435.5 186.3h.9M522.4 135.6h.9M532.4 82.8h.9M379.9 98.0h.9M416.7 180.8h.9M524.9 70.7h.9M452.1 166.0h.9M386.0 126.2h.9M517.5 179.4h.9M436.7 184.9h.9M496.1 183.7h.9M425.6 179.9h.9M398.0 173.7h.9M519.1 176.4h.9M382.3 103.1h.9M418.6 180.6h.9M384.3 118.2h.9M381.3 97.4h.9M522.3 136.6h.9M380.0 155.3h.9M526.4 136.4h.9M532.4 162.1h.9M381.8 80.4h.9M427.6 173.4h.9M532.9 128.8h.9M526.6 86.0h.9M532.1 98.5h.9M531.8 167.1h.9M385.6 103.4h.9M431.3 183.7h.9M383.4 170.7h.9M530.9 86.8h.9M400.8 178.2h.9M387.9 158.3h.9M384.5 122.0h.9M384.5 159.2h.9M388.7 140.9h.9M389.8 164.6h.9M387.3 170.0h.9M532.4 162.0h.9M383.0 130.9h.9M382.0 140.9h.9M382.6 106.0h.9M529.9 162.3h.9M387.8 148.3h.9M531.7 113.9h.9M464.4 187.2h.9M497.6 183.6h.9M532.9 164.8h.9M528.8 131.3h.9M390.2 158.1h.9M528.5 166.6h.9M400.0 175.8h.9M531.9 140.0h.9M397.6 172.0h.9M525.9 108.3h.9M530.5 99.0h.9M380.4 133.0h.9M380.3 92.8h.9M384.3 132.6h.9M381.6 162.4h.9M408.6 179.7h.9M530.2 113.4h.9M428.0 169.4h.9M506.1 150.7h.9M397.1 178.2h.9M399.6 172.0h.9M399.2 171.4h.9M532.4 140.7h.9M390.2 172.9h.9M528.7 172.5h.9M525.4 104.0h.9M454.4 177.6h.9M405.1 179.3h.9M450.3 167.4h.9M395.0 176.5h.9M403.2 177.1h.9M528.7 90.7h.9M528.0 72.1h.9M381.6 144.7h.9M477.8 185.9h.9M406.5 170.4h.9M533.6 71.0h.9M494.5 176.7h.9M379.2 120.6h.9M519.5 177.7h.9M380.8 141.4h.9M381.9 142.0h.9M381.0 89.6h.9M402.1 166.5h.9M529.7 144.7h.9M531.7 121.1h.9M434.9 183.5h.9M379.5 114.3h.9M487.0 182.2h.9M533.2 124.1h.9M527.2 143.3h.9M383.0 155.9h.9M415.2 177.3h.9M447.8 183.8h.9M527.7 158.6h.9M532.0 154.3h.9M532.1 104.7h.9M439.0 181.4h.9M513.3 156.5h.9M415.1 182.2h.9M529.6 156.6h.9M446.2 169.9h.9M386.6 123.9h.9M530.8 166.3h.9M499.1 182.7h.9M529.4 159.1h.9M525.7 114.5h.9M513.8 140.0h.9M381.8 162.5h.9M515.7 167.1h.9M533.1 95.4h.9M407.5 180.9h.9M436.2 179.6h.9M380.7 114.3h.9M389.7 143.1h.9M456.2 179.2h.9M476.6 187.3h.9M383.4 108.8h.9M523.0 169.4h.9M529.4 148.0h.9M449.8 186.6h.9M410.6 179.7h.9M463.9 172.4h.9M528.5 151.3h.9M391.6 161.4h.9M418.5 182.9h.9M387.5 171.1h.9M379.4 155.3h.9M530.3 68.3h.9M385.4 140.9h.9M379.4 118.9h.9M508.1 146.8h.9M513.0 142.7h.9M516.1 140.2h.9M451.2 184.3h.9M379.0 116.8h.9M383.5 113.7h.9M514.8 93.7h.9M506.7 169.3h.9M521.7 157.4h.9M383.1 95.7h.9M386.1 156.8h.9M525.9 160.5h.9M402.7 176.8h.9M443.4 167.2h.9M517.3 91.7h.9M387.1 101.6h.9M448.6 186.7h.9M385.4 128.7h.9M517.5 166.6h.9M531.0 121.0h.9M497.6 178.2h.9M528.7 62.3h.9M533.5 153.9h.9M531.4 163.3h.9M509.4 144.1h.9M513.9 178.5h.9M527.3 91.9h.9M382.0 147.1h.9M533.8 139.6h.9M531.5 148.1h.9M394.5 176.3h.9M385.5 116.1h.9M383.8 151.6h.9M531.7 115.1h.9M382.7 148.4h.9M380.4 101.4h.9M380.5 108.5h.9M397.5 151.0h.9M471.0 185.0h.9M525.8 119.1h.9M379.3 101.0h.9M517.3 153.8h.9M521.6 124.5h.9M531.3 123.4h.9M392.0 165.7h.9M393.4 176.3h.9M520.2 93.2h.9M435.4 167.7h.9M457.9 146.2h.9M484.0 185.3h.9M402.3 179.3h.9M379.3 96.0h.9M432.9 169.5h.9M512.8 151.6h.9M533.3 127.2h.9M514.1 179.2h.9M385.2 171.6h.9M528.5 136.1h.9M533.4 95.0h.9M451.6 185.6h.9M392.4 168.8h.9M530.7 158.9h.9M458.5 124.8h.9M501.8 175.6h.9M515.5 138.8h.9M443.3 180.3h.9M531.4 100.5h.9M533.6 157.9h.9M460.0 177.7h.9M525.6 111.7h.9M380.5 156.5h.9M531.1 160.7h.9M383.8 149.8h.9M519.4 111.8h.9M533.2 159.2h.9M526.1 73.7h.9M507.4 183.2h.9M523.3 154.5h.9M532.4 163.6h.9M380.8 108.5h.9M497.8 180.3h.9M477.0 185.4h.9M471.6 166.6h.9M406.2 163.7h.9M528.9 137.7h.9M533.8 102.4h.9M387.3 97.6h.9M521.9 154.9h.9M529.5 84.0h.9M409.2 178.0h.9M525.8 157.3h.9M528.4 63.8h.9M514.3 138.9h.9M400.4 179.3h.9M513.1 139.4h.9M520.3 156.7h.9M382.3 95.8h.9M379.3 116.9h.9M529.8 71.8h.9M529.3 170.6h.9M529.5 168.9h.9M532.3 104.3h.9M486.1 185.1h.9M457.1 164.8h.9M516.5 180.6h.9M520.2 162.9h.9M447.0 180.1h.9M447.8 172.2h.9M381.0 71.3h.9M533.2 133.0h.9M532.7 132.2h.9M502.6 171.6h.9M383.1 87.2h.9M533.5 121.0h.9M382.2 165.3h.9M483.2 183.1h.9M380.9 78.9h.9M428.2 185.2h.9M381.5 70.1h.9M382.2 83.0h.9M409.8 174.0h.9M482.9 183.5h.9M381.3 77.9h.9M525.1 106.3h.9M400.9 174.7h.9M386.2 124.1h.9M382.9 141.0h.9M532.6 154.6h.9M513.1 147.0h.9M532.8 72.4h.9M380.0 120.9h.9M382.2 127.3h.9M389.0 165.4h.9M381.4 164.0h.9M379.6 131.1h.9M513.1 123.0h.9M530.3 144.9h.9M424.0 170.2h.9M381.9 124.4h.9M453.7 183.3h.9M459.5 136.7h.9M389.2 173.2h.9M460.6 187.4h.9M449.8 178.8h.9M529.2 91.3h.9M529.9 117.4h.9M379.4 144.8h.9M438.4 185.7h.9M379.4 86.7h.9M384.1 166.8h.9M522.0 160.6h.9M533.8 82.6h.9M513.2 171.8h.9M430.9 185.8h.9M381.6 149.8h.9M425.3 167.1h.9M380.1 167.3h.9M510.6 118.2h.9M465.0 179.8h.9M385.4 139.0h.9M440.1 185.3h.9M439.9 176.0h.9M529.1 64.1h.9M380.6 108.9h.9M390.4 171.7h.9M469.6 187.4h.9M532.5 66.5h.9M483.9 176.8h.9M531.6 165.6h.9M410.2 181.1h.9M381.0 115.2h.9M389.4 128.4h.9M381.0 82.4h.9M379.1 92.5h.9M392.9 172.8h.9M381.5 151.6h.9M471.2 185.0h.9M388.7 168.6h.9M529.9 124.3h.9M382.3 104.4h.9M530.5 133.4h.9M513.1 178.4h.9M531.7 84.4h.9M388.9 116.1h.9M531.5 71.8h.9M533.7 128.5h.9M529.5 78.1h.9M501.6 181.0h.9M532.3 91.3h.9M379.2 110.0h.9M530.6 150.2h.9M531.6 164.0h.9M380.4 114.9h.9M530.7 128.7h.9M423.4 165.3h.9M379.3 160.5h.9M519.6 172.5h.9M418.7 180.4h.9M476.8 187.0h.9M531.3 170.0h.9M381.9 71.2h.9M442.4 168.9h.9M380.7 89.8h.9M431.3 164.9h.9M452.3 169.7h.9M379.2 130.5h.9M533.9 144.6h.9M392.2 174.1h.9M379.2 141.0h.9M533.6 143.7h.9M404.9 157.4h.9M500.7 160.5h.9M521.8 124.2h.9M530.5 131.0h.9M531.6 140.7h.9M393.3 174.4h.9M383.0 171.0h.9M387.5 165.6h.9M508.6 178.2h.9M482.0 185.5h.9M384.0 128.8h.9M512.5 178.8h.9M391.5 124.8h.9M521.0 166.8h.9M381.7 104.3h.9M380.8 159.7h.9M382.0 159.0h.9M533.3 92.5h.9M459.1 167.7h.9M529.8 159.7h.9M531.3 154.0h.9M516.6 138.9h.9M533.4 106.0h.9M447.8 186.1h.9M516.3 145.2h.9M386.4 160.2h.9M380.9 166.1h.9M531.8 137.0h.9M389.5 121.2h.9M392.1 174.3h.9M531.1 116.6h.9M525.4 132.0h.9M533.6 85.3h.9M443.8 181.5h.9M457.3 186.1h.9M530.0 129.2h.9M459.0 159.1h.9M521.9 98.0h.9M383.2 156.1h.9M475.8 182.6h.9M514.6 104.4h.9M466.7 187.6h.9M476.1 185.4h.9M383.3 116.9h.9M417.8 175.4h.9M435.1 167.9h.9M528.8 70.8h.9M380.6 93.3h.9M531.2 83.1h.9M528.0 70.1h.9M449.7 175.3h.9M529.7 126.2h.9M421.8 183.5h.9M383.0 109.3h.9M533.4 75.4h.9M520.7 135.0h.9M501.0 182.6h.9M386.7 154.3h.9M381.1 68.3h.9M380.7 149.5h.9M426.9 180.3h.9M529.4 167.5h.9M482.6 171.9h.9M534.0 72.8h.9M518.3 164.9h.9M515.7 154.9h.9M532.8 90.0h.9M473.7 181.4h.9M490.6 185.9h.9M458.9 178.0h.9M433.5 185.0h.9M396.1 155.2h.9M531.5 148.0h.9M437.7 181.8h.9M379.3 112.5h.9M380.2 137.9h.9M520.1 140.6h.9M480.5 170.4h.9M381.0 156.1h.9M522.4 177.3h.9M380.8 93.6h.9M512.4 169.7h.9M528.4 80.6h.9M529.8 152.0h.9M389.1 130.9h.9M389.1 142.9h.9M523.7 134.2h.9M448.4 184.3h.9M454.6 167.0h.9M527.6 171.7h.9M440.0 166.7h.9M528.7 171.6h.9M520.5 116.4h.9M423.1 166.4h.9M517.7 178.7h.9M379.4 79.3h.9M379.7 141.6h.9M438.9 175.8h.9M527.7 148.4h.9M533.7 67.5h.9M518.8 172.4h.9M453.6 185.8h.9M466.1 187.2h.9M449.8 186.2h.9M445.4 171.6h.9M379.2 98.7h.9M427.5 164.7h.9M496.1 178.7h.9M421.1 167.1h.9M414.0 181.8h.9M382.4 166.4h.9M527.8 117.1h.9M504.9 166.0h.9M455.3 186.8h.9M391.5 78.5h.9M520.7 123.7h.9M439.8 182.5h.9M386.4 167.0h.9M532.8 102.5h.9M392.8 106.3h.9M402.1 172.4h.9M532.8 156.9h.9M532.1 139.5h.9M422.0 183.9h.9M381.3 138.8h.9M446.6 170.2h.9M530.2 78.0h.9M379.6 158.2h.9M391.0 170.3h.9M506.8 148.6h.9M442.8 175.3h.9M379.8 163.5h.9M426.5 174.9h.9M523.8 174.2h.9M388.7 126.5h.9M386.9 163.2h.9M519.9 126.4h.9M526.5 159.4h.9M465.3 187.4h.9M387.3 131.4h.9M407.7 180.8h.9M453.0 183.0h.9M516.7 96.5h.9M527.2 172.9h.9M526.8 154.7h.9M386.9 112.1h.9M392.5 172.9h.9M388.1 160.3h.9M533.3 155.0h.9M462.3 187.6h.9M532.7 91.6h.9M459.8 157.6h.9M406.8 181.2h.9M381.6 124.0h.9M439.4 168.9h.9M528.6 99.8h.9M384.8 157.7h.9M382.2 90.9h.9M380.6 87.1h.9M457.0 186.8h.9M533.6 159.6h.9M533.5 151.3h.9M525.9 109.9h.9M379.1 146.2h.9M507.9 178.2h.9M451.5 181.3h.9M520.6 149.6h.9M496.5 185.3h.9M448.6 166.5h.9M512.3 62.7h.9M529.4 71.7h.9M481.3 183.4h.9M531.2 99.1h.9M384.9 152.4h.9M379.1 160.1h.9M530.8 111.4h.9M532.4 158.6h.9M379.1 140.5h.9M527.4 122.5h.9M519.1 146.7h.9M437.9 186.6h.9M526.8 66.4h.9M380.4 153.5h.9M527.9 172.8h.9M463.7 175.0h.9M416.1 172.8h.9M381.0 132.9h.9M388.6 137.3h.9M440.1 165.9h.9M503.9 167.3h.9M390.4 175.0h.9M509.6 71.7h.9M463.9 180.9h.9M516.7 153.3h.9M522.5 171.0h.9M519.8 131.4h.9M417.0 183.3h.9M530.2 149.8h.9M526.3 155.2h.9M411.8 182.6h.9M524.6 119.7h.9M389.9 84.6h.9M380.9 91.7h.9M444.2 186.5h.9M452.4 187.4h.9M504.5 181.7h.9M438.5 182.1h.9M529.5 115.8h.9M455.3 163.5h.9M532.4 131.0h.9M386.2 84.4h.9M454.5 187.8h.9M525.9 142.7h.9M529.0 107.0h.9M401.8 167.1h.9M427.5 183.2h.9M379.4 153.9h.9M517.4 163.5h.9M532.7 164.3h.9M534.0 120.2h.9M533.3 159.9h.9M520.7 156.5h.9M509.4 137.3h.9M469.9 175.3h.9M415.9 181.1h.9M383.7 149.0h.9M410.7 176.7h.9M531.3 133.8h.9M381.6 109.2h.9M379.5 124.3h.9M383.9 131.5h.9M387.2 103.7h.9M441.5 180.2h.9M529.5 65.1h.9M512.5 170.5h.9M383.0 145.4h.9M381.0 159.8h.9M482.8 180.3h.9M427.1 166.0h.9M530.2 170.9h.9M382.5 107.0h.9M476.2 185.4h.9M507.2 172.1h.9M438.6 165.8h.9M387.4 149.0h.9M380.9 138.0h.9M527.0 147.9h.9M401.9 170.3h.9M507.9 161.0h.9M533.6 103.8h.9M520.9 173.9h.9M379.8 167.5h.9M385.4 165.0h.9M532.4 158.1h.9M512.7 165.7h.9M382.4 99.5h.9M524.1 139.5h.9M531.7 147.6h.9M384.7 169.8h.9M463.9 183.6h.9M388.6 120.4h.9M532.4 140.6h.9M383.6 73.4h.9M381.8 156.7h.9M440.3 185.9h.9M419.7 175.1h.9M524.1 168.6h.9M486.6 180.6h.9M380.9 119.7h.9M421.7 184.4h.9M402.3 179.6h.9M516.9 174.2h.9M514.8 130.1h.9M530.4 155.5h.9M460.1 149.1h.9M531.6 165.7h.9M382.1 87.7h.9M382.6 155.8h.9M532.9 163.9h.9M385.4 102.8h.9M390.8 158.4h.9M529.4 108.9h.9M527.5 165.4h.9M422.7 183.9h.9M426.9 182.6h.9M380.3 128.3h.9M516.2 167.4h.9M481.9 182.1h.9M393.6 175.8h.9M486.1 183.6h.9M423.1 183.7h.9M525.0 172.8h.9M383.7 158.7h.9M426.6 183.9h.9M527.5 118.8h.9M532.2 157.0h.9M434.5 171.5h.9M414.9 179.0h.9M492.8 166.8h.9M381.0 131.6h.9M394.7 168.0h.9M407.5 179.2h.9M531.8 103.0h.9M530.0 160.0h.9M531.8 160.5h.9M523.0 106.1h.9M517.0 140.1h.9M531.6 98.0h.9M532.9 156.7h.9M530.6 152.8h.9M432.1 171.5h.9M531.0 114.1h.9M404.5 178.4h.9M425.6 174.5h.9M484.7 181.3h.9M386.5 95.5h.9M414.6 171.9h.9M517.7 130.6h.9M436.9 166.9h.9M471.2 185.8h.9M379.7 106.1h.9M533.6 116.7h.9M425.1 177.8h.9M525.5 171.9h.9M394.6 143.9h.9M379.2 130.2h.9M440.6 186.1h.9M459.7 162.3h.9M500.1 119.5h.9M528.2 102.9h.9M391.2 83.4h.9M530.4 109.0h.9M512.9 176.3h.9M527.0 72.7h.9M390.9 173.3h.9M380.1 110.3h.9M380.4 140.1h.9M474.4 186.6h.9M532.7 161.5h.9M442.7 167.6h.9M382.5 152.2h.9M531.8 92.3h.9M417.2 181.5h.9M530.8 128.5h.9M381.4 91.1h.9M423.8 168.3h.9M530.6 139.3h.9M491.1 186.0h.9M470.6 185.0h.9M516.9 161.3h.9M434.6 184.6h.9M533.6 132.9h.9M384.5 171.5h.9M449.1 165.0h.9M489.8 175.6h.9M388.2 142.7h.9M528.2 143.5h.9M510.0 178.3h.9M382.5 75.0h.9M383.6 158.2h.9M434.2 186.0h.9M393.8 163.6h.9M532.5 81.9h.9M533.2 165.3h.9M383.4 153.2h.9M411.0 164.7h.9M418.0 182.3h.9M380.2 67.7h.9M379.6 133.2h.9M383.9 164.4h.9M383.3 70.1h.9M527.2 134.2h.9M530.6 148.8h.9M490.5 149.4h.9M533.0 111.5h.9M521.6 161.5h.9M380.5 138.2h.9M379.6 100.0h.9M384.8 116.8h.9M407.4 179.9h.9M379.2 125.8h.9M478.0 187.1h.9M508.9 151.9h.9M530.5 130.2h.9M519.7 138.4h.9M382.2 91.4h.9M513.9 162.5h.9M521.4 170.3h.9M436.2 180.2h.9M399.9 175.8h.9M532.9 72.9h.9M527.5 157.7h.9M532.8 66.1h.9M379.4 162.7h.9M383.7 74.3h.9M528.9 122.4h.9M459.3 184.3h.9M421.5 181.6h.9M379.6 133.0h.9M380.6 154.4h.9M380.7 147.0h.9M531.4 89.0h.9M506.5 183.6h.9M466.6 186.7h.9M529.4 63.8h.9M385.3 74.8h.9M532.8 90.5h.9M437.1 171.5h.9M384.9 66.8h.9M401.6 177.3h.9M516.1 137.8h.9M414.9 168.9h.9M484.4 184.6h.9M379.3 137.9h.9M380.7 63.5h.9M455.0 187.7h.9M410.8 181.6h.9M529.6 168.2h.9M430.5 184.0h.9M488.6 174.7h.9M524.2 139.8h.9M473.6 186.2h.9M443.3 183.8h.9M384.4 83.1h.9M527.0 140.2h.9M386.8 165.5h.9M526.4 113.3h.9M382.3 130.6h.9M380.6 108.1h.9M383.2 77.2h.9M399.7 85.5h.9M533.7 84.2h.9M531.2 130.6h.9M528.6 168.4h.9M532.8 95.6h.9M526.3 141.0h.9M387.2 148.1h.9M382.0 155.0h.9M398.6 167.6h.9M529.3 78.3h.9M383.5 75.2h.9M526.3 102.5h.9M529.4 170.7h.9M422.9 184.6h.9M485.4 181.0h.9M525.4 160.1h.9M511.5 165.3h.9M466.0 183.1h.9M454.8 187.3h.9M380.0 110.0h.9M414.4 180.8h.9M443.7 170.5h.9M472.7 174.4h.9M530.0 168.6h.9M383.1 113.3h.9M381.7 95.2h.9M527.8 158.7h.9M445.9 186.6h.9M423.0 181.7h.9M531.2 138.9h.9M526.8 142.9h.9M379.4 159.5h.9M425.3 148.0h.9M419.7 167.6h.9M531.6 106.0h.9M407.1 179.7h.9M522.0 129.1h.9M457.5 187.7h.9M435.3 164.5h.9M530.3 162.3h.9M387.4 161.6h.9M522.3 121.9h.9M390.2 96.5h.9M409.9 160.5h.9M529.2 101.9h.9M452.6 187.6h.9M528.6 163.2h.9M455.3 183.8h.9M383.7 169.1h.9M383.4 100.3h.9M433.9 169.4h.9M388.2 173.3h.9M400.1 172.6h.9M516.3 172.0h.9M428.2 181.5h.9M424.2 168.9h.9M527.3 160.4h.9M386.3 161.8h.9M512.9 178.4h.9M522.3 147.2h.9M392.0 123.7h.9M480.0 186.2h.9M400.8 136.9h.9M382.6 109.1h.9M493.7 185.8h.9M429.5 180.7h.9M382.2 115.0h.9M457.9 138.0h.9M452.1 177.7h.9M380.4 157.4h.9M525.2 174.7h.9M533.7 126.0h.9M385.9 127.5h.9M532.0 114.0h.9M379.9 110.6h.9M531.7 130.0h.9M441.9 166.2h.9M380.1 148.7h.9M414.1 171.9h.9M532.9 90.7h.9M380.4 129.4h.9M517.2 176.2h.9M488.8 184.0h.9M452.2 168.1h.9M477.0 184.8h.9M460.5 184.0h.9M521.4 176.0h.9M532.1 154.5h.9M514.1 165.9h.9M386.0 79.0h.9M533.8 112.6h.9M381.9 115.7h.9M517.7 140.2h.9M382.1 114.9h.9M414.1 181.1h.9M390.5 125.6h.9M515.3 181.1h.9M386.7 159.8h.9M381.8 137.6h.9M427.1 163.9h.9M379.3 158.3h.9M520.3 68.5h.9M526.2 145.6h.9M392.8 173.0h.9M494.6 184.2h.9M532.8 146.1h.9M526.2 172.0h.9M509.9 109.4h.9M508.5 95.2h.9M431.1 185.2h.9M438.6 184.9h.9M381.0 146.5h.9M526.2 172.0h.9M510.9 181.4h.9M479.9 181.4h.9M532.0 131.4h.9M438.4 186.4h.9M528.9 123.1h.9M388.1 80.4h.9M382.1 145.8h.9M379.6 161.4h.9M472.2 174.9h.9M523.4 145.1h.9M449.3 176.7h.9M408.1 177.8h.9M462.7 185.6h.9M531.2 83.8h.9M530.2 152.8h.9M389.2 172.9h.9M507.5 171.3h.9M397.3 178.5h.9M534.0 104.7h.9M390.4 166.7h.9M379.3 135.4h.9M516.1 180.1h.9M513.5 171.0h.9M388.0 137.2h.9M466.9 184.4h.9M533.6 119.0h.9M442.8 177.5h.9M440.5 168.0h.9M529.8 169.2h.9M533.4 150.4h.9M406.9 171.0h.9M528.9 161.4h.9M427.6 167.3h.9M382.0 102.2h.9M380.5 132.0h.9M518.2 117.8h.9M384.1 144.5h.9M416.3 177.3h.9M520.1 170.5h.9M382.6 137.6h.9M441.0 167.6h.9M385.4 155.8h.9M533.9 102.6h.9M530.4 129.8h.9M380.8 134.2h.9M402.0 146.5h.9M379.4 150.9h.9M521.6 89.2h.9M379.1 123.0h.9M382.3 91.4h.9M532.0 63.0h.9M514.7 181.1h.9M434.4 169.2h.9M396.9 164.0h.9M515.0 165.4h.9M381.9 66.4h.9M385.6 112.6h.9M522.6 90.0h.9M470.4 172.9h.9M470.1 187.0h.9M521.7 175.7h.9M522.1 67.9h.9M533.6 149.0h.9M462.4 186.5h.9M532.7 108.6h.9M381.4 168.0h.9M490.4 186.4h.9M526.4 169.0h.9M508.6 148.4h.9M381.5 124.6h.9M531.5 74.9h.9M380.2 133.8h.9M513.7 168.5h.9M379.9 123.3h.9M385.6 172.3h.9M382.8 154.1h.9M380.2 94.6h.9M398.7 83.1h.9M513.5 142.3h.9M530.0 143.8h.9M518.2 85.0h.9M381.7 137.4h.9M380.9 163.6h.9M531.5 167.5h.9M382.2 148.0h.9M529.7 94.8h.9M517.0 177.3h.9M526.6 107.9h.9M503.8 158.6h.9M488.0 161.6h.9M529.6 131.6h.9M389.5 166.1h.9M533.6 157.4h.9M486.8 182.7h.9M519.6 147.9h.9M463.3 176.9h.9M479.5 185.3h.9M522.6 117.3h.9M530.7 119.7h.9M533.6 162.7h.9M530.9 139.3h.9M379.1 128.7h.9M453.3 187.5h.9M460.1 159.2h.9M467.3 168.5h.9M520.1 128.3h.9M436.0 165.6h.9M525.6 93.2h.9M532.0 80.8h.9M456.7 175.6h.9M514.0 142.8h.9M382.5 79.7h.9M462.3 179.9h.9M513.1 170.9h.9M381.0 165.0h.9M379.0 157.7h.9M514.2 157.3h.9M390.3 172.7h.9M392.8 142.6h.9M381.9 126.2h.9M379.1 119.8h.9M454.6 179.0h.9M379.7 165.0h.9M522.0 139.1h.9M384.6 111.2h.9M532.9 152.7h.9M436.4 166.5h.9M481.7 179.7h.9M388.3 132.5h.9M528.3 142.6h.9M526.9 72.2h.9M388.2 119.0h.9M516.7 153.2h.9M531.4 145.8h.9M504.9 181.3h.9M410.9 180.4h.9M520.2 124.4h.9M518.5 149.5h.9M509.0 154.4h.9M380.3 134.8h.9M528.3 171.7h.9M532.2 75.9h.9M530.7 108.1h.9M528.5 128.1h.9M464.1 177.0h.9M530.9 97.8h.9M380.4 157.1h.9M384.0 90.4h.9M528.9 92.7h.9M425.5 183.5h.9M530.2 111.1h.9M379.7 136.1h.9M431.6 169.3h.9M382.5 71.7h.9M380.7 126.7h.9M532.5 129.6h.9M529.2 162.0h.9M396.1 170.9h.9M527.8 135.5h.9M455.4 181.1h.9M408.3 180.6h.9M438.9 181.1h.9M399.6 165.1h.9M523.1 156.8h.9M519.3 145.3h.9M431.5 177.4h.9M526.0 138.8h.9M531.8 109.7h.9M434.4 171.4h.9M454.2 186.4h.9M529.0 171.1h.9M530.3 109.7h.9M429.1 167.6h.9M495.4 181.2h.9M467.6 186.9h.9M532.4 143.2h.9M388.4 64.1h.9M437.9 183.1h.9M531.7 146.9h.9M514.0 158.6h.9M408.4 169.1h.9M461.5 180.7h.9M414.1 175.4h.9M529.7 107.2h.9M441.5 167.9h.9M383.3 165.1h.9M393.3 169.3h.9M380.6 167.0h.9M392.9 120.1h.9M386.2 63.1h.9M417.9 175.7h.9M458.6 173.4h.9M532.8 122.4h.9M389.6 174.1h.9M509.0 182.5h.9M512.3 160.6h.9M428.4 162.5h.9M430.0 182.2h.9M525.9 62.3h.9M437.7 185.2h.9M384.1 78.4h.9M422.7 164.4h.9M531.2 159.1h.9M421.4 171.7h.9M523.4 133.3h.9M525.7 157.6h.9M469.7 185.3h.9M380.3 116.1h.9M532.4 76.5h.9M533.2 72.8h.9M384.4 97.7h.9M382.7 114.5h.9M509.4 140.0h.9M385.6 145.9h.9M530.0 152.3h.9M469.4 182.7h.9M526.0 147.1h.9M467.7 187.7h.9M380.8 146.4h.9M383.2 151.5h.9M529.6 128.8h.9M527.3 146.2h.9M516.3 160.3h.9M503.4 117.5h.9M381.7 167.5h.9M500.4 184.0h.9M440.5 167.4h.9M384.9 164.0h.9M530.4 101.9h.9M506.6 183.1h.9M389.6 173.3h.9M379.5 71.3h.9M511.8 170.3h.9M379.9 125.1h.9M530.1 170.7h.9M396.6 171.6h.9M444.5 185.1h.9M514.7 179.3h.9M532.2 69.9h.9M386.1 151.9h.9M380.4 157.6h.9M439.0 180.8h.9M397.1 176.4h.9M392.2 163.4h.9M529.8 115.5h.9M509.8 172.7h.9M531.8 82.3h.9M426.6 182.5h.9M481.9 181.3h.9M386.0 119.3h.9M389.6 69.8h.9M533.5 108.4h.9M494.4 164.9h.9M381.8 76.3h.9M386.8 160.7h.9M425.4 167.6h.9M513.6 165.5h.9M434.9 164.0h.9M532.3 148.5h.9M528.2 107.1h.9M387.2 160.2h.9M532.2 88.7h.9M397.0 77.8h.9M385.0 171.0h.9M411.2 181.6h.9M420.1 166.0h.9M435.4 185.8h.9M386.7 93.5h.9M525.0 80.1h.9M486.8 184.1h.9M388.7 169.9h.9M379.4 102.8h.9M513.3 135.2h.9M532.0 82.3h.9M392.6 176.2h.9M382.5 86.4h.9M456.4 185.0h.9M517.3 83.0h.9M440.7 185.7h.9M482.4 178.4h.9M383.4 145.3h.9M523.5 174.5h.9M533.8 98.0h.9M516.9 139.5h.9M531.7 166.7h.9M395.6 66.5h.9M383.9 164.6h.9M406.0 175.2h.9M381.3 88.2h.9M381.9 169.1h.9M419.6 166.4h.9M530.5 132.2h.9M532.0 163.8h.9M385.3 108.3h.9M459.5 154.9h.9M476.2 184.5h.9M380.0 166.3h.9M525.8 77.2h.9M434.1 174.2h.9M533.1 155.8h.9M531.5 63.4h.9M518.9 159.1h.9M458.2 185.5h.9M498.3 183.3h.9M530.5 161.6h.9M388.4 119.6h.9M530.8 168.2h.9M385.8 92.1h.9M530.5 74.8h.9M530.2 143.2h.9M521.6 169.5h.9M430.7 167.5h.9M380.0 108.1h.9M530.8 70.2h.9M390.2 129.7h.9M380.9 153.1h.9M384.4 110.0h.9M533.1 77.8h.9M462.0 185.5h.9M499.6 182.3h.9M426.9 178.1h.9M524.9 107.5h.9M527.9 108.6h.9M530.8 65.4h.9M383.5 129.8h.9M513.3 118.4h.9M525.2 172.1h.9M380.7 148.7h.9M516.8 168.2h.9M520.6 170.0h.9M441.3 176.0h.9M474.2 183.8h.9M532.4 104.1h.9M522.6 177.0h.9M513.5 181.6h.9M380.8 152.2h.9M524.0 111.4h.9M526.5 68.3h.9M450.1 182.6h.9M533.2 99.9h.9M468.9 184.4h.9M380.0 94.1h.9M382.4 100.1h.9M517.1 147.4h.9M408.0 177.8h.9M533.7 146.8h.9M513.2 151.1h.9M533.8 86.6h.9M405.5 176.5h.9M416.9 179.7h.9M379.1 138.8h.9M529.9 156.2h.9M501.4 184.7h.9M382.1 110.6h.9M421.1 179.0h.9M526.2 99.3h.9M385.5 101.8h.9M429.8 178.6h.9M508.6 176.6h.9M384.8 131.9h.9M422.3 182.7h.9M405.7 178.9h.9M434.3 183.8h.9M463.5 186.2h.9M420.1 175.9h.9M519.3 130.9h.9M525.5 78.6h.9M532.1 148.1h.9M513.0 120.0h.9M532.9 105.3h.9M385.2 97.9h.9M379.3 155.4h.9M520.9 104.2h.9M532.1 141.9h.9M533.8 146.1h.9M460.4 166.1h.9M424.9 165.2h.9M413.5 180.3h.9M380.5 140.4h.9M502.1 181.3h.9M382.5 119.3h.9M519.4 77.9h.9M381.2 113.4h.9M533.1 148.1h.9M444.5 166.4h.9M407.7 174.4h.9M514.6 180.2h.9M386.9 158.7h.9M435.0 169.3h.9M384.9 170.0h.9M382.4 147.9h.9M518.3 157.8h.9M442.4 185.7h.9M383.7 86.4h.9M531.9 141.8h.9M514.7 132.5h.9M533.2 101.2h.9M385.8 151.8h.9M530.4 159.8h.9M379.6 149.9h.9M518.4 173.4h.9M532.2 145.9h.9M423.3 165.4h.9M454.0 169.6h.9M381.9 71.1h.9M519.7 172.2h.9M527.8 126.2h.9M395.4 177.6h.9M412.0 180.9h.9M462.6 177.7h.9M450.1 186.2h.9M532.2 149.5h.9M493.3 183.3h.9M533.4 123.1h.9M381.2 86.0h.9M514.9 139.6h.9M529.3 167.3h.9M383.7 170.7h.9M380.7 167.1h.9M407.9 173.3h.9M477.3 164.3h.9M379.9 142.9h.9M392.5 117.6h.9M532.1 163.4h.9M392.4 155.5h.9M508.9 151.9h.9M380.1 69.7h.9M441.1 168.9h.9M532.3 103.1h.9M382.9 149.9h.9M533.1 75.9h.9M382.5 161.4h.9M382.0 99.5h.9M513.9 171.8h.9M428.1 175.6h.9M444.5 184.3h.9M380.3 133.6h.9M528.3 162.4h.9M380.9 166.3h.9M518.1 164.1h.9M379.4 104.9h.9M512.5 176.1h.9M533.2 126.6h.9M393.2 141.0h.9M453.6 167.8h.9M391.9 145.1h.9M468.7 165.4h.9M528.7 168.1h.9M388.9 117.7h.9M380.0 154.9h.9M390.6 112.9h.9M529.9 93.5h.9M530.1 164.6h.9M379.4 149.7h.9M379.4 149.7h.9M520.3 122.0h.9M393.4 176.9h.9M439.5 170.2h.9M524.4 137.7h.9M530.7 164.8h.9M395.6 176.4h.9M518.8 160.8h.9M533.4 154.8h.9M527.5 151.0h.9M440.3 167.4h.9M517.8 147.0h.9M391.0 112.8h.9M433.6 167.7h.9M523.8 146.9h.9M379.5 82.0h.9M379.4 78.0h.9M515.9 170.7h.9M533.3 126.1h.9M403.5 175.4h.9M530.4 74.9h.9M513.7 146.4h.9M479.1 184.3h.9M496.8 181.4h.9M533.4 158.9h.9M523.6 80.4h.9M381.7 164.4h.9M531.8 156.0h.9M380.7 162.8h.9M526.1 149.0h.9M381.0 125.2h.9M524.2 115.4h.9M528.0 109.9h.9M392.6 165.6h.9M437.2 167.5h.9M532.0 164.9h.9M518.9 160.6h.9M436.5 167.6h.9M517.9 177.4h.9M516.9 177.7h.9M513.3 141.9h.9M531.3 78.1h.9M521.6 100.9h.9M380.1 163.7h.9M383.0 85.6h.9M532.1 157.3h.9M396.1 165.4h.9M530.3 90.1h.9M529.1 115.0h.9M379.1 153.5h.9M519.8 119.1h.9M453.3 185.7h.9M387.8 171.4h.9M415.6 167.4h.9M380.2 95.1h.9M422.8 183.2h.9M389.0 118.1h.9M518.1 76.8h.9M459.6 178.4h.9M442.9 185.3h.9M496.9 178.2h.9M382.1 164.0h.9M380.2 122.4h.9M394.7 86.1h.9M404.1 177.3h.9M511.9 134.9h.9M435.4 185.6h.9M382.5 112.1h.9M381.6 144.1h.9M405.1 169.5h.9M406.3 176.8h.9M532.5 146.8h.9M383.3 171.2h.9M496.7 184.5h.9M433.6 175.2h.9M384.2 171.6h.9M524.2 88.3h.9M456.8 185.5h.9M533.0 82.7h.9M531.5 62.5h.9M528.5 89.3h.9M501.1 181.5h.9M382.7 101.8h.9M380.3 147.8h.9M409.1 166.1h.9M388.1 147.9h.9M532.5 105.0h.9M531.6 134.8h.9M438.4 185.1h.9M437.5 165.6h.9M521.2 78.9h.9M531.3 144.7h.9M392.4 112.5h.9M519.4 158.4h.9M491.0 185.1h.9M382.5 132.0h.9M530.4 169.4h.9M465.2 186.9h.9M527.2 131.3h.9M379.0 107.8h.9M437.8 186.7h.9M459.9 170.6h.9M533.1 154.8h.9M381.2 157.3h.9M453.1 181.6h.9M430.3 165.7h.9M383.9 107.2h.9M530.3 129.8h.9M509.1 180.7h.9M502.1 137.2h.9M379.9 83.9h.9M532.2 115.8h.9M521.2 95.5h.9M405.2 179.2h.9M515.5 173.8h.9M387.4 140.0h.9M529.7 152.6h.9M523.4 160.6h.9M531.2 152.5h.9M529.5 88.8h.9M382.3 157.3h.9M488.5 183.9h.9M431.6 167.8h.9M380.0 122.2h.9M381.3 95.5h.9M508.2 164.3h.9M438.0 181.1h.9M388.8 123.4h.9M531.7 157.4h.9M383.5 131.5h.9M468.8 175.7h.9M516.1 168.4h.9M533.1 101.3h.9M418.0 168.8h.9M517.5 139.0h.9M533.6 139.3h.9M519.6 171.7h.9M424.8 169.4h.9M517.5 138.9h.9M528.6 83.0h.9M511.1 135.7h.9M382.8 157.1h.9M491.6 185.3h.9M523.2 173.3h.9M379.9 66.0h.9M518.7 136.7h.9M527.8 151.6h.9M533.6 84.8h.9M532.2 78.7h.9M526.2 153.1h.9M509.4 169.4h.9M475.0 181.3h.9M498.0 180.4h.9M527.5 91.3h.9M379.4 106.2h.9M522.3 170.0h.9M381.6 150.7h.9M486.3 170.8h.9M507.0 142.1h.9M381.6 98.7h.9M518.2 64.1h.9M528.9 160.2h.9M433.9 169.6h.9M533.9 156.0h.9M382.1 87.2h.9M515.9 155.0h.9M380.5 157.5h.9M381.6 109.4h.9M404.0 177.7h.9M531.9 125.8h.9M382.1 126.1h.9M493.6 182.4h.9M471.3 186.6h.9M382.2 170.3h.9M426.8 175.4h.9M447.6 185.6h.9M531.0 124.9h.9M449.2 185.3h.9M518.4 158.0h.9M473.9 180.6h.9M533.9 88.0h.9M526.1 174.4h.9M532.2 82.1h.9M513.6 161.5h.9M382.2 139.8h.9M389.0 86.1h.9M403.2 169.9h.9M469.7 182.0h.9M380.7 138.4h.9M386.1 122.7h.9M449.9 168.9h.9M533.0 159.5h.9M379.5 89.3h.9M446.7 184.7h.9M427.1 168.7h.9M457.0 153.2h.9M385.9 163.0h.9M455.3 182.4h.9M471.5 183.3h.9M533.8 142.0h.9M403.0 180.4h.9M380.9 159.2h.9M426.7 182.0h.9M473.0 186.3h.9M379.8 144.3h.9M489.0 183.9h.9M530.3 79.4h.9M522.0 146.9h.9M387.6 113.4h.9M532.3 76.6h.9M516.2 128.5h.9M381.9 152.1h.9M531.5 120.9h.9M521.3 155.8h.9M531.0 112.7h.9M519.0 177.2h.9M387.4 153.3h.9M519.3 120.5h.9M381.0 81.2h.9M380.4 72.2h.9M534.0 74.9h.9M528.5 121.1h.9M516.9 171.3h.9M508.7 176.6h.9M412.9 175.1h.9M530.3 89.0h.9M380.2 138.3h.9M418.0 177.1h.9M460.3 131.3h.9M522.8 172.6h.9M381.0 149.2h.9M518.4 110.0h.9M379.7 155.6h.9M529.6 110.3h.9M465.1 187.3h.9M409.6 175.8h.9M433.5 171.1h.9M516.3 165.8h.9M436.8 167.9h.9M521.7 106.7h.9M381.3 163.2h.9M381.5 130.7h.9M519.5 157.4h.9" stroke="#efe9f4" stroke-width="0.9" fill="none" opacity="0.72"/></g>
<g filter="url(#bl2)"><path d="M378.5,166 L380,168 L383,171.5 L390,175.5 L400,180 L420,184.5 L440,187 L456,188 L480,187.5 L500,185.5 L515,181.5 L525,176 L531,170.5 L533,167 L534,166 L534,195 L378,195Z" fill="none" stroke="#3a1058" stroke-width="2.5" opacity="0.5"/></g>
</g>
<path d="M393.8 196.3L393.5 183.3" stroke="#e9e860" stroke-width="0.7"/>
<path d="M393.8 196.3L412.3 197.9" stroke="#6fe67c" stroke-width="0.7"/>
<path d="M393.5 181.3l-2 3.6h3.8z" fill="#d6d422"/>
<ellipse cx="412.3" cy="197.9" rx="2.3" ry="1.5" fill="#19a52c"/>
<circle cx="393.8" cy="196.3" r="1.6" fill="#e01c12"/>
<text x="396" y="184.5" font-size="4.8" font-weight="bold" fill="#2c2c3c">Y</text>
<text x="395.8" y="195.7" font-size="4.8" font-weight="bold" fill="#2c2c3c">X</text>
<text x="412.3" y="196.3" font-size="4.8" font-weight="bold" fill="#2c2c3c">Z</text>
<text x="357" y="226.2" font-size="8" fill="#1c1c2c" stroke="#1c1c2c" stroke-width="0.12" textLength="65.6" lengthAdjust="spacingAndGlyphs">Time: 12.10s</text>
<path d="M60.6 238.6V482.4M93.7 238.6V482.4M126.8 238.6V482.4M159.9 238.6V482.4M193.0 238.6V482.4M226.1 238.6V482.4M27.5 467.2H226.1M27.5 451.9H226.1M27.5 436.7H226.1M27.5 421.4H226.1M27.5 406.2H226.1M27.5 391.0H226.1M27.5 375.7H226.1M27.5 360.5H226.1M27.5 345.2H226.1M27.5 330.0H226.1M27.5 314.8H226.1M27.5 299.5H226.1M27.5 284.3H226.1M27.5 269.0H226.1M27.5 253.8H226.1M27.5 238.6H226.1" stroke="#fbf5f8" stroke-width="0.6" fill="none"/>
<path d="M32.80 469.93v-1.91h1.32v1.91zM38.09 460.14v-6.55h1.32v6.55zM43.39 458.15v-11.23h1.32v11.23zM46.04 458.15v-3.00h1.32v3.00zM50.01 456.30v-6.54h1.32v6.54zM55.30 441.61v-6.58h1.32v6.58zM59.28 444.11v-26.89h1.32v26.89zM61.92 442.44v-3.53h1.32v3.53zM64.57 434.60v-11.37h1.32v11.37zM67.22 434.60v-4.63h1.32v4.63zM69.87 443.88v-16.01h1.32v16.01zM73.84 450.10v-0.71h1.32v0.71zM76.49 450.10v-21.61h1.32v21.61zM81.78 444.12v-8.04h1.32v8.04zM84.43 446.78v-9.61h1.32v9.61zM88.40 441.53v-5.12h1.32v5.12zM92.38 438.22v-4.74h1.32v4.74zM97.67 437.94v-2.25h1.32v2.25zM102.97 438.63v-9.93h1.32v9.93zM108.26 440.87v-1.73h1.32v1.73zM114.88 422.53v-3.44h1.32v3.44zM120.18 427.97v-0.82h1.32v0.82zM125.48 415.40v-21.39h1.32v21.39zM129.45 406.20v-11.57h1.32v11.57zM132.10 397.66v-2.33h1.32v2.33zM136.07 388.52v-3.16h1.32v3.16zM138.72 382.33v-5.67h1.32v5.67zM142.69 377.52v-3.37h1.32v3.37zM147.98 357.05v-26.92h1.32v26.92zM150.63 348.31v-18.33h1.32v18.33zM153.28 348.31v-2.64h1.32v2.64zM159.90 348.43v-0.47h1.32v0.47zM162.55 354.24v-35.29h1.32v35.29zM165.20 309.35v-15.92h1.32v15.92zM169.17 305.62v-8.93h1.32v8.93zM189.03 460.63v-1.55h1.32v1.55zM191.68 467.25v-16.50h1.32v16.50zM199.62 463.56v-1.19h1.32v1.19zM204.92 461.99v-0.98h1.32v0.98zM207.56 461.99v-4.33h1.32v4.33zM211.54 461.27v-1.52h1.32v1.52zM219.48 468.72v-3.73h1.32v3.73zM224.78 471.73v-10.20h1.32v10.20z" fill="#a4565c" stroke="#5e1419" stroke-width="0.35"/>
<path d="M27.50 482.40v-1.52h1.32v1.52zM28.82 482.40v-3.81h1.32v3.81zM30.15 482.40v-8.72h1.32v8.72zM31.47 482.40v-12.47h1.32v12.47zM32.80 482.40v-12.47h1.32v12.47zM34.12 482.40v-2.46h1.32v2.46zM35.44 482.40v-16.24h1.32v16.24zM36.77 482.40v-22.26h1.32v22.26zM38.09 482.40v-22.26h1.32v22.26zM39.42 482.40v-18.52h1.32v18.52zM40.74 482.40v-19.62h1.32v19.62zM42.06 482.40v-20.81h1.32v20.81zM43.39 482.40v-24.25h1.32v24.25zM44.71 482.40v-24.25h1.32v24.25zM46.04 482.40v-24.25h1.32v24.25zM47.36 482.40v-22.94h1.32v22.94zM48.68 482.40v-21.72h1.32v21.72zM50.01 482.40v-26.10h1.32v26.10zM51.33 482.40v-26.10h1.32v26.10zM52.66 482.40v-23.58h1.32v23.58zM53.98 482.40v-40.79h1.32v40.79zM55.30 482.40v-40.79h1.32v40.79zM56.63 482.40v-24.00h1.32v24.00zM57.95 482.40v-38.29h1.32v38.29zM59.28 482.40v-38.29h1.32v38.29zM60.60 482.40v-26.08h1.32v26.08zM61.92 482.40v-39.96h1.32v39.96zM63.25 482.40v-39.96h1.32v39.96zM64.57 482.40v-47.80h1.32v47.80zM65.90 482.40v-47.80h1.32v47.80zM67.22 482.40v-47.80h1.32v47.80zM68.54 482.40v-31.17h1.32v31.17zM69.87 482.40v-38.52h1.32v38.52zM71.19 482.40v-38.52h1.32v38.52zM72.52 482.40v-30.00h1.32v30.00zM73.84 482.40v-32.30h1.32v32.30zM75.16 482.40v-32.30h1.32v32.30zM76.49 482.40v-32.30h1.32v32.30zM77.81 482.40v-26.32h1.32v26.32zM79.14 482.40v-30.90h1.32v30.90zM80.46 482.40v-38.28h1.32v38.28zM81.78 482.40v-38.28h1.32v38.28zM83.11 482.40v-29.71h1.32v29.71zM84.43 482.40v-35.62h1.32v35.62zM85.76 482.40v-35.62h1.32v35.62zM87.08 482.40v-40.87h1.32v40.87zM88.40 482.40v-40.87h1.32v40.87zM89.73 482.40v-37.93h1.32v37.93zM91.05 482.40v-44.18h1.32v44.18zM92.38 482.40v-44.18h1.32v44.18zM93.70 482.40v-28.18h1.32v28.18zM95.02 482.40v-35.07h1.32v35.07zM96.35 482.40v-42.75h1.32v42.75zM97.67 482.40v-44.46h1.32v44.46zM99.00 482.40v-44.46h1.32v44.46zM100.32 482.40v-43.36h1.32v43.36zM101.64 482.40v-30.87h1.32v30.87zM102.97 482.40v-43.77h1.32v43.77zM104.29 482.40v-43.77h1.32v43.77zM105.62 482.40v-33.03h1.32v33.03zM106.94 482.40v-41.53h1.32v41.53zM108.26 482.40v-41.53h1.32v41.53zM109.59 482.40v-40.45h1.32v40.45zM110.91 482.40v-40.17h1.32v40.17zM112.24 482.40v-42.81h1.32v42.81zM113.56 482.40v-58.54h1.32v58.54zM114.88 482.40v-59.87h1.32v59.87zM116.21 482.40v-59.87h1.32v59.87zM117.53 482.40v-52.20h1.32v52.20zM118.86 482.40v-54.43h1.32v54.43zM120.18 482.40v-54.43h1.32v54.43zM121.50 482.40v-47.53h1.32v47.53zM122.83 482.40v-50.20h1.32v50.20zM124.15 482.40v-67.00h1.32v67.00zM125.48 482.40v-67.00h1.32v67.00zM126.80 482.40v-62.83h1.32v62.83zM128.12 482.40v-76.20h1.32v76.20zM129.45 482.40v-76.20h1.32v76.20zM130.77 482.40v-60.40h1.32v60.40zM132.10 482.40v-84.74h1.32v84.74zM133.42 482.40v-84.74h1.32v84.74zM134.74 482.40v-93.88h1.32v93.88zM136.07 482.40v-93.88h1.32v93.88zM137.39 482.40v-77.96h1.32v77.96zM138.72 482.40v-100.07h1.32v100.07zM140.04 482.40v-100.07h1.32v100.07zM141.36 482.40v-104.88h1.32v104.88zM142.69 482.40v-104.88h1.32v104.88zM144.01 482.40v-96.46h1.32v96.46zM145.34 482.40v-102.58h1.32v102.58zM146.66 482.40v-125.35h1.32v125.35zM147.98 482.40v-125.35h1.32v125.35zM149.31 482.40v-120.83h1.32v120.83zM150.63 482.40v-134.09h1.32v134.09zM151.96 482.40v-134.09h1.32v134.09zM153.28 482.40v-134.09h1.32v134.09zM154.60 482.40v-127.05h1.32v127.05zM155.93 482.40v-119.04h1.32v119.04zM157.25 482.40v-123.55h1.32v123.55zM158.58 482.40v-133.97h1.32v133.97zM159.90 482.40v-133.97h1.32v133.97zM161.22 482.40v-121.96h1.32v121.96zM162.55 482.40v-128.16h1.32v128.16zM163.87 482.40v-128.16h1.32v128.16zM165.20 482.40v-173.05h1.32v173.05zM166.52 482.40v-173.05h1.32v173.05zM167.84 482.40v-176.78h1.32v176.78zM169.17 482.40v-176.78h1.32v176.78zM170.49 482.40v-150.88h1.32v150.88zM171.82 482.40v-211.84h1.32v211.84zM173.14 482.40v-234.70h1.32v234.70zM174.46 482.40v-243.84h1.32v243.84zM175.79 482.40v-243.84h1.32v243.84zM177.11 482.40v-243.84h1.32v243.84zM178.44 482.40v-243.84h1.32v243.84zM179.76 482.40v-179.63h1.32v179.63zM181.08 482.40v-101.26h1.32v101.26zM182.41 482.40v-62.90h1.32v62.90zM183.73 482.40v-34.47h1.32v34.47zM185.06 482.40v-30.55h1.32v30.55zM186.38 482.40v-28.27h1.32v28.27zM187.70 482.40v-21.77h1.32v21.77zM189.03 482.40v-21.77h1.32v21.77zM190.35 482.40v-15.15h1.32v15.15zM191.68 482.40v-15.15h1.32v15.15zM193.00 482.40v-14.10h1.32v14.10zM194.32 482.40v-15.70h1.32v15.70zM195.65 482.40v-16.16h1.32v16.16zM196.97 482.40v-17.36h1.32v17.36zM198.30 482.40v-18.84h1.32v18.84zM199.62 482.40v-18.84h1.32v18.84zM200.94 482.40v-17.88h1.32v17.88zM202.27 482.40v-16.12h1.32v16.12zM203.59 482.40v-18.94h1.32v18.94zM204.92 482.40v-20.41h1.32v20.41zM206.24 482.40v-20.41h1.32v20.41zM207.56 482.40v-20.41h1.32v20.41zM208.89 482.40v-16.34h1.32v16.34zM210.21 482.40v-20.29h1.32v20.29zM211.54 482.40v-21.13h1.32v21.13zM212.86 482.40v-21.13h1.32v21.13zM214.18 482.40v-12.27h1.32v12.27zM215.51 482.40v-10.67h1.32v10.67zM216.83 482.40v-11.30h1.32v11.30zM218.16 482.40v-13.68h1.32v13.68zM219.48 482.40v-13.68h1.32v13.68zM220.80 482.40v-13.21h1.32v13.21zM222.13 482.40v-13.21h1.32v13.21zM223.45 482.40v-10.67h1.32v10.67zM224.78 482.40v-10.67h1.32v10.67z" fill="#8f1e25" stroke="#37070b" stroke-width="0.5"/>
<path d="M27.5 238.1V482.7H227.1" stroke="#7c7c98" stroke-width="0.75" fill="none"/>
<text x="24.5" y="484.2" font-size="4.9" font-weight="bold" fill="#3c3c34" text-anchor="end" textLength="3.3" lengthAdjust="spacingAndGlyphs">0</text>
<text x="24.5" y="469.0" font-size="4.9" font-weight="bold" fill="#3c3c34" text-anchor="end" textLength="6.6" lengthAdjust="spacingAndGlyphs">10</text>
<text x="24.5" y="453.7" font-size="4.9" font-weight="bold" fill="#3c3c34" text-anchor="end" textLength="6.6" lengthAdjust="spacingAndGlyphs">20</text>
<text x="24.5" y="438.5" font-size="4.9" font-weight="bold" fill="#3c3c34" text-anchor="end" textLength="6.6" lengthAdjust="spacingAndGlyphs">30</text>
<text x="24.5" y="423.2" font-size="4.9" font-weight="bold" fill="#3c3c34" text-anchor="end" textLength="6.6" lengthAdjust="spacingAndGlyphs">40</text>
<text x="24.5" y="408.0" font-size="4.9" font-weight="bold" fill="#3c3c34" text-anchor="end" textLength="6.6" lengthAdjust="spacingAndGlyphs">50</text>
<text x="24.5" y="392.8" font-size="4.9" font-weight="bold" fill="#3c3c34" text-anchor="end" textLength="6.6" lengthAdjust="spacingAndGlyphs">60</text>
<text x="24.5" y="377.5" font-size="4.9" font-weight="bold" fill="#3c3c34" text-anchor="end" textLength="6.6" lengthAdjust="spacingAndGlyphs">70</text>
<text x="24.5" y="362.3" font-size="4.9" font-weight="bold" fill="#3c3c34" text-anchor="end" textLength="6.6" lengthAdjust="spacingAndGlyphs">80</text>
<text x="24.5" y="347.0" font-size="4.9" font-weight="bold" fill="#3c3c34" text-anchor="end" textLength="6.6" lengthAdjust="spacingAndGlyphs">90</text>
<text x="24.5" y="331.8" font-size="4.9" font-weight="bold" fill="#3c3c34" text-anchor="end" textLength="8.8" lengthAdjust="spacingAndGlyphs">100</text>
<text x="24.5" y="316.6" font-size="4.9" font-weight="bold" fill="#3c3c34" text-anchor="end" textLength="8.8" lengthAdjust="spacingAndGlyphs">110</text>
<text x="24.5" y="301.3" font-size="4.9" font-weight="bold" fill="#3c3c34" text-anchor="end" textLength="8.8" lengthAdjust="spacingAndGlyphs">120</text>
<text x="24.5" y="286.1" font-size="4.9" font-weight="bold" fill="#3c3c34" text-anchor="end" textLength="8.8" lengthAdjust="spacingAndGlyphs">130</text>
<text x="24.5" y="270.8" font-size="4.9" font-weight="bold" fill="#3c3c34" text-anchor="end" textLength="8.8" lengthAdjust="spacingAndGlyphs">140</text>
<text x="24.5" y="255.6" font-size="4.9" font-weight="bold" fill="#3c3c34" text-anchor="end" textLength="8.8" lengthAdjust="spacingAndGlyphs">150</text>
<text x="24.5" y="240.4" font-size="4.9" font-weight="bold" fill="#3c3c34" text-anchor="end" textLength="8.8" lengthAdjust="spacingAndGlyphs">160</text>
<text x="28.3" y="488.4" font-size="4.9" font-weight="bold" fill="#3c3c34" text-anchor="middle" textLength="3.3" lengthAdjust="spacingAndGlyphs">0</text>
<text x="61.4" y="488.4" font-size="4.9" font-weight="bold" fill="#3c3c34" text-anchor="middle" textLength="7.5" lengthAdjust="spacingAndGlyphs">0.5</text>
<text x="94.5" y="488.4" font-size="4.9" font-weight="bold" fill="#3c3c34" text-anchor="middle" textLength="3.3" lengthAdjust="spacingAndGlyphs">1</text>
<text x="127.6" y="488.4" font-size="4.9" font-weight="bold" fill="#3c3c34" text-anchor="middle" textLength="7.5" lengthAdjust="spacingAndGlyphs">1.5</text>
<text x="160.7" y="488.4" font-size="4.9" font-weight="bold" fill="#3c3c34" text-anchor="middle" textLength="3.3" lengthAdjust="spacingAndGlyphs">2</text>
<text x="193.8" y="488.4" font-size="4.9" font-weight="bold" fill="#3c3c34" text-anchor="middle" textLength="7.5" lengthAdjust="spacingAndGlyphs">2.5</text>
<path d="M27.5 482.4h-2.6M27.5 467.2h-2.6M27.5 451.9h-2.6M27.5 436.7h-2.6M27.5 421.4h-2.6M27.5 406.2h-2.6M27.5 391.0h-2.6M27.5 375.7h-2.6M27.5 360.5h-2.6M27.5 345.2h-2.6M27.5 330.0h-2.6M27.5 314.8h-2.6M27.5 299.5h-2.6M27.5 284.3h-2.6M27.5 269.0h-2.6M27.5 253.8h-2.6M27.5 238.6h-2.6M27.5 482.4v2M60.6 482.4v2M93.7 482.4v2M126.8 482.4v2M159.9 482.4v2M193.0 482.4v2M226.1 482.4v2" stroke="#55556e" stroke-width="0.6" fill="none"/>
<text transform="translate(12.1,360.5) rotate(-90)" font-size="7.6" font-weight="bold" fill="#1a1a1a" text-anchor="middle" textLength="59" lengthAdjust="spacingAndGlyphs">Number of Particles</text>
<text x="126.6" y="495.2" font-size="7" font-weight="bold" fill="#1a1a1a" text-anchor="middle" textLength="52" lengthAdjust="spacingAndGlyphs">Cloud Height</text>
<rect x="182.5" y="238.8" width="44.2" height="7.4" rx="1" fill="#fff" stroke="#4a4a4a" stroke-width="0.7"/>
<rect x="184.7" y="240.7" width="9.8" height="3.3" fill="#e6141e"/>
<text x="196.0" y="244.2" font-size="4.4" fill="#2a2a3a" textLength="29.0" lengthAdjust="spacingAndGlyphs">bin_values</text>
<rect x="230" y="363.6" width="1" height="2.8" fill="#444"/>
<path d="M360.0 239.2V484.0M395.5 239.2V484.0M431.0 239.2V484.0M466.4 239.2V484.0M501.9 239.2V484.0M537.4 239.2V484.0M324.5 470.4H537.4M324.5 456.8H537.4M324.5 443.2H537.4M324.5 429.6H537.4M324.5 416.0H537.4M324.5 402.4H537.4M324.5 388.8H537.4M324.5 375.2H537.4M324.5 361.6H537.4M324.5 348.0H537.4M324.5 334.4H537.4M324.5 320.8H537.4M324.5 307.2H537.4M324.5 293.6H537.4M324.5 280.0H537.4M324.5 266.4H537.4M324.5 252.8H537.4M324.5 239.2H537.4" stroke="#fbf5f8" stroke-width="0.6" fill="none"/>
<path d="M358.57 462.25v-0.94h1.42v0.94zM367.08 461.12v-0.39h1.42v0.39zM369.92 460.70v-0.89h1.42v0.89zM395.47 454.63v-0.90h1.42v0.90zM413.92 444.87v-0.58h1.42v0.58zM429.54 413.00v-4.27h1.42v4.27zM432.37 410.42v-1.08h1.42v1.08zM438.05 410.30v-2.17h1.42v2.17zM442.31 405.38v-0.47h1.42v0.47zM449.41 405.10v-0.44h1.42v0.44zM453.67 404.67v-2.16h1.42v2.16zM457.92 403.80v-0.33h1.42v0.33zM463.60 403.12v-3.09h1.42v3.09zM466.44 403.69v-1.65h1.42v1.65zM470.70 393.77v-1.50h1.42v1.50zM476.38 386.99v-4.49h1.42v4.49zM500.51 471.17v-0.63h1.42v0.63zM504.76 471.71v-1.07h1.42v1.07zM509.02 471.09v-0.65h1.42v0.65zM513.28 471.05v-0.77h1.42v0.77zM517.54 471.60v-0.35h1.42v0.35z" fill="#a4565c" stroke="#5e1419" stroke-width="0.35"/>
<path d="M324.50 484.00v-0.56h1.42v0.56zM325.92 484.00v-1.88h1.42v1.88zM327.34 484.00v-3.05h1.42v3.05zM328.76 484.00v-3.71h1.42v3.71zM330.18 484.00v-5.47h1.42v5.47zM331.60 484.00v-6.57h1.42v6.57zM333.02 484.00v-7.32h1.42v7.32zM334.44 484.00v-8.67h1.42v8.67zM335.86 484.00v-10.19h1.42v10.19zM337.27 484.00v-11.31h1.42v11.31zM338.69 484.00v-11.67h1.42v11.67zM340.11 484.00v-13.97h1.42v13.97zM341.53 484.00v-13.97h1.42v13.97zM342.95 484.00v-16.10h1.42v16.10zM344.37 484.00v-17.05h1.42v17.05zM345.79 484.00v-18.27h1.42v18.27zM347.21 484.00v-18.28h1.42v18.28zM348.63 484.00v-19.10h1.42v19.10zM350.05 484.00v-21.61h1.42v21.61zM351.47 484.00v-22.05h1.42v22.05zM352.89 484.00v-22.66h1.42v22.66zM354.31 484.00v-22.66h1.42v22.66zM355.73 484.00v-21.98h1.42v21.98zM357.15 484.00v-21.75h1.42v21.75zM358.57 484.00v-21.75h1.42v21.75zM359.99 484.00v-21.28h1.42v21.28zM361.40 484.00v-22.40h1.42v22.40zM362.82 484.00v-23.06h1.42v23.06zM364.24 484.00v-23.06h1.42v23.06zM365.66 484.00v-22.88h1.42v22.88zM367.08 484.00v-22.88h1.42v22.88zM368.50 484.00v-22.22h1.42v22.22zM369.92 484.00v-23.30h1.42v23.30zM371.34 484.00v-23.30h1.42v23.30zM372.76 484.00v-22.99h1.42v22.99zM374.18 484.00v-23.50h1.42v23.50zM375.60 484.00v-23.64h1.42v23.64zM377.02 484.00v-23.64h1.42v23.64zM378.44 484.00v-23.95h1.42v23.95zM379.86 484.00v-24.13h1.42v24.13zM381.28 484.00v-24.13h1.42v24.13zM382.70 484.00v-23.23h1.42v23.23zM384.11 484.00v-23.23h1.42v23.23zM385.53 484.00v-23.11h1.42v23.11zM386.95 484.00v-23.52h1.42v23.52zM388.37 484.00v-25.62h1.42v25.62zM389.79 484.00v-26.03h1.42v26.03zM391.21 484.00v-26.86h1.42v26.86zM392.63 484.00v-26.93h1.42v26.93zM394.05 484.00v-27.58h1.42v27.58zM395.47 484.00v-29.37h1.42v29.37zM396.89 484.00v-29.37h1.42v29.37zM398.31 484.00v-30.30h1.42v30.30zM399.73 484.00v-30.43h1.42v30.43zM401.15 484.00v-30.69h1.42v30.69zM402.57 484.00v-31.62h1.42v31.62zM403.99 484.00v-33.91h1.42v33.91zM405.41 484.00v-34.79h1.42v34.79zM406.83 484.00v-35.30h1.42v35.30zM408.24 484.00v-37.48h1.42v37.48zM409.66 484.00v-38.02h1.42v38.02zM411.08 484.00v-38.83h1.42v38.83zM412.50 484.00v-38.83h1.42v38.83zM413.92 484.00v-39.13h1.42v39.13zM415.34 484.00v-39.13h1.42v39.13zM416.76 484.00v-43.00h1.42v43.00zM418.18 484.00v-45.01h1.42v45.01zM419.60 484.00v-46.44h1.42v46.44zM421.02 484.00v-49.87h1.42v49.87zM422.44 484.00v-51.48h1.42v51.48zM423.86 484.00v-55.62h1.42v55.62zM425.28 484.00v-59.60h1.42v59.60zM426.70 484.00v-65.36h1.42v65.36zM428.12 484.00v-66.31h1.42v66.31zM429.54 484.00v-71.00h1.42v71.00zM430.95 484.00v-71.00h1.42v71.00zM432.37 484.00v-73.58h1.42v73.58zM433.79 484.00v-73.58h1.42v73.58zM435.21 484.00v-70.74h1.42v70.74zM436.63 484.00v-73.65h1.42v73.65zM438.05 484.00v-73.70h1.42v73.70zM439.47 484.00v-73.70h1.42v73.70zM440.89 484.00v-78.02h1.42v78.02zM442.31 484.00v-78.62h1.42v78.62zM443.73 484.00v-78.62h1.42v78.62zM445.15 484.00v-77.80h1.42v77.80zM446.57 484.00v-78.27h1.42v78.27zM447.99 484.00v-78.90h1.42v78.90zM449.41 484.00v-78.90h1.42v78.90zM450.83 484.00v-78.68h1.42v78.68zM452.25 484.00v-77.58h1.42v77.58zM453.67 484.00v-79.33h1.42v79.33zM455.08 484.00v-79.33h1.42v79.33zM456.50 484.00v-80.20h1.42v80.20zM457.92 484.00v-80.20h1.42v80.20zM459.34 484.00v-78.84h1.42v78.84zM460.76 484.00v-79.75h1.42v79.75zM462.18 484.00v-80.88h1.42v80.88zM463.60 484.00v-80.88h1.42v80.88zM465.02 484.00v-79.60h1.42v79.60zM466.44 484.00v-80.31h1.42v80.31zM467.86 484.00v-80.31h1.42v80.31zM469.28 484.00v-84.91h1.42v84.91zM470.70 484.00v-90.23h1.42v90.23zM472.12 484.00v-90.23h1.42v90.23zM473.54 484.00v-88.96h1.42v88.96zM474.96 484.00v-93.33h1.42v93.33zM476.38 484.00v-97.01h1.42v97.01zM477.80 484.00v-97.01h1.42v97.01zM479.21 484.00v-95.01h1.42v95.01zM480.63 484.00v-101.06h1.42v101.06zM482.05 484.00v-108.47h1.42v108.47zM483.47 484.00v-121.31h1.42v121.31zM484.89 484.00v-130.13h1.42v130.13zM486.31 484.00v-144.59h1.42v144.59zM487.73 484.00v-155.84h1.42v155.84zM489.15 484.00v-175.06h1.42v175.06zM490.57 484.00v-216.85h1.42v216.85zM491.99 484.00v-244.80h1.42v244.80zM493.41 484.00v-244.80h1.42v244.80zM494.83 484.00v-244.80h1.42v244.80zM496.25 484.00v-32.80h1.42v32.80zM497.67 484.00v-13.08h1.42v13.08zM499.09 484.00v-12.58h1.42v12.58zM500.51 484.00v-12.83h1.42v12.83zM501.93 484.00v-12.83h1.42v12.83zM503.34 484.00v-12.26h1.42v12.26zM504.76 484.00v-12.29h1.42v12.29zM506.18 484.00v-12.29h1.42v12.29zM507.60 484.00v-12.53h1.42v12.53zM509.02 484.00v-12.91h1.42v12.91zM510.44 484.00v-12.91h1.42v12.91zM511.86 484.00v-12.95h1.42v12.95zM513.28 484.00v-12.95h1.42v12.95zM514.70 484.00v-12.15h1.42v12.15zM516.12 484.00v-12.40h1.42v12.40zM517.54 484.00v-12.40h1.42v12.40zM518.96 484.00v-12.03h1.42v12.03zM520.38 484.00v-11.91h1.42v11.91zM521.80 484.00v-12.01h1.42v12.01zM523.22 484.00v-12.01h1.42v12.01zM524.64 484.00v-11.87h1.42v11.87zM526.05 484.00v-10.16h1.42v10.16zM527.47 484.00v-8.81h1.42v8.81zM528.89 484.00v-7.40h1.42v7.40zM530.31 484.00v-6.02h1.42v6.02zM531.73 484.00v-4.94h1.42v4.94zM533.15 484.00v-3.63h1.42v3.63zM534.57 484.00v-1.95h1.42v1.95zM535.99 484.00v-0.67h1.42v0.67z" fill="#8f1e25" stroke="#37070b" stroke-width="0.5"/>
<path d="M324.5 238.7V484.3H538.4" stroke="#7c7c98" stroke-width="0.75" fill="none"/>
<text x="321.3" y="485.8" font-size="4.9" font-weight="bold" fill="#3c3c34" text-anchor="end" textLength="3.6" lengthAdjust="spacingAndGlyphs">0</text>
<text x="321.3" y="472.2" font-size="4.9" font-weight="bold" fill="#3c3c34" text-anchor="end" textLength="11.2" lengthAdjust="spacingAndGlyphs">500</text>
<text x="321.3" y="458.6" font-size="4.9" font-weight="bold" fill="#3c3c34" text-anchor="end" textLength="14.8" lengthAdjust="spacingAndGlyphs">1000</text>
<text x="321.3" y="445.0" font-size="4.9" font-weight="bold" fill="#3c3c34" text-anchor="end" textLength="14.8" lengthAdjust="spacingAndGlyphs">1500</text>
<text x="321.3" y="431.4" font-size="4.9" font-weight="bold" fill="#3c3c34" text-anchor="end" textLength="14.8" lengthAdjust="spacingAndGlyphs">2000</text>
<text x="321.3" y="417.8" font-size="4.9" font-weight="bold" fill="#3c3c34" text-anchor="end" textLength="14.8" lengthAdjust="spacingAndGlyphs">2500</text>
<text x="321.3" y="404.2" font-size="4.9" font-weight="bold" fill="#3c3c34" text-anchor="end" textLength="14.8" lengthAdjust="spacingAndGlyphs">3000</text>
<text x="321.3" y="390.6" font-size="4.9" font-weight="bold" fill="#3c3c34" text-anchor="end" textLength="14.8" lengthAdjust="spacingAndGlyphs">3500</text>
<text x="321.3" y="377.0" font-size="4.9" font-weight="bold" fill="#3c3c34" text-anchor="end" textLength="14.8" lengthAdjust="spacingAndGlyphs">4000</text>
<text x="321.3" y="363.4" font-size="4.9" font-weight="bold" fill="#3c3c34" text-anchor="end" textLength="14.8" lengthAdjust="spacingAndGlyphs">4500</text>
<text x="321.3" y="349.8" font-size="4.9" font-weight="bold" fill="#3c3c34" text-anchor="end" textLength="14.8" lengthAdjust="spacingAndGlyphs">5000</text>
<text x="321.3" y="336.2" font-size="4.9" font-weight="bold" fill="#3c3c34" text-anchor="end" textLength="14.8" lengthAdjust="spacingAndGlyphs">5500</text>
<text x="321.3" y="322.6" font-size="4.9" font-weight="bold" fill="#3c3c34" text-anchor="end" textLength="14.8" lengthAdjust="spacingAndGlyphs">6000</text>
<text x="321.3" y="309.0" font-size="4.9" font-weight="bold" fill="#3c3c34" text-anchor="end" textLength="14.8" lengthAdjust="spacingAndGlyphs">6500</text>
<text x="321.3" y="295.4" font-size="4.9" font-weight="bold" fill="#3c3c34" text-anchor="end" textLength="14.8" lengthAdjust="spacingAndGlyphs">7000</text>
<text x="321.3" y="281.8" font-size="4.9" font-weight="bold" fill="#3c3c34" text-anchor="end" textLength="14.8" lengthAdjust="spacingAndGlyphs">7500</text>
<text x="321.3" y="268.2" font-size="4.9" font-weight="bold" fill="#3c3c34" text-anchor="end" textLength="14.8" lengthAdjust="spacingAndGlyphs">8000</text>
<text x="321.3" y="254.6" font-size="4.9" font-weight="bold" fill="#3c3c34" text-anchor="end" textLength="14.8" lengthAdjust="spacingAndGlyphs">8500</text>
<text x="321.3" y="241.0" font-size="4.9" font-weight="bold" fill="#3c3c34" text-anchor="end" textLength="14.8" lengthAdjust="spacingAndGlyphs">9000</text>
<text x="325.3" y="490.0" font-size="4.9" font-weight="bold" fill="#3c3c34" text-anchor="middle" textLength="3.3" lengthAdjust="spacingAndGlyphs">0</text>
<text x="360.8" y="490.0" font-size="4.9" font-weight="bold" fill="#3c3c34" text-anchor="middle" textLength="7.5" lengthAdjust="spacingAndGlyphs">0.5</text>
<text x="396.3" y="490.0" font-size="4.9" font-weight="bold" fill="#3c3c34" text-anchor="middle" textLength="3.3" lengthAdjust="spacingAndGlyphs">1</text>
<text x="431.8" y="490.0" font-size="4.9" font-weight="bold" fill="#3c3c34" text-anchor="middle" textLength="7.5" lengthAdjust="spacingAndGlyphs">1.5</text>
<text x="467.2" y="490.0" font-size="4.9" font-weight="bold" fill="#3c3c34" text-anchor="middle" textLength="3.3" lengthAdjust="spacingAndGlyphs">2</text>
<text x="502.7" y="490.0" font-size="4.9" font-weight="bold" fill="#3c3c34" text-anchor="middle" textLength="7.5" lengthAdjust="spacingAndGlyphs">2.5</text>
<text x="538.2" y="490.0" font-size="4.9" font-weight="bold" fill="#3c3c34" text-anchor="middle" textLength="3.3" lengthAdjust="spacingAndGlyphs">3</text>
<path d="M324.5 484.0h-2.8M324.5 470.4h-2.8M324.5 456.8h-2.8M324.5 443.2h-2.8M324.5 429.6h-2.8M324.5 416.0h-2.8M324.5 402.4h-2.8M324.5 388.8h-2.8M324.5 375.2h-2.8M324.5 361.6h-2.8M324.5 348.0h-2.8M324.5 334.4h-2.8M324.5 320.8h-2.8M324.5 307.2h-2.8M324.5 293.6h-2.8M324.5 280.0h-2.8M324.5 266.4h-2.8M324.5 252.8h-2.8M324.5 239.2h-2.8M324.5 484.0v2M360.0 484.0v2M395.5 484.0v2M431.0 484.0v2M466.4 484.0v2M501.9 484.0v2M537.4 484.0v2" stroke="#55556e" stroke-width="0.6" fill="none"/>
<text transform="translate(304.0,361.5) rotate(-90)" font-size="9.0" font-weight="bold" fill="#1a1a1a" text-anchor="middle" textLength="59" lengthAdjust="spacingAndGlyphs">Number of Particles</text>
<text x="431.0" y="497.0" font-size="7" font-weight="bold" fill="#1a1a1a" text-anchor="middle" textLength="52" lengthAdjust="spacingAndGlyphs">Cloud Height</text>
<rect x="490.6" y="239.0" width="53.1" height="8.0" rx="1" fill="#fff" stroke="#4a4a4a" stroke-width="0.7"/>
<rect x="493.0" y="241.8" width="10.8" height="3.6" fill="#e6141e"/>
<text x="506.2" y="245.4" font-size="5.0" fill="#2a2a3a" textLength="33.6" lengthAdjust="spacingAndGlyphs">bin_values</text>
</svg></body></html>
